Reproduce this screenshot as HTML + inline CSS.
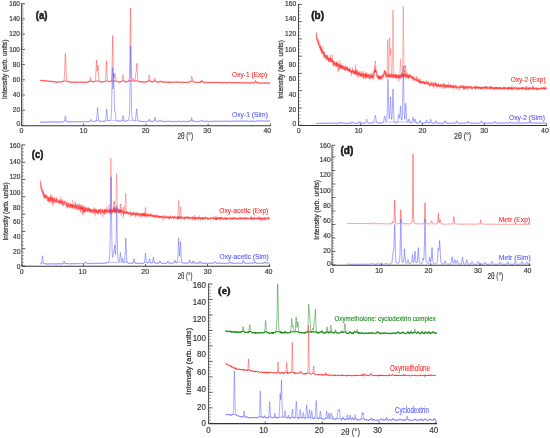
<!DOCTYPE html>
<html><head><meta charset="utf-8"><style>
html,body{margin:0;padding:0;background:#fff;overflow:hidden;}
svg{display:block;}
text{font-family:"Liberation Sans", Arial, sans-serif;}
</style></head><body>
<svg width="550" height="438" viewBox="0 0 550 438">
<rect width="550" height="438" fill="#fff"/>
<line x1="21.50" y1="3.30" x2="21.50" y2="125.50" stroke="#333" stroke-width="0.9"/>
<line x1="21.50" y1="125.50" x2="24.90" y2="125.50" stroke="#333" stroke-width="0.8"/>
<line x1="21.50" y1="123.98" x2="23.50" y2="123.98" stroke="#666" stroke-width="0.6"/>
<line x1="21.50" y1="122.45" x2="23.50" y2="122.45" stroke="#666" stroke-width="0.6"/>
<line x1="21.50" y1="120.93" x2="23.50" y2="120.93" stroke="#666" stroke-width="0.6"/>
<line x1="21.50" y1="119.41" x2="23.50" y2="119.41" stroke="#666" stroke-width="0.6"/>
<line x1="21.50" y1="117.89" x2="23.50" y2="117.89" stroke="#666" stroke-width="0.6"/>
<line x1="21.50" y1="116.37" x2="23.50" y2="116.37" stroke="#666" stroke-width="0.6"/>
<line x1="21.50" y1="114.84" x2="23.50" y2="114.84" stroke="#666" stroke-width="0.6"/>
<line x1="21.50" y1="113.32" x2="23.50" y2="113.32" stroke="#666" stroke-width="0.6"/>
<line x1="21.50" y1="111.80" x2="23.50" y2="111.80" stroke="#666" stroke-width="0.6"/>
<line x1="21.50" y1="110.28" x2="24.90" y2="110.28" stroke="#333" stroke-width="0.8"/>
<line x1="21.50" y1="108.75" x2="23.50" y2="108.75" stroke="#666" stroke-width="0.6"/>
<line x1="21.50" y1="107.23" x2="23.50" y2="107.23" stroke="#666" stroke-width="0.6"/>
<line x1="21.50" y1="105.71" x2="23.50" y2="105.71" stroke="#666" stroke-width="0.6"/>
<line x1="21.50" y1="104.19" x2="23.50" y2="104.19" stroke="#666" stroke-width="0.6"/>
<line x1="21.50" y1="102.66" x2="23.50" y2="102.66" stroke="#666" stroke-width="0.6"/>
<line x1="21.50" y1="101.14" x2="23.50" y2="101.14" stroke="#666" stroke-width="0.6"/>
<line x1="21.50" y1="99.62" x2="23.50" y2="99.62" stroke="#666" stroke-width="0.6"/>
<line x1="21.50" y1="98.09" x2="23.50" y2="98.09" stroke="#666" stroke-width="0.6"/>
<line x1="21.50" y1="96.57" x2="23.50" y2="96.57" stroke="#666" stroke-width="0.6"/>
<line x1="21.50" y1="95.05" x2="24.90" y2="95.05" stroke="#333" stroke-width="0.8"/>
<line x1="21.50" y1="93.53" x2="23.50" y2="93.53" stroke="#666" stroke-width="0.6"/>
<line x1="21.50" y1="92.00" x2="23.50" y2="92.00" stroke="#666" stroke-width="0.6"/>
<line x1="21.50" y1="90.48" x2="23.50" y2="90.48" stroke="#666" stroke-width="0.6"/>
<line x1="21.50" y1="88.96" x2="23.50" y2="88.96" stroke="#666" stroke-width="0.6"/>
<line x1="21.50" y1="87.44" x2="23.50" y2="87.44" stroke="#666" stroke-width="0.6"/>
<line x1="21.50" y1="85.92" x2="23.50" y2="85.92" stroke="#666" stroke-width="0.6"/>
<line x1="21.50" y1="84.39" x2="23.50" y2="84.39" stroke="#666" stroke-width="0.6"/>
<line x1="21.50" y1="82.87" x2="23.50" y2="82.87" stroke="#666" stroke-width="0.6"/>
<line x1="21.50" y1="81.35" x2="23.50" y2="81.35" stroke="#666" stroke-width="0.6"/>
<line x1="21.50" y1="79.83" x2="24.90" y2="79.83" stroke="#333" stroke-width="0.8"/>
<line x1="21.50" y1="78.30" x2="23.50" y2="78.30" stroke="#666" stroke-width="0.6"/>
<line x1="21.50" y1="76.78" x2="23.50" y2="76.78" stroke="#666" stroke-width="0.6"/>
<line x1="21.50" y1="75.26" x2="23.50" y2="75.26" stroke="#666" stroke-width="0.6"/>
<line x1="21.50" y1="73.73" x2="23.50" y2="73.73" stroke="#666" stroke-width="0.6"/>
<line x1="21.50" y1="72.21" x2="23.50" y2="72.21" stroke="#666" stroke-width="0.6"/>
<line x1="21.50" y1="70.69" x2="23.50" y2="70.69" stroke="#666" stroke-width="0.6"/>
<line x1="21.50" y1="69.17" x2="23.50" y2="69.17" stroke="#666" stroke-width="0.6"/>
<line x1="21.50" y1="67.64" x2="23.50" y2="67.64" stroke="#666" stroke-width="0.6"/>
<line x1="21.50" y1="66.12" x2="23.50" y2="66.12" stroke="#666" stroke-width="0.6"/>
<line x1="21.50" y1="64.60" x2="24.90" y2="64.60" stroke="#333" stroke-width="0.8"/>
<line x1="21.50" y1="63.08" x2="23.50" y2="63.08" stroke="#666" stroke-width="0.6"/>
<line x1="21.50" y1="61.55" x2="23.50" y2="61.55" stroke="#666" stroke-width="0.6"/>
<line x1="21.50" y1="60.03" x2="23.50" y2="60.03" stroke="#666" stroke-width="0.6"/>
<line x1="21.50" y1="58.51" x2="23.50" y2="58.51" stroke="#666" stroke-width="0.6"/>
<line x1="21.50" y1="56.99" x2="23.50" y2="56.99" stroke="#666" stroke-width="0.6"/>
<line x1="21.50" y1="55.46" x2="23.50" y2="55.46" stroke="#666" stroke-width="0.6"/>
<line x1="21.50" y1="53.94" x2="23.50" y2="53.94" stroke="#666" stroke-width="0.6"/>
<line x1="21.50" y1="52.42" x2="23.50" y2="52.42" stroke="#666" stroke-width="0.6"/>
<line x1="21.50" y1="50.90" x2="23.50" y2="50.90" stroke="#666" stroke-width="0.6"/>
<line x1="21.50" y1="49.38" x2="24.90" y2="49.38" stroke="#333" stroke-width="0.8"/>
<line x1="21.50" y1="47.85" x2="23.50" y2="47.85" stroke="#666" stroke-width="0.6"/>
<line x1="21.50" y1="46.33" x2="23.50" y2="46.33" stroke="#666" stroke-width="0.6"/>
<line x1="21.50" y1="44.81" x2="23.50" y2="44.81" stroke="#666" stroke-width="0.6"/>
<line x1="21.50" y1="43.29" x2="23.50" y2="43.29" stroke="#666" stroke-width="0.6"/>
<line x1="21.50" y1="41.76" x2="23.50" y2="41.76" stroke="#666" stroke-width="0.6"/>
<line x1="21.50" y1="40.24" x2="23.50" y2="40.24" stroke="#666" stroke-width="0.6"/>
<line x1="21.50" y1="38.72" x2="23.50" y2="38.72" stroke="#666" stroke-width="0.6"/>
<line x1="21.50" y1="37.20" x2="23.50" y2="37.20" stroke="#666" stroke-width="0.6"/>
<line x1="21.50" y1="35.67" x2="23.50" y2="35.67" stroke="#666" stroke-width="0.6"/>
<line x1="21.50" y1="34.15" x2="24.90" y2="34.15" stroke="#333" stroke-width="0.8"/>
<line x1="21.50" y1="32.63" x2="23.50" y2="32.63" stroke="#666" stroke-width="0.6"/>
<line x1="21.50" y1="31.11" x2="23.50" y2="31.11" stroke="#666" stroke-width="0.6"/>
<line x1="21.50" y1="29.58" x2="23.50" y2="29.58" stroke="#666" stroke-width="0.6"/>
<line x1="21.50" y1="28.06" x2="23.50" y2="28.06" stroke="#666" stroke-width="0.6"/>
<line x1="21.50" y1="26.54" x2="23.50" y2="26.54" stroke="#666" stroke-width="0.6"/>
<line x1="21.50" y1="25.02" x2="23.50" y2="25.02" stroke="#666" stroke-width="0.6"/>
<line x1="21.50" y1="23.49" x2="23.50" y2="23.49" stroke="#666" stroke-width="0.6"/>
<line x1="21.50" y1="21.97" x2="23.50" y2="21.97" stroke="#666" stroke-width="0.6"/>
<line x1="21.50" y1="20.45" x2="23.50" y2="20.45" stroke="#666" stroke-width="0.6"/>
<line x1="21.50" y1="18.92" x2="24.90" y2="18.92" stroke="#333" stroke-width="0.8"/>
<line x1="21.50" y1="17.40" x2="23.50" y2="17.40" stroke="#666" stroke-width="0.6"/>
<line x1="21.50" y1="15.88" x2="23.50" y2="15.88" stroke="#666" stroke-width="0.6"/>
<line x1="21.50" y1="14.36" x2="23.50" y2="14.36" stroke="#666" stroke-width="0.6"/>
<line x1="21.50" y1="12.83" x2="23.50" y2="12.83" stroke="#666" stroke-width="0.6"/>
<line x1="21.50" y1="11.31" x2="23.50" y2="11.31" stroke="#666" stroke-width="0.6"/>
<line x1="21.50" y1="9.79" x2="23.50" y2="9.79" stroke="#666" stroke-width="0.6"/>
<line x1="21.50" y1="8.27" x2="23.50" y2="8.27" stroke="#666" stroke-width="0.6"/>
<line x1="21.50" y1="6.75" x2="23.50" y2="6.75" stroke="#666" stroke-width="0.6"/>
<line x1="21.50" y1="5.22" x2="23.50" y2="5.22" stroke="#666" stroke-width="0.6"/>
<line x1="21.50" y1="3.70" x2="24.90" y2="3.70" stroke="#333" stroke-width="0.8"/>
<line x1="21.50" y1="125.80" x2="270.50" y2="125.80" stroke="#333" stroke-width="1.1"/>
<line x1="21.40" y1="125.80" x2="21.40" y2="123.60" stroke="#333" stroke-width="0.8"/>
<line x1="83.65" y1="125.80" x2="83.65" y2="123.60" stroke="#333" stroke-width="0.8"/>
<line x1="145.90" y1="125.80" x2="145.90" y2="123.60" stroke="#333" stroke-width="0.8"/>
<line x1="208.15" y1="125.80" x2="208.15" y2="123.60" stroke="#333" stroke-width="0.8"/>
<line x1="270.40" y1="125.80" x2="270.40" y2="123.60" stroke="#333" stroke-width="0.8"/>
<text x="20.00" y="125.93" font-size="6.5" fill="#383838" text-anchor="end" stroke="#383838" stroke-width="0.18">0</text>
<text x="20.00" y="112.03" font-size="6.5" fill="#383838" text-anchor="end" stroke="#383838" stroke-width="0.18">20</text>
<text x="20.00" y="97.03" font-size="6.5" fill="#383838" text-anchor="end" stroke="#383838" stroke-width="0.18">40</text>
<text x="20.00" y="81.53" font-size="6.5" fill="#383838" text-anchor="end" stroke="#383838" stroke-width="0.18">60</text>
<text x="20.00" y="66.63" font-size="6.5" fill="#383838" text-anchor="end" stroke="#383838" stroke-width="0.18">80</text>
<text x="20.00" y="51.73" font-size="6.5" fill="#383838" text-anchor="end" stroke="#383838" stroke-width="0.18">100</text>
<text x="20.00" y="36.33" font-size="6.5" fill="#383838" text-anchor="end" stroke="#383838" stroke-width="0.18">120</text>
<text x="20.00" y="21.03" font-size="6.5" fill="#383838" text-anchor="end" stroke="#383838" stroke-width="0.18">140</text>
<text x="20.00" y="6.13" font-size="6.5" fill="#383838" text-anchor="end" stroke="#383838" stroke-width="0.18">160</text>
<text x="21.50" y="133.21" font-size="7.0" fill="#383838" text-anchor="middle" stroke="#383838" stroke-width="0.18">0</text>
<text x="83.50" y="133.21" font-size="7.0" fill="#383838" text-anchor="middle" stroke="#383838" stroke-width="0.18">10</text>
<text x="145.60" y="133.21" font-size="7.0" fill="#383838" text-anchor="middle" stroke="#383838" stroke-width="0.18">20</text>
<text x="207.20" y="133.21" font-size="7.0" fill="#383838" text-anchor="middle" stroke="#383838" stroke-width="0.18">30</text>
<text x="267.30" y="133.21" font-size="7.0" fill="#383838" text-anchor="middle" stroke="#383838" stroke-width="0.18">40</text>
<text x="6.95" y="69.25" font-size="6.8" fill="#333" text-anchor="middle" textLength="59.50" lengthAdjust="spacingAndGlyphs" transform="rotate(-90 6.95 69.25)" stroke="#333" stroke-width="0.22">Intensity (arb. units)</text>
<text x="177.50" y="138.63" font-size="8.58" fill="#333" textLength="15.50" lengthAdjust="spacingAndGlyphs" stroke="#333" stroke-width="0.15">2θ (°)</text>
<text x="35.70" y="18.55" font-size="11.4" fill="#1a1a1a" font-weight="bold" textLength="11.70" lengthAdjust="spacingAndGlyphs" stroke="#1a1a1a" stroke-width="0.55">(a)</text>
<text x="232.00" y="76.60" font-size="7.8" fill="#ff2a2a" textLength="35.20" lengthAdjust="spacingAndGlyphs" stroke="#ff2a2a" stroke-width="0.12">Oxy-1 (Exp)</text>
<text x="232.00" y="116.80" font-size="7.8" fill="#5a5aff" textLength="36.00" lengthAdjust="spacingAndGlyphs" stroke="#5a5aff" stroke-width="0.12">Oxy-1 (Sim)</text>
<polyline points="40.10,80.27 40.60,80.43 41.10,80.39 41.60,80.12 42.10,80.62 42.60,80.59 43.10,80.45 43.60,80.74 44.10,80.75 44.60,80.80 45.10,80.80 45.60,80.97 46.10,80.77 46.60,80.94 47.10,80.94 47.60,81.22 48.10,81.16 48.60,81.16 49.10,81.12 49.60,81.28 50.10,81.39 50.60,81.40 51.10,81.77 51.60,81.77 52.10,81.08 52.60,81.31 53.10,81.71 53.60,81.72 54.10,81.90 54.60,81.96 55.10,82.39 55.60,81.75 56.10,81.90 56.60,82.39 57.10,82.11 57.60,82.12 58.10,81.88 58.60,81.66 59.10,82.02 59.60,82.00 60.10,81.72 60.60,81.81 61.10,81.91 61.60,81.69 62.10,81.79 62.60,81.72 63.10,81.52 63.60,81.02 64.10,79.80 64.60,73.27 65.10,58.44 65.40,53.23 65.60,55.94 66.10,70.55 66.60,79.21 67.10,80.83 67.60,81.72 68.10,81.77 68.60,81.67 69.10,81.95 69.60,82.09 70.10,82.18 70.60,81.96 71.10,81.95 71.60,82.23 72.10,82.11 72.60,82.26 73.10,82.37 73.60,81.89 74.10,82.28 74.60,82.47 75.10,82.17 75.60,82.07 76.10,82.38 76.60,82.29 77.10,82.41 77.60,82.17 78.10,81.94 78.60,82.21 79.10,82.14 79.60,82.39 80.10,82.27 80.60,81.90 81.10,81.99 81.60,82.40 82.10,82.36 82.60,82.09 83.10,82.22 83.60,82.30 84.10,82.30 84.60,82.38 85.10,82.25 85.60,82.17 86.10,82.13 86.60,82.38 87.10,81.70 87.60,82.10 88.10,82.10 88.60,81.75 89.10,81.92 89.60,80.90 90.10,78.98 90.50,77.47 90.60,77.73 91.10,80.04 91.60,81.51 92.10,81.68 92.60,81.61 93.10,82.26 93.60,81.83 94.10,81.61 94.60,81.58 95.10,81.05 95.60,78.82 96.10,68.11 96.50,59.85 96.60,60.28 97.10,71.48 97.60,69.93 98.00,65.28 98.10,66.05 98.60,75.23 99.10,80.04 99.60,81.56 100.10,82.20 100.60,81.61 101.10,81.63 101.60,82.03 102.10,81.76 102.60,81.82 103.10,81.83 103.60,81.96 104.10,81.68 104.60,81.65 105.10,81.14 105.60,78.70 106.10,68.68 106.50,60.75 106.60,61.60 107.10,73.72 107.60,80.04 108.10,81.60 108.60,81.52 109.10,81.59 109.60,81.69 110.10,81.41 110.60,81.22 111.10,80.88 111.60,79.23 112.10,67.13 112.60,37.63 112.70,35.56 113.10,55.14 113.60,75.96 114.10,77.88 114.60,75.56 115.00,73.59 115.10,74.03 115.60,76.74 116.10,80.15 116.60,81.50 117.10,81.60 117.60,81.64 118.10,81.88 118.60,82.01 119.10,82.03 119.60,82.29 120.10,81.93 120.60,81.73 121.10,81.75 121.60,81.49 122.10,80.27 122.60,76.83 123.00,74.86 123.10,74.65 123.60,78.56 124.10,80.82 124.60,81.37 125.10,81.85 125.60,82.01 126.10,81.83 126.60,81.72 127.10,81.41 127.60,82.01 128.10,81.34 128.60,80.44 129.10,79.41 129.60,73.87 130.10,39.46 130.50,8.10 130.60,10.80 131.10,58.89 131.60,77.64 132.10,79.27 132.60,79.79 133.10,78.44 133.30,78.85 133.60,79.19 134.10,80.64 134.60,80.74 135.10,80.17 135.60,75.72 135.90,72.61 136.10,72.43 136.60,66.79 136.90,63.27 137.10,65.90 137.60,78.15 138.10,80.82 138.60,81.45 139.10,81.81 139.60,81.68 140.10,81.83 140.60,81.80 141.10,81.92 141.60,81.73 142.10,81.89 142.60,81.95 143.10,81.93 143.60,82.01 144.10,81.94 144.60,82.15 145.10,81.93 145.60,81.95 146.10,81.82 146.60,81.82 147.10,81.61 147.60,81.81 148.10,80.79 148.60,78.30 149.10,75.08 149.20,74.93 149.60,76.78 150.10,79.88 150.60,81.63 151.10,81.86 151.60,81.61 152.10,82.08 152.60,81.78 153.10,81.66 153.60,81.68 154.10,80.61 154.60,78.88 154.80,78.22 155.10,79.52 155.60,80.85 156.10,81.48 156.60,82.09 157.10,81.95 157.60,82.11 158.10,81.98 158.60,82.03 159.10,82.03 159.60,81.50 160.10,81.19 160.30,80.87 160.60,80.99 161.10,81.78 161.60,82.13 162.10,82.06 162.60,81.95 163.10,82.26 163.60,81.79 164.10,81.95 164.60,82.17 165.10,81.89 165.60,82.17 166.10,82.16 166.60,82.36 167.10,82.00 167.60,82.06 168.10,82.26 168.60,81.70 169.10,82.82 169.60,82.06 170.10,82.06 170.60,82.38 171.10,82.20 171.60,81.86 172.10,82.34 172.60,82.39 173.10,82.13 173.60,82.17 174.10,82.33 174.60,82.05 175.10,82.32 175.60,82.28 176.10,82.11 176.60,81.97 177.10,82.20 177.60,82.08 178.10,82.46 178.60,82.29 179.10,82.42 179.60,82.29 180.10,82.32 180.60,82.11 181.10,82.41 181.60,82.63 182.10,82.21 182.60,82.16 183.10,82.25 183.60,82.19 184.10,82.14 184.60,82.31 185.10,82.23 185.60,82.57 186.10,82.28 186.60,82.35 187.10,82.47 187.60,82.21 188.10,82.55 188.60,82.12 189.10,82.06 189.60,82.10 190.10,82.05 190.60,81.35 191.10,79.78 191.60,76.19 191.80,76.27 192.10,77.08 192.60,80.21 193.10,81.62 193.60,82.04 194.10,82.17 194.60,82.05 195.10,82.10 195.60,82.27 196.10,82.22 196.60,82.52 197.10,82.56 197.60,82.34 198.10,82.44 198.60,82.07 199.10,82.46 199.60,82.30 200.10,82.35 200.60,82.26 201.10,80.47 201.60,80.04 202.10,80.72 202.60,82.08 203.10,82.02 203.60,82.26 204.10,82.43 204.60,82.53 205.10,82.43 205.60,82.27 206.10,82.33 206.60,82.62 207.10,82.45 207.60,82.12 208.10,82.64 208.60,82.56 209.10,82.65 209.60,82.42 210.10,82.66 210.60,82.28 211.10,82.62 211.60,82.41 212.10,82.65 212.60,82.72 213.10,82.38 213.60,82.52 214.10,82.54 214.60,82.78 215.10,82.69 215.60,82.31 216.10,82.65 216.60,82.71 217.10,82.99 217.60,82.23 218.10,82.47 218.60,82.85 219.10,82.31 219.60,82.35 220.10,82.70 220.60,82.80 221.10,82.47 221.60,82.72 222.10,82.64 222.60,82.92 223.10,82.63 223.60,82.83 224.10,82.46 224.60,82.60 225.10,82.63 225.60,82.88 226.10,82.77 226.60,82.51 227.10,82.80 227.60,82.83 228.10,82.65 228.60,82.63 229.10,82.65 229.60,82.35 230.10,82.73 230.60,82.75 231.10,82.53 231.60,82.86 232.10,82.44 232.60,82.61 233.10,82.63 233.60,83.13 234.10,82.42 234.60,82.85 235.10,82.93 235.60,82.83 236.10,82.99 236.60,82.56 237.10,82.31 237.60,82.92 238.10,82.54 238.60,82.72 239.10,82.55 239.60,83.00 240.10,82.97 240.60,82.66 241.10,82.99 241.60,82.84 242.10,82.79 242.60,82.83 243.10,82.79 243.60,82.95 244.10,82.90 244.60,82.77 245.10,83.05 245.60,82.73 246.10,82.91 246.60,82.94 247.10,83.16 247.60,82.77 248.10,83.22 248.60,82.91 249.10,82.84 249.60,82.75 250.10,83.01 250.60,82.90 251.10,82.67 251.60,82.67 252.10,82.79 252.60,82.76 253.10,83.11 253.60,83.15 254.10,83.02 254.60,82.78 255.10,81.77 255.60,80.20 255.70,80.28 256.10,81.58 256.60,82.71 257.10,82.79 257.60,82.91 258.10,82.84 258.60,82.80 259.10,82.93 259.60,83.01 260.10,83.35 260.60,83.00 261.10,83.27 261.60,83.36 262.10,83.03 262.60,83.34 263.10,83.17 263.60,82.94 264.10,83.09 264.60,83.04 265.10,83.00 265.60,83.01 266.10,83.08 266.60,83.15 267.10,82.89 267.60,83.07 268.10,82.77 268.60,83.13 269.10,83.21 269.60,83.12 270.10,83.15" fill="none" stroke="#ff2a2a" stroke-width="0.45" stroke-linejoin="round" opacity="1.0"/>
<polyline points="40.10,80.27 40.60,80.43 41.10,80.39 41.60,80.12 42.10,80.62 42.60,80.59 43.10,80.45 43.60,80.74 44.10,80.75 44.60,80.80 45.10,80.80 45.60,80.97 46.10,80.77 46.60,80.94 47.10,80.94 47.60,81.22 48.10,81.16 48.60,81.16 49.10,81.12 49.60,81.28 50.10,81.39 50.60,81.40 51.10,81.77 51.60,81.77 52.10,81.08 52.60,81.31 53.10,81.71 53.60,81.72 54.10,81.90 54.60,81.96 55.10,82.39 55.60,81.75 56.10,81.90 56.60,82.39 57.10,82.11 57.60,82.12 58.10,81.88 58.60,81.66 59.10,82.02 59.60,82.00 60.10,81.72 60.60,81.81 61.10,81.91 61.60,81.69 62.10,81.79 62.60,81.72 63.10,81.52 63.60,81.02 64.10,80.98 64.60,80.99 65.10,81.00 65.40,81.01 65.60,81.01 66.10,81.02 66.60,81.03 67.10,81.04 67.60,81.72 68.10,81.77 68.60,81.67 69.10,81.95 69.60,82.09 70.10,82.18 70.60,81.96 71.10,81.95 71.60,82.23 72.10,82.11 72.60,82.26 73.10,82.37 73.60,81.89 74.10,82.28 74.60,82.47 75.10,82.17 75.60,82.07 76.10,82.38 76.60,82.29 77.10,82.41 77.60,82.17 78.10,81.94 78.60,82.21 79.10,82.14 79.60,82.39 80.10,82.27 80.60,81.90 81.10,81.99 81.60,82.40 82.10,82.36 82.60,82.09 83.10,82.22 83.60,82.30 84.10,82.30 84.60,82.38 85.10,82.25 85.60,82.17 86.10,82.13 86.60,82.38 87.10,81.70 87.60,82.10 88.10,82.10 88.60,81.75 89.10,81.92 89.60,81.05 90.10,81.05 90.50,81.05 90.60,81.05 91.10,81.05 91.60,81.51 92.10,81.68 92.60,81.61 93.10,82.26 93.60,81.83 94.10,81.61 94.60,81.58 95.10,81.05 95.60,81.04 96.10,81.03 96.50,81.03 96.60,81.03 97.10,81.03 97.60,81.03 98.00,81.03 98.10,81.03 98.60,81.03 99.10,81.03 99.60,81.56 100.10,82.20 100.60,81.61 101.10,81.63 101.60,82.03 102.10,81.76 102.60,81.82 103.10,81.83 103.60,81.96 104.10,81.68 104.60,81.65 105.10,81.14 105.60,81.01 106.10,81.01 106.50,81.01 106.60,81.01 107.10,81.01 107.60,81.01 108.10,81.60 108.60,81.52 109.10,81.59 109.60,81.69 110.10,81.41 110.60,81.22 111.10,81.00 111.60,81.00 112.10,80.99 112.60,80.99 112.70,80.99 113.10,80.99 113.60,80.99 114.10,80.99 114.60,80.99 115.00,80.99 115.10,80.99 115.60,80.99 116.10,80.98 116.60,81.50 117.10,81.60 117.60,81.64 118.10,81.88 118.60,82.01 119.10,82.03 119.60,82.29 120.10,81.93 120.60,81.73 121.10,81.75 121.60,81.49 122.10,80.97 122.60,80.97 123.00,80.97 123.10,80.97 123.60,80.97 124.10,80.96 124.60,81.37 125.10,81.85 125.60,82.01 126.10,81.83 126.60,81.72 127.10,81.41 127.60,82.01 128.10,81.34 128.60,80.95 129.10,80.95 129.60,80.95 130.10,80.95 130.50,80.95 130.60,80.95 131.10,80.95 131.60,80.95 132.10,80.94 132.60,80.94 133.10,80.94 133.30,80.94 133.60,80.94 134.10,80.94 134.60,80.94 135.10,80.94 135.60,80.94 135.90,80.94 136.10,80.93 136.60,80.93 136.90,80.93 137.10,80.93 137.60,80.93 138.10,80.93 138.60,81.45 139.10,81.81 139.60,81.68 140.10,81.83 140.60,81.80 141.10,81.92 141.60,81.73 142.10,81.89 142.60,81.95 143.10,81.93 143.60,82.01 144.10,81.94 144.60,82.15 145.10,81.93 145.60,81.95 146.10,81.82 146.60,81.82 147.10,81.61 147.60,81.81 148.10,80.90 148.60,80.90 149.10,80.90 149.20,80.90 149.60,80.90 150.10,80.90 150.60,81.63 151.10,81.86 151.60,81.61 152.10,82.08 152.60,81.78 153.10,81.66 153.60,81.68 154.10,80.92 154.60,80.93 154.80,80.93 155.10,80.93 155.60,80.93 156.10,81.48 156.60,82.09 157.10,81.95 157.60,82.11 158.10,81.98 158.60,82.03 159.10,82.03 159.60,81.50 160.10,81.19 160.30,80.96 160.60,80.99 161.10,81.78 161.60,82.13 162.10,82.06 162.60,81.95 163.10,82.26 163.60,81.79 164.10,81.95 164.60,82.17 165.10,81.89 165.60,82.17 166.10,82.16 166.60,82.36 167.10,82.00 167.60,82.06 168.10,82.26 168.60,81.70 169.10,82.82 169.60,82.06 170.10,82.06 170.60,82.38 171.10,82.20 171.60,81.86 172.10,82.34 172.60,82.39 173.10,82.13 173.60,82.17 174.10,82.33 174.60,82.05 175.10,82.32 175.60,82.28 176.10,82.11 176.60,81.97 177.10,82.20 177.60,82.08 178.10,82.46 178.60,82.29 179.10,82.42 179.60,82.29 180.10,82.32 180.60,82.11 181.10,82.41 181.60,82.63 182.10,82.21 182.60,82.16 183.10,82.25 183.60,82.19 184.10,82.14 184.60,82.31 185.10,82.23 185.60,82.57 186.10,82.28 186.60,82.35 187.10,82.47 187.60,82.21 188.10,82.55 188.60,82.12 189.10,82.06 189.60,82.10 190.10,82.05 190.60,81.35 191.10,81.15 191.60,81.15 191.80,81.15 192.10,81.15 192.60,81.16 193.10,81.62 193.60,82.04 194.10,82.17 194.60,82.05 195.10,82.10 195.60,82.27 196.10,82.22 196.60,82.52 197.10,82.56 197.60,82.34 198.10,82.44 198.60,82.07 199.10,82.46 199.60,82.30 200.10,82.35 200.60,82.26 201.10,81.21 201.60,81.22 202.10,81.22 202.60,82.08 203.10,82.02 203.60,82.26 204.10,82.43 204.60,82.53 205.10,82.43 205.60,82.27 206.10,82.33 206.60,82.62 207.10,82.45 207.60,82.12 208.10,82.64 208.60,82.56 209.10,82.65 209.60,82.42 210.10,82.66 210.60,82.28 211.10,82.62 211.60,82.41 212.10,82.65 212.60,82.72 213.10,82.38 213.60,82.52 214.10,82.54 214.60,82.78 215.10,82.69 215.60,82.31 216.10,82.65 216.60,82.71 217.10,82.99 217.60,82.23 218.10,82.47 218.60,82.85 219.10,82.31 219.60,82.35 220.10,82.70 220.60,82.80 221.10,82.47 221.60,82.72 222.10,82.64 222.60,82.92 223.10,82.63 223.60,82.83 224.10,82.46 224.60,82.60 225.10,82.63 225.60,82.88 226.10,82.77 226.60,82.51 227.10,82.80 227.60,82.83 228.10,82.65 228.60,82.63 229.10,82.65 229.60,82.35 230.10,82.73 230.60,82.75 231.10,82.53 231.60,82.86 232.10,82.44 232.60,82.61 233.10,82.63 233.60,83.13 234.10,82.42 234.60,82.85 235.10,82.93 235.60,82.83 236.10,82.99 236.60,82.56 237.10,82.31 237.60,82.92 238.10,82.54 238.60,82.72 239.10,82.55 239.60,83.00 240.10,82.97 240.60,82.66 241.10,82.99 241.60,82.84 242.10,82.79 242.60,82.83 243.10,82.79 243.60,82.95 244.10,82.90 244.60,82.77 245.10,83.05 245.60,82.73 246.10,82.91 246.60,82.94 247.10,83.16 247.60,82.77 248.10,83.22 248.60,82.91 249.10,82.84 249.60,82.75 250.10,83.01 250.60,82.90 251.10,82.67 251.60,82.67 252.10,82.79 252.60,82.76 253.10,83.11 253.60,83.15 254.10,83.02 254.60,82.78 255.10,81.77 255.60,81.75 255.70,81.75 256.10,81.76 256.60,82.71 257.10,82.79 257.60,82.91 258.10,82.84 258.60,82.80 259.10,82.93 259.60,83.01 260.10,83.35 260.60,83.00 261.10,83.27 261.60,83.36 262.10,83.03 262.60,83.34 263.10,83.17 263.60,82.94 264.10,83.09 264.60,83.04 265.10,83.00 265.60,83.01 266.10,83.08 266.60,83.15 267.10,82.89 267.60,83.07 268.10,82.77 268.60,83.13 269.10,83.21 269.60,83.12 270.10,83.15" fill="none" stroke="#ff2a2a" stroke-width="0.9" stroke-linejoin="round" opacity="1.0"/>
<polyline points="40.10,122.22 40.60,122.11 41.10,122.12 41.60,121.81 42.10,122.44 42.60,122.34 43.10,122.11 43.60,122.27 44.10,122.20 44.60,122.06 45.10,122.29 45.60,122.09 46.10,122.08 46.60,122.01 47.10,122.19 47.60,122.10 48.10,122.19 48.60,122.02 49.10,122.12 49.60,121.96 50.10,122.22 50.60,122.11 51.10,122.13 51.60,122.14 52.10,121.92 52.60,122.18 53.10,122.37 53.60,121.81 54.10,121.79 54.60,121.82 55.10,122.16 55.60,122.05 56.10,122.19 56.60,122.13 57.10,122.04 57.60,122.05 58.10,121.97 58.60,122.12 59.10,121.81 59.60,121.91 60.10,122.00 60.60,122.22 61.10,121.83 61.60,121.76 62.10,121.82 62.60,122.02 63.10,121.79 63.60,121.94 64.10,121.15 64.60,120.24 65.10,117.18 65.40,115.78 65.60,116.51 66.10,119.73 66.60,121.28 67.10,121.82 67.60,122.13 68.10,121.85 68.60,121.79 69.10,121.73 69.60,121.95 70.10,121.83 70.60,121.83 71.10,121.84 71.60,121.95 72.10,121.69 72.60,121.62 73.10,121.48 73.60,122.02 74.10,121.85 74.60,122.06 75.10,121.83 75.60,121.71 76.10,121.89 76.60,121.80 77.10,121.62 77.60,121.67 78.10,122.06 78.60,121.84 79.10,121.85 79.60,121.74 80.10,121.67 80.60,121.90 81.10,121.75 81.60,121.64 82.10,121.73 82.60,121.61 83.10,121.77 83.60,121.90 84.10,121.60 84.60,121.93 85.10,121.61 85.60,121.73 86.10,121.57 86.60,121.65 87.10,121.68 87.60,121.60 88.10,121.54 88.60,121.52 89.10,121.46 89.60,121.26 90.10,121.02 90.60,119.98 91.00,119.38 91.10,119.39 91.60,120.79 92.10,121.31 92.60,121.41 93.10,121.79 93.60,121.35 94.10,121.63 94.60,121.31 95.10,121.45 95.60,120.99 96.10,121.19 96.60,119.96 97.10,114.26 97.60,107.48 98.10,114.50 98.60,119.96 99.10,120.90 99.60,121.21 100.10,121.29 100.60,121.47 101.10,121.50 101.60,121.29 102.10,121.31 102.60,121.30 103.10,121.16 103.60,121.24 104.10,121.26 104.60,121.29 105.10,121.20 105.60,120.22 106.10,116.59 106.60,108.97 106.70,108.95 107.10,113.28 107.60,119.40 108.10,120.49 108.60,120.67 109.10,120.79 109.60,120.55 110.10,120.37 110.60,119.51 111.10,118.35 111.60,109.72 112.10,80.93 112.40,67.58 112.60,72.33 113.10,89.02 113.60,73.91 113.70,72.91 114.10,90.67 114.60,111.02 115.10,112.07 115.20,112.26 115.60,115.69 116.10,119.54 116.60,120.46 117.10,120.58 117.60,120.83 118.10,121.02 118.60,120.80 119.10,121.28 119.60,121.15 120.10,121.16 120.60,121.32 121.10,121.23 121.60,121.01 122.10,120.07 122.60,117.80 123.10,115.50 123.60,117.60 124.10,120.33 124.60,120.99 125.10,120.74 125.60,121.06 126.10,120.82 126.60,121.10 127.10,120.92 127.60,120.42 128.10,120.10 128.60,119.61 129.10,118.01 129.60,110.61 130.10,79.51 130.60,46.07 131.10,79.48 131.60,110.05 132.10,118.06 132.60,119.67 133.10,120.13 133.60,120.37 134.10,120.72 134.60,120.95 135.10,120.45 135.60,118.73 136.10,114.02 136.60,108.77 137.10,113.95 137.60,118.96 138.10,120.80 138.60,120.89 139.10,121.35 139.60,121.28 140.10,121.03 140.60,121.03 141.10,121.30 141.60,121.56 142.10,121.40 142.60,121.41 143.10,121.37 143.60,121.52 144.10,121.47 144.60,121.46 145.10,121.28 145.60,121.60 146.10,121.63 146.60,121.22 147.10,121.75 147.60,121.49 148.10,121.25 148.60,120.66 149.10,119.71 149.40,119.13 149.60,119.23 150.10,120.49 150.60,121.46 151.10,121.28 151.60,121.32 152.10,121.82 152.60,121.70 153.10,121.49 153.60,121.19 154.10,120.87 154.60,118.28 155.00,116.98 155.10,116.99 155.60,119.54 156.10,120.84 156.60,121.39 157.10,121.38 157.60,121.41 158.10,121.52 158.60,121.26 159.10,121.16 159.60,120.75 160.10,120.09 160.30,120.08 160.60,120.29 161.10,121.24 161.60,121.20 162.10,121.34 162.60,121.31 163.10,121.25 163.60,121.72 164.10,121.57 164.60,121.33 165.10,121.33 165.60,121.44 166.10,121.23 166.60,121.51 167.10,121.25 167.60,121.39 168.10,121.29 168.60,121.37 169.10,121.25 169.60,121.21 170.10,121.30 170.60,121.34 171.10,121.40 171.60,121.45 172.10,121.67 172.60,121.56 173.10,121.40 173.60,121.55 174.10,121.34 174.60,121.66 175.10,121.52 175.60,121.23 176.10,121.55 176.60,121.56 177.10,121.03 177.60,121.32 178.10,121.36 178.60,121.14 179.10,121.27 179.60,121.29 180.10,121.51 180.60,121.47 181.10,121.82 181.60,121.37 182.10,121.60 182.60,121.44 183.10,121.46 183.60,121.25 184.10,121.13 184.60,121.30 185.10,121.53 185.60,121.65 186.10,121.50 186.60,121.48 187.10,121.28 187.60,121.63 188.10,121.59 188.60,121.30 189.10,121.36 189.60,121.19 190.10,121.50 190.60,121.06 191.10,119.54 191.60,117.75 192.10,119.62 192.60,120.94 193.10,121.09 193.60,121.14 194.10,121.09 194.60,121.44 195.10,121.71 195.60,121.13 196.10,121.40 196.60,121.45 197.10,121.24 197.60,121.42 198.10,121.22 198.60,121.56 199.10,121.29 199.60,121.38 200.10,121.45 200.60,121.24 201.10,120.72 201.60,120.08 201.80,120.11 202.10,120.31 202.60,121.12 203.10,121.14 203.60,121.36 204.10,121.46 204.60,121.36 205.10,121.64 205.60,121.32 206.10,121.20 206.60,121.11 207.10,121.52 207.60,121.34 208.10,121.50 208.60,121.41 209.10,121.59 209.60,121.53 210.10,121.28 210.60,121.37 211.10,121.49 211.60,121.14 212.10,121.54 212.60,121.51 213.10,121.47 213.60,121.29 214.10,121.36 214.60,121.14 215.10,121.32 215.60,121.22 216.10,121.32 216.60,121.23 217.10,121.34 217.60,121.47 218.10,121.10 218.60,121.43 219.10,120.99 219.60,120.96 220.10,121.26 220.60,121.28 221.10,121.34 221.60,121.03 222.10,121.26 222.60,121.29 223.10,121.45 223.60,121.25 224.10,121.34 224.60,121.11 225.10,121.23 225.60,121.18 226.10,121.35 226.60,121.10 227.10,121.12 227.60,121.33 228.10,121.51 228.60,121.29 229.10,121.28 229.60,121.18 230.10,121.39 230.60,121.30 231.10,121.48 231.60,121.27 232.10,121.07 232.60,121.13 233.10,121.06 233.60,121.02 234.10,121.39 234.60,121.32 235.10,121.01 235.60,121.46 236.10,121.23 236.60,121.05 237.10,121.24 237.60,121.17 238.10,121.06 238.60,120.89 239.10,121.18 239.60,121.22 240.10,120.78 240.60,121.25 241.10,121.26 241.60,121.09 242.10,121.17 242.60,121.11 243.10,121.03 243.60,121.10 244.10,121.35 244.60,120.93 245.10,121.18 245.60,121.17 246.10,121.03 246.60,121.07 247.10,120.92 247.60,121.00 248.10,121.13 248.60,121.17 249.10,120.98 249.60,121.57 250.10,121.03 250.60,121.13 251.10,121.07 251.60,121.04 252.10,121.30 252.60,121.03 253.10,121.30 253.60,121.26 254.10,120.93 254.60,121.24 255.10,120.99 255.60,121.49 256.10,121.02 256.60,120.93 257.10,120.79 257.60,120.88 258.10,120.98 258.60,120.91 259.10,120.88 259.60,120.95 260.10,121.02 260.60,121.27 261.10,120.79 261.60,120.96 262.10,120.90 262.60,120.81 263.10,120.85 263.60,120.90 264.10,121.14 264.60,121.00 265.10,120.95 265.60,121.12 266.10,121.06 266.60,120.98 267.10,121.07 267.60,120.89 268.10,121.10 268.60,121.08 269.10,120.94 269.60,120.82 270.10,121.23" fill="none" stroke="#5a5aff" stroke-width="0.5" stroke-linejoin="round" opacity="1.0"/>
<polyline points="40.10,122.22 40.60,122.11 41.10,122.12 41.60,121.81 42.10,122.44 42.60,122.34 43.10,122.11 43.60,122.27 44.10,122.20 44.60,122.06 45.10,122.29 45.60,122.09 46.10,122.08 46.60,122.01 47.10,122.19 47.60,122.10 48.10,122.19 48.60,122.02 49.10,122.12 49.60,121.96 50.10,122.22 50.60,122.11 51.10,122.13 51.60,122.14 52.10,121.92 52.60,122.18 53.10,122.37 53.60,121.81 54.10,121.79 54.60,121.82 55.10,122.16 55.60,122.05 56.10,122.19 56.60,122.13 57.10,122.04 57.60,122.05 58.10,121.97 58.60,122.12 59.10,121.81 59.60,121.91 60.10,122.00 60.60,122.22 61.10,121.83 61.60,121.76 62.10,121.82 62.60,122.02 63.10,121.79 63.60,121.94 64.10,121.15 64.60,120.75 65.10,120.75 65.40,120.75 65.60,120.74 66.10,120.74 66.60,121.28 67.10,121.82 67.60,122.13 68.10,121.85 68.60,121.79 69.10,121.73 69.60,121.95 70.10,121.83 70.60,121.83 71.10,121.84 71.60,121.95 72.10,121.69 72.60,121.62 73.10,121.48 73.60,122.02 74.10,121.85 74.60,122.06 75.10,121.83 75.60,121.71 76.10,121.89 76.60,121.80 77.10,121.62 77.60,121.67 78.10,122.06 78.60,121.84 79.10,121.85 79.60,121.74 80.10,121.67 80.60,121.90 81.10,121.75 81.60,121.64 82.10,121.73 82.60,121.61 83.10,121.77 83.60,121.90 84.10,121.60 84.60,121.93 85.10,121.61 85.60,121.73 86.10,121.57 86.60,121.65 87.10,121.68 87.60,121.60 88.10,121.54 88.60,121.52 89.10,121.46 89.60,121.26 90.10,121.02 90.60,120.49 91.00,120.49 91.10,120.49 91.60,120.79 92.10,121.31 92.60,121.41 93.10,121.79 93.60,121.35 94.10,121.63 94.60,121.31 95.10,121.45 95.60,120.99 96.10,121.19 96.60,120.43 97.10,120.43 97.60,120.42 98.10,120.42 98.60,120.41 99.10,120.90 99.60,121.21 100.10,121.29 100.60,121.47 101.10,121.50 101.60,121.29 102.10,121.31 102.60,121.30 103.10,121.16 103.60,121.24 104.10,121.26 104.60,121.29 105.10,121.20 105.60,120.39 106.10,120.39 106.60,120.39 106.70,120.39 107.10,120.39 107.60,120.38 108.10,120.49 108.60,120.67 109.10,120.79 109.60,120.55 110.10,120.38 110.60,120.38 111.10,120.38 111.60,120.38 112.10,120.38 112.40,120.38 112.60,120.37 113.10,120.37 113.60,120.37 113.70,120.37 114.10,120.37 114.60,120.37 115.10,120.37 115.20,120.37 115.60,120.37 116.10,120.37 116.60,120.46 117.10,120.58 117.60,120.83 118.10,121.02 118.60,120.80 119.10,121.28 119.60,121.15 120.10,121.16 120.60,121.32 121.10,121.23 121.60,121.01 122.10,120.36 122.60,120.35 123.10,120.35 123.60,120.35 124.10,120.35 124.60,120.99 125.10,120.74 125.60,121.06 126.10,120.82 126.60,121.10 127.10,120.92 127.60,120.42 128.10,120.34 128.60,120.34 129.10,120.34 129.60,120.34 130.10,120.34 130.60,120.34 131.10,120.34 131.60,120.34 132.10,120.34 132.60,120.33 133.10,120.33 133.60,120.37 134.10,120.72 134.60,120.95 135.10,120.45 135.60,120.33 136.10,120.33 136.60,120.33 137.10,120.33 137.60,120.32 138.10,120.80 138.60,120.89 139.10,121.35 139.60,121.28 140.10,121.03 140.60,121.03 141.10,121.30 141.60,121.56 142.10,121.40 142.60,121.41 143.10,121.37 143.60,121.52 144.10,121.47 144.60,121.46 145.10,121.28 145.60,121.60 146.10,121.63 146.60,121.22 147.10,121.75 147.60,121.49 148.10,121.25 148.60,120.66 149.10,120.30 149.40,120.30 149.60,120.30 150.10,120.49 150.60,121.46 151.10,121.28 151.60,121.32 152.10,121.82 152.60,121.70 153.10,121.49 153.60,121.19 154.10,120.87 154.60,120.29 155.00,120.29 155.10,120.29 155.60,120.29 156.10,120.84 156.60,121.39 157.10,121.38 157.60,121.41 158.10,121.52 158.60,121.26 159.10,121.16 159.60,120.75 160.10,120.28 160.30,120.28 160.60,120.29 161.10,121.24 161.60,121.20 162.10,121.34 162.60,121.31 163.10,121.25 163.60,121.72 164.10,121.57 164.60,121.33 165.10,121.33 165.60,121.44 166.10,121.23 166.60,121.51 167.10,121.25 167.60,121.39 168.10,121.29 168.60,121.37 169.10,121.25 169.60,121.21 170.10,121.30 170.60,121.34 171.10,121.40 171.60,121.45 172.10,121.67 172.60,121.56 173.10,121.40 173.60,121.55 174.10,121.34 174.60,121.66 175.10,121.52 175.60,121.23 176.10,121.55 176.60,121.56 177.10,121.03 177.60,121.32 178.10,121.36 178.60,121.14 179.10,121.27 179.60,121.29 180.10,121.51 180.60,121.47 181.10,121.82 181.60,121.37 182.10,121.60 182.60,121.44 183.10,121.46 183.60,121.25 184.10,121.13 184.60,121.30 185.10,121.53 185.60,121.65 186.10,121.50 186.60,121.48 187.10,121.28 187.60,121.63 188.10,121.59 188.60,121.30 189.10,121.36 189.60,121.19 190.10,121.50 190.60,121.06 191.10,120.22 191.60,120.22 192.10,120.22 192.60,120.94 193.10,121.09 193.60,121.14 194.10,121.09 194.60,121.44 195.10,121.71 195.60,121.13 196.10,121.40 196.60,121.45 197.10,121.24 197.60,121.42 198.10,121.22 198.60,121.56 199.10,121.29 199.60,121.38 200.10,121.45 200.60,121.24 201.10,120.72 201.60,120.19 201.80,120.19 202.10,120.31 202.60,121.12 203.10,121.14 203.60,121.36 204.10,121.46 204.60,121.36 205.10,121.64 205.60,121.32 206.10,121.20 206.60,121.11 207.10,121.52 207.60,121.34 208.10,121.50 208.60,121.41 209.10,121.59 209.60,121.53 210.10,121.28 210.60,121.37 211.10,121.49 211.60,121.14 212.10,121.54 212.60,121.51 213.10,121.47 213.60,121.29 214.10,121.36 214.60,121.14 215.10,121.32 215.60,121.22 216.10,121.32 216.60,121.23 217.10,121.34 217.60,121.47 218.10,121.10 218.60,121.43 219.10,120.99 219.60,120.96 220.10,121.26 220.60,121.28 221.10,121.34 221.60,121.03 222.10,121.26 222.60,121.29 223.10,121.45 223.60,121.25 224.10,121.34 224.60,121.11 225.10,121.23 225.60,121.18 226.10,121.35 226.60,121.10 227.10,121.12 227.60,121.33 228.10,121.51 228.60,121.29 229.10,121.28 229.60,121.18 230.10,121.39 230.60,121.30 231.10,121.48 231.60,121.27 232.10,121.07 232.60,121.13 233.10,121.06 233.60,121.02 234.10,121.39 234.60,121.32 235.10,121.01 235.60,121.46 236.10,121.23 236.60,121.05 237.10,121.24 237.60,121.17 238.10,121.06 238.60,120.89 239.10,121.18 239.60,121.22 240.10,120.78 240.60,121.25 241.10,121.26 241.60,121.09 242.10,121.17 242.60,121.11 243.10,121.03 243.60,121.10 244.10,121.35 244.60,120.93 245.10,121.18 245.60,121.17 246.10,121.03 246.60,121.07 247.10,120.92 247.60,121.00 248.10,121.13 248.60,121.17 249.10,120.98 249.60,121.57 250.10,121.03 250.60,121.13 251.10,121.07 251.60,121.04 252.10,121.30 252.60,121.03 253.10,121.30 253.60,121.26 254.10,120.93 254.60,121.24 255.10,120.99 255.60,121.49 256.10,121.02 256.60,120.93 257.10,120.79 257.60,120.88 258.10,120.98 258.60,120.91 259.10,120.88 259.60,120.95 260.10,121.02 260.60,121.27 261.10,120.79 261.60,120.96 262.10,120.90 262.60,120.81 263.10,120.85 263.60,120.90 264.10,121.14 264.60,121.00 265.10,120.95 265.60,121.12 266.10,121.06 266.60,120.98 267.10,121.07 267.60,120.89 268.10,121.10 268.60,121.08 269.10,120.94 269.60,120.82 270.10,121.23" fill="none" stroke="#5a5aff" stroke-width="0.4" stroke-linejoin="round" opacity="1.0"/>
<line x1="298.50" y1="4.00" x2="298.50" y2="125.20" stroke="#333" stroke-width="0.9"/>
<line x1="298.50" y1="125.20" x2="301.90" y2="125.20" stroke="#333" stroke-width="0.8"/>
<line x1="298.50" y1="121.75" x2="300.50" y2="121.75" stroke="#666" stroke-width="0.6"/>
<line x1="298.50" y1="118.30" x2="300.50" y2="118.30" stroke="#666" stroke-width="0.6"/>
<line x1="298.50" y1="114.85" x2="300.50" y2="114.85" stroke="#666" stroke-width="0.6"/>
<line x1="298.50" y1="111.39" x2="300.50" y2="111.39" stroke="#666" stroke-width="0.6"/>
<line x1="298.50" y1="107.94" x2="301.90" y2="107.94" stroke="#333" stroke-width="0.8"/>
<line x1="298.50" y1="104.49" x2="300.50" y2="104.49" stroke="#666" stroke-width="0.6"/>
<line x1="298.50" y1="101.04" x2="300.50" y2="101.04" stroke="#666" stroke-width="0.6"/>
<line x1="298.50" y1="97.59" x2="300.50" y2="97.59" stroke="#666" stroke-width="0.6"/>
<line x1="298.50" y1="94.14" x2="300.50" y2="94.14" stroke="#666" stroke-width="0.6"/>
<line x1="298.50" y1="90.69" x2="301.90" y2="90.69" stroke="#333" stroke-width="0.8"/>
<line x1="298.50" y1="87.23" x2="300.50" y2="87.23" stroke="#666" stroke-width="0.6"/>
<line x1="298.50" y1="83.78" x2="300.50" y2="83.78" stroke="#666" stroke-width="0.6"/>
<line x1="298.50" y1="80.33" x2="300.50" y2="80.33" stroke="#666" stroke-width="0.6"/>
<line x1="298.50" y1="76.88" x2="300.50" y2="76.88" stroke="#666" stroke-width="0.6"/>
<line x1="298.50" y1="73.43" x2="301.90" y2="73.43" stroke="#333" stroke-width="0.8"/>
<line x1="298.50" y1="69.98" x2="300.50" y2="69.98" stroke="#666" stroke-width="0.6"/>
<line x1="298.50" y1="66.53" x2="300.50" y2="66.53" stroke="#666" stroke-width="0.6"/>
<line x1="298.50" y1="63.07" x2="300.50" y2="63.07" stroke="#666" stroke-width="0.6"/>
<line x1="298.50" y1="59.62" x2="300.50" y2="59.62" stroke="#666" stroke-width="0.6"/>
<line x1="298.50" y1="56.17" x2="301.90" y2="56.17" stroke="#333" stroke-width="0.8"/>
<line x1="298.50" y1="52.72" x2="300.50" y2="52.72" stroke="#666" stroke-width="0.6"/>
<line x1="298.50" y1="49.27" x2="300.50" y2="49.27" stroke="#666" stroke-width="0.6"/>
<line x1="298.50" y1="45.82" x2="300.50" y2="45.82" stroke="#666" stroke-width="0.6"/>
<line x1="298.50" y1="42.37" x2="300.50" y2="42.37" stroke="#666" stroke-width="0.6"/>
<line x1="298.50" y1="38.91" x2="301.90" y2="38.91" stroke="#333" stroke-width="0.8"/>
<line x1="298.50" y1="35.46" x2="300.50" y2="35.46" stroke="#666" stroke-width="0.6"/>
<line x1="298.50" y1="32.01" x2="300.50" y2="32.01" stroke="#666" stroke-width="0.6"/>
<line x1="298.50" y1="28.56" x2="300.50" y2="28.56" stroke="#666" stroke-width="0.6"/>
<line x1="298.50" y1="25.11" x2="300.50" y2="25.11" stroke="#666" stroke-width="0.6"/>
<line x1="298.50" y1="21.66" x2="301.90" y2="21.66" stroke="#333" stroke-width="0.8"/>
<line x1="298.50" y1="18.21" x2="300.50" y2="18.21" stroke="#666" stroke-width="0.6"/>
<line x1="298.50" y1="14.75" x2="300.50" y2="14.75" stroke="#666" stroke-width="0.6"/>
<line x1="298.50" y1="11.30" x2="300.50" y2="11.30" stroke="#666" stroke-width="0.6"/>
<line x1="298.50" y1="7.85" x2="300.50" y2="7.85" stroke="#666" stroke-width="0.6"/>
<line x1="298.50" y1="4.40" x2="301.90" y2="4.40" stroke="#333" stroke-width="0.8"/>
<line x1="298.50" y1="125.50" x2="547.00" y2="125.50" stroke="#333" stroke-width="1.1"/>
<line x1="298.50" y1="125.50" x2="298.50" y2="123.30" stroke="#333" stroke-width="0.8"/>
<line x1="360.45" y1="125.50" x2="360.45" y2="123.30" stroke="#333" stroke-width="0.8"/>
<line x1="422.40" y1="125.50" x2="422.40" y2="123.30" stroke="#333" stroke-width="0.8"/>
<line x1="484.35" y1="125.50" x2="484.35" y2="123.30" stroke="#333" stroke-width="0.8"/>
<line x1="546.30" y1="125.50" x2="546.30" y2="123.30" stroke="#333" stroke-width="0.8"/>
<text x="296.10" y="126.06" font-size="6.6" fill="#383838" text-anchor="end" stroke="#383838" stroke-width="0.18">0</text>
<text x="296.10" y="112.06" font-size="6.6" fill="#383838" text-anchor="end" stroke="#383838" stroke-width="0.18">20</text>
<text x="296.10" y="96.96" font-size="6.6" fill="#383838" text-anchor="end" stroke="#383838" stroke-width="0.18">40</text>
<text x="296.10" y="81.36" font-size="6.6" fill="#383838" text-anchor="end" stroke="#383838" stroke-width="0.18">60</text>
<text x="296.10" y="67.06" font-size="6.6" fill="#383838" text-anchor="end" stroke="#383838" stroke-width="0.18">80</text>
<text x="296.10" y="51.76" font-size="6.6" fill="#383838" text-anchor="end" stroke="#383838" stroke-width="0.18">100</text>
<text x="296.10" y="36.36" font-size="6.6" fill="#383838" text-anchor="end" stroke="#383838" stroke-width="0.18">120</text>
<text x="296.10" y="20.96" font-size="6.6" fill="#383838" text-anchor="end" stroke="#383838" stroke-width="0.18">140</text>
<text x="296.10" y="6.16" font-size="6.6" fill="#383838" text-anchor="end" stroke="#383838" stroke-width="0.18">160</text>
<text x="298.70" y="133.31" font-size="7.0" fill="#383838" text-anchor="middle" stroke="#383838" stroke-width="0.18">0</text>
<text x="358.60" y="133.31" font-size="7.0" fill="#383838" text-anchor="middle" stroke="#383838" stroke-width="0.18">10</text>
<text x="422.40" y="133.31" font-size="7.0" fill="#383838" text-anchor="middle" stroke="#383838" stroke-width="0.18">20</text>
<text x="484.20" y="133.31" font-size="7.0" fill="#383838" text-anchor="middle" stroke="#383838" stroke-width="0.18">30</text>
<text x="545.00" y="133.31" font-size="7.0" fill="#383838" text-anchor="middle" stroke="#383838" stroke-width="0.18">40</text>
<text x="282.71" y="69.45" font-size="6.7" fill="#333" text-anchor="middle" textLength="58.70" lengthAdjust="spacingAndGlyphs" transform="rotate(-90 282.71 69.45)" stroke="#333" stroke-width="0.22">Intensity (arb. units)</text>
<text x="454.00" y="138.83" font-size="8.58" fill="#333" textLength="17.20" lengthAdjust="spacingAndGlyphs" stroke="#333" stroke-width="0.15">2θ (°)</text>
<text x="311.30" y="19.10" font-size="11.61" fill="#1a1a1a" font-weight="bold" textLength="12.70" lengthAdjust="spacingAndGlyphs" stroke="#1a1a1a" stroke-width="0.55">(b)</text>
<text x="510.70" y="82.30" font-size="7.8" fill="#ff2a2a" textLength="34.90" lengthAdjust="spacingAndGlyphs" stroke="#ff2a2a" stroke-width="0.12">Oxy-2 (Exp)</text>
<text x="509.00" y="120.20" font-size="7.8" fill="#5a5aff" textLength="36.00" lengthAdjust="spacingAndGlyphs" stroke="#5a5aff" stroke-width="0.12">Oxy-2 (Sim)</text>
<polyline points="316.20,37.79 316.27,31.94 316.34,35.87 316.41,34.83 316.48,35.21 316.55,40.18 316.62,33.64 316.69,36.18 316.76,35.58 316.83,41.28 316.90,37.13 316.97,36.94 317.04,37.11 317.11,37.03 317.18,36.78 317.25,37.92 317.32,39.34 317.39,38.64 317.46,40.51 317.53,39.22 317.60,39.78 317.67,42.11 317.74,41.02 317.81,39.85 317.88,40.55 317.95,41.80 318.02,43.98 318.09,41.22 318.16,41.32 318.23,43.48 318.30,41.06 318.37,43.89 318.44,46.06 318.51,43.73 318.58,43.25 318.65,40.03 318.72,39.54 318.79,45.19 318.86,42.59 318.93,41.78 319.00,44.76 319.07,45.57 319.14,44.14 319.21,43.43 319.28,45.23 319.35,45.32 319.42,47.65 319.49,46.90 319.56,46.30 319.63,47.85 319.70,46.13 319.77,45.28 319.84,47.71 319.91,47.91 319.98,46.94 320.05,46.30 320.12,49.58 320.19,44.18 320.26,49.11 320.33,46.87 320.40,46.07 320.47,48.72 320.54,47.33 320.61,50.02 320.68,46.01 320.75,47.80 320.82,50.34 320.89,51.13 320.96,46.35 321.03,48.94 321.10,50.30 321.17,49.04 321.24,52.43 321.31,48.44 321.38,50.86 321.45,48.92 321.52,52.68 321.59,50.70 321.66,50.31 321.73,48.45 321.80,53.61 321.87,52.37 321.94,52.50 322.01,53.20 322.08,52.13 322.15,50.76 322.22,50.62 322.29,50.72 322.36,54.02 322.43,49.94 322.50,51.31 322.57,51.81 322.64,52.71 322.71,53.33 322.78,50.73 322.85,46.33 322.92,52.76 322.99,54.66 323.06,54.08 323.13,53.38 323.20,52.69 323.27,53.68 323.34,52.99 323.41,54.65 323.48,51.57 323.55,56.67 323.62,53.57 323.69,54.63 323.76,54.26 323.83,57.78 323.90,56.33 323.97,56.42 324.04,51.31 324.11,53.91 324.18,53.61 324.25,55.39 324.32,51.35 324.39,56.52 324.46,56.46 324.53,53.08 324.60,53.65 324.67,54.01 324.74,55.34 324.81,56.32 324.88,58.48 324.95,55.26 325.02,56.74 325.09,55.19 325.16,58.33 325.23,56.90 325.30,57.89 325.37,54.37 325.44,55.73 325.51,54.89 325.58,58.36 325.65,57.18 325.72,55.84 325.79,55.69 325.86,57.13 325.93,55.46 326.00,55.19 326.07,57.32 326.14,60.29 326.21,56.39 326.28,56.00 326.35,55.17 326.42,55.00 326.49,58.71 326.56,58.33 326.63,57.16 326.70,57.70 326.77,57.45 326.84,56.07 326.91,55.19 326.98,55.74 327.05,57.71 327.12,59.63 327.19,56.97 327.26,56.53 327.33,57.29 327.40,59.08 327.47,55.03 327.54,57.72 327.61,59.19 327.68,58.99 327.75,60.58 327.82,55.11 327.89,59.47 327.96,57.57 328.03,58.91 328.10,59.60 328.17,60.01 328.24,59.77 328.31,58.77 328.38,60.94 328.45,58.24 328.52,58.50 328.59,59.93 328.66,58.01 328.73,62.02 328.80,60.41 328.87,62.15 328.94,58.66 329.01,58.53 329.08,58.04 329.15,60.27 329.22,58.40 329.29,59.86 329.36,62.21 329.43,61.76 329.50,58.51 329.57,60.00 329.64,56.77 329.71,58.24 329.78,58.66 329.85,58.02 329.92,60.01 329.99,59.53 330.06,60.15 330.13,60.87 330.20,62.39 330.27,54.70 330.34,60.41 330.41,59.78 330.48,57.90 330.55,58.55 330.62,57.80 330.69,61.35 330.76,58.85 330.83,62.32 330.90,60.47 330.97,59.43 331.04,61.19 331.11,59.92 331.18,60.52 331.25,60.90 331.32,60.70 331.39,60.67 331.46,59.80 331.53,60.78 331.60,58.02 331.67,60.94 331.74,59.49 331.81,62.89 331.88,63.16 331.95,58.56 332.02,61.65 332.09,61.31 332.16,60.02 332.23,62.35 332.30,60.95 332.37,54.48 332.44,61.32 332.51,61.53 332.58,61.94 332.65,60.05 332.72,62.76 332.79,62.97 332.86,60.30 332.93,61.05 333.00,61.92 333.07,61.27 333.14,65.67 333.21,62.47 333.28,60.75 333.35,61.11 333.42,62.21 333.49,65.64 333.56,62.12 333.63,62.60 333.70,64.52 333.77,62.44 333.84,66.64 333.91,61.82 333.98,63.70 334.05,62.90 334.12,62.45 334.19,61.06 334.26,65.34 334.33,62.66 334.40,62.93 334.47,61.58 334.54,61.92 334.61,63.82 334.68,64.46 334.75,62.85 334.82,64.87 334.89,64.20 334.96,63.26 335.03,64.46 335.10,64.15 335.17,63.20 335.24,64.42 335.31,63.94 335.38,63.80 335.45,63.43 335.52,64.58 335.59,66.32 335.66,63.33 335.73,63.55 335.80,63.52 335.87,66.99 335.94,61.17 336.01,64.37 336.08,65.59 336.15,62.77 336.22,66.10 336.29,64.78 336.36,63.27 336.43,64.39 336.50,61.95 336.57,63.72 336.64,66.83 336.71,62.99 336.78,66.94 336.85,64.23 336.92,65.81 336.99,64.50 337.06,61.28 337.13,63.70 337.20,64.82 337.27,62.94 337.34,62.70 337.41,65.17 337.48,63.76 337.55,62.30 337.62,63.78 337.69,66.02 337.76,64.15 337.83,66.19 337.90,72.39 337.97,64.97 338.04,63.35 338.11,63.14 338.18,64.99 338.25,66.32 338.32,65.48 338.39,65.91 338.46,64.54 338.53,65.63 338.60,70.97 338.67,64.81 338.74,63.47 338.81,63.10 338.88,64.69 338.95,63.83 339.02,64.08 339.09,66.43 339.16,64.70 339.23,69.68 339.30,66.89 339.37,64.71 339.44,66.75 339.51,66.19 339.58,64.74 339.65,69.61 339.72,64.68 339.79,61.48 339.86,60.40 339.93,65.01 340.00,68.03 340.07,65.03 340.14,64.32 340.21,68.22 340.28,64.53 340.35,66.38 340.42,68.18 340.49,64.75 340.56,64.63 340.63,66.37 340.70,67.45 340.77,65.16 340.84,67.20 340.91,67.18 340.98,69.27 341.05,65.96 341.12,65.18 341.19,67.54 341.26,65.98 341.33,68.31 341.40,66.79 341.47,68.29 341.54,65.75 341.61,66.58 341.68,63.14 341.75,65.52 341.82,68.98 341.89,65.89 341.96,65.89 342.03,65.20 342.10,67.77 342.17,67.13 342.24,65.34 342.31,67.99 342.38,67.45 342.45,68.17 342.52,66.24 342.59,69.62 342.66,67.78 342.73,66.49 342.80,65.99 342.87,66.95 342.94,68.53 343.01,66.98 343.08,68.90 343.15,68.23 343.22,69.34 343.29,68.62 343.36,67.42 343.43,64.86 343.50,67.99 343.57,68.71 343.64,67.86 343.71,68.45 343.78,67.03 343.85,67.19 343.92,66.43 343.99,69.70 344.06,68.04 344.13,67.16 344.20,66.01 344.27,67.70 344.34,69.96 344.41,68.62 344.48,66.99 344.55,70.04 344.62,70.07 344.69,69.47 344.76,69.23 344.83,69.78 344.90,68.95 344.97,69.30 345.04,67.16 345.11,70.38 345.18,69.65 345.25,71.17 345.32,65.51 345.39,69.39 345.46,69.81 345.53,67.98 345.60,65.13 345.67,69.57 345.74,69.36 345.81,67.83 345.88,68.42 345.95,70.07 346.02,70.46 346.09,68.85 346.16,68.85 346.23,69.05 346.30,70.25 346.37,67.36 346.44,67.01 346.51,69.07 346.58,67.38 346.65,68.14 346.72,69.11 346.79,69.69 346.86,67.55 346.93,70.20 347.00,66.64 347.07,69.90 347.14,66.97 347.21,67.43 347.28,70.13 347.35,68.70 347.42,68.18 347.49,66.60 347.56,70.00 347.63,69.30 347.70,69.37 347.77,70.91 347.84,68.47 347.91,68.84 347.98,68.80 348.05,70.69 348.12,70.96 348.19,71.40 348.26,69.60 348.33,69.45 348.40,70.89 348.47,69.18 348.54,70.91 348.61,70.80 348.68,68.85 348.75,70.55 348.82,69.71 348.89,72.31 348.96,71.06 349.03,69.83 349.10,70.01 349.17,66.86 349.24,70.35 349.31,70.07 349.38,69.60 349.45,71.23 349.52,71.35 349.59,69.90 349.66,71.88 349.73,68.53 349.80,71.47 349.87,71.78 349.94,70.40 350.01,68.43 350.08,71.24 350.15,70.39 350.22,68.79 350.29,70.09 350.36,70.37 350.43,68.99 350.50,71.73 350.57,71.14 350.64,73.08 350.71,72.57 350.78,71.64 350.85,72.22 350.92,72.59 350.99,71.76 351.06,71.48 351.13,72.03 351.20,70.97 351.27,76.07 351.34,71.06 351.41,71.69 351.48,71.45 351.55,73.34 351.62,71.29 351.69,70.71 351.76,71.54 351.83,70.53 351.90,71.93 351.97,71.19 352.04,71.60 352.11,73.90 352.18,69.91 352.25,71.37 352.32,71.07 352.39,72.30 352.46,69.78 352.53,70.48 352.60,71.41 352.67,67.13 352.74,71.46 352.81,70.86 352.88,70.39 352.95,72.31 353.02,73.14 353.09,72.11 353.16,71.95 353.23,72.33 353.30,70.46 353.37,71.36 353.44,71.45 353.51,72.25 353.58,71.83 353.65,70.23 353.72,73.47 353.79,74.28 353.86,71.63 353.93,72.56 354.00,72.41 354.07,73.15 354.14,70.08 354.21,74.34 354.28,71.52 354.35,73.92 354.42,72.33 354.49,71.72 354.56,72.59 354.63,73.54 354.70,71.15 354.77,71.85 354.84,71.73 354.91,70.07 354.98,74.21 355.05,73.25 355.12,72.46 355.19,74.10 355.26,71.23 355.33,72.15 355.40,74.95 355.47,73.95 355.54,69.60 355.61,64.28 355.68,71.28 355.75,74.17 355.82,68.64 355.89,72.47 355.96,73.62 356.03,71.61 356.10,73.14 356.17,73.95 356.24,69.82 356.31,73.46 356.38,71.56 356.45,73.67 356.52,72.42 356.59,74.80 356.66,76.55 356.73,72.07 356.80,70.14 356.87,72.55 356.94,73.66 357.01,74.61 357.08,74.67 357.15,72.16 357.22,72.18 357.29,75.00 357.36,69.42 357.43,74.81 357.50,73.05 357.57,74.42 357.64,74.37 357.71,74.49 357.78,74.57 357.85,72.14 357.92,71.37 357.99,73.55 358.06,73.98 358.13,75.26 358.20,76.23 358.27,72.67 358.34,72.68 358.41,73.27 358.48,74.74 358.55,72.64 358.62,75.34 358.69,77.68 358.76,73.51 358.83,71.91 358.90,74.20 358.97,74.83 359.04,72.23 359.11,75.56 359.18,76.20 359.25,74.45 359.32,74.69 359.39,74.43 359.46,75.74 359.53,72.88 359.60,74.10 359.67,73.94 359.74,73.97 359.81,71.01 359.88,73.59 359.95,73.39 360.02,74.50 360.09,74.12 360.16,75.50 360.23,73.95 360.30,73.30 360.37,75.12 360.44,76.32 360.51,74.02 360.58,76.33 360.65,74.86 360.72,73.45 360.79,76.61 360.86,73.48 360.93,75.97 361.00,73.96 361.07,75.26 361.14,73.02 361.21,73.58 361.28,76.17 361.35,71.12 361.42,72.56 361.49,74.22 361.56,75.44 361.63,72.98 361.70,73.38 361.77,77.20 361.84,73.82 361.91,74.02 361.98,74.89 362.05,74.82 362.12,74.72 362.19,77.27 362.26,76.41 362.33,76.71 362.40,75.04 362.47,74.41 362.54,73.15 362.61,74.65 362.68,72.34 362.75,74.36 362.82,76.19 362.89,77.35 362.96,76.48 363.03,74.05 363.10,75.88 363.17,74.17 363.24,76.35 363.31,70.89 363.38,76.42 363.45,78.73 363.52,76.53 363.59,78.43 363.66,75.57 363.73,74.90 363.80,76.39 363.87,75.50 363.94,74.64 364.01,75.50 364.08,73.49 364.15,75.16 364.22,76.63 364.29,75.34 364.36,74.71 364.43,73.60 364.50,75.99 364.57,74.84 364.64,76.32 364.71,75.88 364.78,73.85 364.85,77.91 364.92,75.50 364.99,75.40 365.06,76.58 365.13,72.74 365.20,79.53 365.27,75.47 365.34,76.16 365.41,77.47 365.48,76.32 365.55,72.21 365.62,75.27 365.69,76.01 365.76,75.94 365.83,74.06 365.90,73.56 365.97,76.52 366.04,76.26 366.11,75.79 366.18,73.54 366.25,78.20 366.32,74.01 366.39,75.39 366.46,78.66 366.53,75.69 366.60,76.22 366.67,74.36 366.74,77.74 366.81,74.24 366.88,76.31 366.95,77.38 367.02,72.20 367.09,75.06 367.16,74.15 367.23,77.24 367.30,76.01 367.37,75.52 367.44,76.70 367.51,77.32 367.58,75.72 367.65,75.40 367.72,75.45 367.79,75.67 367.86,74.89 367.93,76.85 368.00,76.73 368.07,76.08 368.14,75.10 368.21,77.37 368.28,74.87 368.35,76.27 368.42,78.24 368.49,74.84 368.56,76.23 368.63,74.22 368.70,75.66 368.77,74.37 368.84,75.88 368.91,75.66 368.98,76.56 369.05,78.49 369.12,76.78 369.19,77.29 369.26,76.17 369.33,76.13 369.40,75.37 369.47,74.11 369.54,76.58 369.61,78.65 369.68,77.15 369.75,75.83 369.82,78.72 369.89,75.99 369.96,75.76 370.03,73.41 370.10,75.33 370.17,76.27 370.24,79.23 370.31,76.34 370.38,75.26 370.45,75.82 370.52,76.33 370.59,74.38 370.66,76.80 370.73,77.56 370.80,77.07 370.87,77.44 370.94,74.97 371.01,74.44 371.08,78.36 371.15,78.11 371.22,74.66 371.29,76.96 371.36,76.72 371.43,77.41 371.50,76.97 371.57,76.04 371.64,76.96 371.71,76.91 371.78,76.65 371.85,78.13 371.92,72.79 371.99,77.79 372.06,74.56 372.13,77.03 372.20,77.63 372.27,77.03 372.34,76.19 372.41,76.75 372.48,78.16 372.55,75.66 372.62,77.79 372.69,78.10 372.76,76.85 372.83,78.36 372.90,75.47 372.97,77.57 373.04,75.05 373.11,75.18 373.18,74.70 373.25,76.56 373.32,70.90 373.39,75.80 373.46,74.10 373.53,76.82 373.60,77.65 373.67,75.37 373.74,77.02 373.81,80.36 373.88,77.27 373.95,74.34 374.02,71.92 374.09,75.66 374.16,73.29 374.23,71.85 374.30,72.08 374.37,70.55 374.44,72.19 374.51,70.75 374.58,73.83 374.65,72.53 374.72,69.28 374.79,66.22 374.86,70.32 374.93,68.39 375.00,70.61 375.07,70.59 375.14,69.56 375.21,69.81 375.28,71.15 375.30,72.34 375.35,72.45 375.42,70.60 375.49,71.74 375.56,69.78 375.63,71.40 375.70,69.78 375.77,72.16 375.84,69.81 375.91,70.39 375.98,71.87 376.05,72.86 376.12,70.54 376.19,71.98 376.26,71.72 376.33,73.52 376.40,72.42 376.47,73.90 376.54,73.70 376.61,76.12 376.68,75.28 376.75,73.09 376.82,72.18 376.89,75.38 376.96,76.98 377.03,75.87 377.10,76.96 377.17,75.36 377.24,74.37 377.31,77.24 377.38,76.53 377.45,77.40 377.52,74.83 377.59,76.94 377.66,76.73 377.73,77.90 377.80,76.18 377.87,76.20 377.94,76.28 378.01,78.71 378.08,79.15 378.15,76.17 378.22,75.87 378.29,75.87 378.36,79.12 378.43,74.92 378.50,76.18 378.57,76.68 378.64,78.82 378.71,77.13 378.78,78.34 378.85,78.32 378.92,78.62 378.99,77.42 379.06,79.50 379.13,77.66 379.20,79.38 379.27,76.01 379.34,78.64 379.41,75.59 379.48,75.52 379.55,78.10 379.62,76.41 379.69,78.05 379.76,76.11 379.83,79.14 379.90,77.52 379.97,76.06 380.04,77.74 380.11,78.60 380.18,76.49 380.25,78.37 380.32,80.06 380.39,78.53 380.46,77.38 380.53,76.65 380.60,78.10 380.67,75.40 380.74,75.83 380.81,76.44 380.88,75.89 380.95,79.49 381.02,77.42 381.09,75.96 381.16,75.71 381.23,77.82 381.30,76.10 381.37,76.39 381.44,77.00 381.51,77.21 381.58,77.20 381.65,77.20 381.72,78.70 381.79,79.18 381.86,74.88 381.93,80.25 382.00,77.11 382.07,77.22 382.14,75.94 382.21,77.27 382.28,77.10 382.35,76.93 382.42,77.84 382.49,77.51 382.56,75.37 382.63,76.45 382.70,77.46 382.77,77.34 382.84,75.95 382.91,75.93 382.98,75.98 383.05,74.65 383.12,74.28 383.19,77.76 383.26,75.09 383.33,75.53 383.40,74.25 383.47,76.64 383.54,76.98 383.61,74.22 383.68,74.90 383.75,73.02 383.82,75.94 383.89,74.60 383.96,72.09 384.03,74.48 384.10,75.52 384.17,72.93 384.24,70.14 384.31,71.15 384.38,71.16 384.45,72.51 384.52,72.63 384.59,70.39 384.60,74.16 384.66,71.32 384.73,70.90 384.80,70.80 384.87,72.66 384.94,73.16 385.01,72.40 385.08,73.40 385.15,70.62 385.22,72.29 385.29,72.41 385.36,73.26 385.43,74.12 385.50,71.17 385.57,77.94 385.64,73.12 385.71,75.89 385.78,75.67 385.85,75.88 385.92,75.28 385.99,71.45 386.06,73.88 386.13,76.33 386.20,74.31 386.27,74.22 386.34,72.66 386.41,77.22 386.48,76.38 386.55,74.65 386.62,75.65 386.69,75.71 386.76,74.45 386.83,75.53 386.90,76.20 386.97,76.59 387.04,77.49 387.11,75.94 387.18,75.32 387.25,76.41 387.32,75.11 387.39,74.33 387.46,77.34 387.53,75.42 387.60,76.05 387.67,76.71 387.70,74.50 387.74,75.18 387.81,76.67 387.88,75.77 387.95,81.05 388.02,74.94 388.09,73.11 388.16,75.52 388.23,74.73 388.30,76.97 388.37,76.20 388.44,75.21 388.51,75.44 388.58,77.56 388.65,77.29 388.72,76.32 388.79,76.40 388.86,75.51 388.93,75.69 389.00,76.59 389.07,75.39 389.14,76.22 389.21,74.45 389.28,73.75 389.35,73.71 389.42,75.29 389.49,77.49 389.56,77.31 389.60,74.58 389.63,73.88 389.70,76.81 389.77,76.40 389.84,74.11 389.91,77.14 389.98,76.03 390.05,77.47 390.12,76.26 390.19,76.95 390.26,76.25 390.33,74.67 390.40,75.58 390.47,75.03 390.54,76.92 390.61,74.65 390.68,73.99 390.70,76.76 390.75,77.34 390.82,77.73 390.89,77.30 390.96,74.07 391.03,75.09 391.10,75.28 391.17,75.95 391.24,73.30 391.31,75.98 391.38,76.35 391.45,74.83 391.52,74.62 391.59,77.51 391.66,76.10 391.73,77.36 391.80,77.32 391.87,76.58 391.94,76.56 392.01,75.63 392.08,77.64 392.15,75.53 392.22,75.25 392.29,76.71 392.36,74.58 392.43,76.68 392.50,77.47 392.57,76.27 392.64,76.31 392.71,77.33 392.78,77.13 392.85,74.30 392.92,74.60 392.99,77.88 393.00,76.72 393.06,73.66 393.13,74.58 393.20,76.29 393.27,75.06 393.34,76.86 393.41,76.39 393.48,76.91 393.55,74.87 393.62,77.09 393.69,78.76 393.76,75.36 393.83,77.98 393.90,77.58 393.97,77.17 394.04,76.31 394.11,74.96 394.18,75.32 394.25,77.36 394.32,77.64 394.39,77.95 394.46,77.63 394.53,77.57 394.60,75.93 394.67,73.96 394.74,76.74 394.81,77.12 394.88,76.62 394.95,74.65 395.02,75.88 395.09,74.70 395.16,76.69 395.23,75.21 395.30,76.29 395.37,76.89 395.44,76.65 395.51,78.16 395.58,75.11 395.65,73.78 395.72,77.62 395.79,73.87 395.86,78.20 395.93,76.79 396.00,77.20 396.07,76.58 396.14,74.83 396.21,75.71 396.28,77.01 396.35,75.69 396.42,78.73 396.49,74.49 396.56,78.46 396.63,77.73 396.70,75.62 396.77,74.97 396.84,75.93 396.91,74.42 396.98,78.19 397.05,76.83 397.12,76.96 397.19,75.68 397.26,77.34 397.33,76.43 397.40,75.17 397.47,75.74 397.54,76.53 397.61,77.71 397.68,76.20 397.75,76.87 397.82,77.75 397.89,75.27 397.96,74.73 398.03,77.44 398.10,76.76 398.17,75.03 398.24,76.54 398.31,75.81 398.38,77.45 398.45,75.79 398.52,77.16 398.59,74.75 398.66,75.18 398.73,81.79 398.80,75.59 398.87,77.93 398.94,76.10 399.01,75.48 399.08,76.39 399.15,75.48 399.22,74.22 399.29,79.03 399.36,75.13 399.43,75.53 399.50,76.21 399.57,77.20 399.64,76.75 399.71,78.24 399.78,77.62 399.85,75.84 399.92,78.06 399.99,77.49 400.06,75.49 400.13,76.40 400.20,79.16 400.27,76.29 400.34,77.22 400.41,76.63 400.48,76.81 400.50,75.57 400.55,76.40 400.62,75.49 400.69,74.16 400.76,73.86 400.83,76.29 400.90,77.38 400.97,75.51 401.04,77.37 401.11,76.48 401.18,74.80 401.25,74.80 401.32,78.34 401.39,75.60 401.46,76.92 401.53,74.68 401.60,74.66 401.67,73.83 401.74,74.76 401.81,75.65 401.88,77.07 401.95,74.93 402.02,72.29 402.09,76.14 402.16,77.94 402.23,74.32 402.30,74.35 402.37,74.75 402.44,75.68 402.51,76.34 402.58,73.78 402.65,76.03 402.72,75.46 402.79,76.07 402.86,76.28 402.93,75.60 403.00,78.23 403.07,76.74 403.14,74.99 403.21,74.95 403.28,74.81 403.30,74.99 403.35,76.18 403.42,74.60 403.49,77.26 403.56,75.24 403.63,74.93 403.70,76.43 403.77,72.96 403.84,74.18 403.91,75.97 403.98,75.27 404.05,75.23 404.12,75.69 404.19,74.30 404.26,75.00 404.33,73.58 404.40,72.96 404.47,76.64 404.54,74.04 404.61,76.51 404.68,76.75 404.75,77.60 404.82,74.47 404.89,74.45 404.96,74.96 405.03,73.94 405.10,75.72 405.17,75.27 405.24,75.27 405.30,76.01 405.31,75.98 405.38,77.31 405.45,76.95 405.52,72.56 405.59,76.27 405.66,73.94 405.73,73.60 405.80,79.13 405.87,74.49 405.94,74.96 406.01,76.59 406.08,74.60 406.15,74.35 406.22,75.79 406.29,76.85 406.36,76.06 406.43,73.67 406.50,74.74 406.57,75.34 406.64,77.77 406.71,76.59 406.78,76.56 406.85,76.99 406.92,75.26 406.99,76.19 407.06,76.23 407.13,77.69 407.20,75.68 407.27,76.37 407.34,72.61 407.41,76.69 407.48,76.66 407.55,76.99 407.62,74.94 407.69,75.97 407.76,77.54 407.83,76.80 407.90,75.01 407.97,76.19 408.04,77.58 408.11,75.89 408.18,76.43 408.25,78.95 408.32,76.00 408.39,75.94 408.46,78.80 408.53,75.35 408.60,77.81 408.67,75.98 408.74,74.65 408.81,75.12 408.88,76.21 408.95,77.09 409.02,75.40 409.09,73.92 409.16,75.73 409.23,76.70 409.30,73.93 409.37,77.03 409.44,75.87 409.51,76.19 409.58,76.97 409.65,74.96 409.72,76.63 409.79,77.03 409.86,77.65 409.93,76.45 410.00,76.31 410.07,76.71 410.14,75.76 410.21,76.39 410.28,77.12 410.35,75.90 410.42,75.56 410.49,76.40 410.56,74.44 410.63,76.89 410.70,76.28 410.77,77.18 410.84,75.72 410.91,76.89 410.98,77.52 411.05,78.15 411.12,75.58 411.19,78.07 411.26,76.98 411.33,76.34 411.40,77.77 411.47,76.95 411.54,76.99 411.61,76.57 411.68,75.80 411.75,77.47 411.82,77.27 411.89,76.44 411.96,76.97 412.03,77.11 412.10,79.03 412.17,77.62 412.24,79.25 412.31,77.71 412.38,76.56 412.45,78.50 412.52,76.77 412.59,78.32 412.66,79.09 412.73,77.61 412.80,77.89 412.87,80.74 412.94,78.33 413.01,78.39 413.08,79.00 413.15,78.07 413.22,78.12 413.29,78.67 413.36,75.68 413.43,79.88 413.50,77.20 413.57,77.23 413.64,79.03 413.71,78.51 413.78,77.16 413.85,78.79 413.92,78.88 413.99,77.88 414.06,77.04 414.13,77.81 414.20,79.18 414.27,78.92 414.34,79.16 414.41,79.86 414.48,78.85 414.55,78.22 414.62,78.67 414.69,80.79 414.76,79.09 414.83,79.16 414.90,79.02 414.97,80.67 415.04,79.66 415.11,79.22 415.18,79.10 415.25,78.45 415.32,78.42 415.39,79.80 415.46,80.20 415.53,79.88 415.60,79.51 415.67,78.60 415.74,80.20 415.81,80.21 415.88,77.98 415.95,80.48 416.02,80.27 416.09,81.46 416.16,78.87 416.23,78.38 416.30,78.73 416.37,77.90 416.44,75.93 416.51,78.71 416.58,78.83 416.65,77.92 416.72,79.72 416.79,81.04 416.86,80.51 416.93,80.54 417.00,79.73 417.07,81.67 417.14,80.73 417.21,81.31 417.28,78.60 417.35,80.63 417.42,79.10 417.49,80.70 417.56,80.58 417.63,79.21 417.70,80.62 417.77,81.69 417.84,81.03 417.91,81.15 417.98,81.30 418.05,79.89 418.12,79.47 418.19,80.80 418.26,81.94 418.33,81.18 418.40,80.76 418.47,79.86 418.54,81.29 418.61,80.61 418.68,78.41 418.75,79.12 418.82,80.60 418.89,80.06 418.96,82.74 419.03,82.33 419.10,80.01 419.17,80.61 419.24,84.16 419.31,80.20 419.38,82.02 419.45,81.70 419.52,82.80 419.59,81.86 419.66,78.40 419.73,81.92 419.80,81.48 419.87,82.45 419.94,81.41 420.01,83.55 420.08,81.61 420.15,82.00 420.22,80.89 420.29,81.71 420.36,81.63 420.43,81.79 420.50,82.56 420.57,81.10 420.64,80.80 420.71,82.82 420.78,81.36 420.85,81.04 420.92,82.92 420.99,84.21 421.06,79.08 421.13,81.41 421.20,82.62 421.27,82.68 421.34,81.33 421.41,83.46 421.48,81.08 421.55,81.67 421.62,82.05 421.69,81.94 421.76,82.78 421.83,83.01 421.90,81.95 421.97,82.19 422.04,81.34 422.11,81.83 422.18,83.81 422.25,82.19 422.32,83.18 422.39,81.69 422.46,81.53 422.53,82.05 422.60,82.35 422.67,82.32 422.74,82.23 422.81,81.21 422.88,81.72 422.95,82.38 423.02,82.94 423.09,83.22 423.16,81.24 423.23,80.68 423.30,83.97 423.37,83.69 423.44,82.45 423.51,82.76 423.58,81.49 423.65,81.07 423.72,82.78 423.79,81.00 423.86,83.41 423.93,81.84 424.00,82.82 424.07,84.47 424.14,84.44 424.21,82.31 424.28,83.66 424.35,81.60 424.42,82.06 424.49,83.02 424.56,84.04 424.63,82.12 424.70,83.24 424.77,82.82 424.84,81.49 424.91,82.62 424.98,84.25 425.05,82.70 425.12,83.30 425.19,83.64 425.26,82.12 425.33,84.07 425.40,84.35 425.47,84.46 425.54,84.20 425.61,82.47 425.68,82.37 425.75,82.19 425.82,82.09 425.89,82.22 425.96,83.98 426.03,84.46 426.10,82.42 426.17,83.86 426.24,81.85 426.31,82.78 426.38,80.17 426.45,81.55 426.52,83.20 426.59,83.24 426.66,82.79 426.73,82.69 426.80,82.26 426.87,83.10 426.94,82.67 427.01,83.50 427.08,82.11 427.15,83.52 427.22,83.81 427.29,84.54 427.36,84.37 427.43,83.55 427.50,82.73 427.57,81.64 427.64,83.41 427.71,84.80 427.78,85.05 427.85,81.02 427.92,82.76 427.99,83.17 428.06,82.52 428.13,83.72 428.20,83.59 428.27,83.08 428.34,83.56 428.41,82.08 428.48,82.70 428.55,82.79 428.62,84.52 428.69,82.12 428.76,83.49 428.83,84.46 428.90,83.68 428.97,84.52 429.04,83.14 429.11,84.20 429.18,84.66 429.25,85.94 429.32,84.53 429.39,85.21 429.46,83.88 429.53,83.98 429.60,86.19 429.67,86.68 429.74,85.29 429.81,84.63 429.88,86.31 429.95,86.25 430.02,83.23 430.09,85.78 430.16,84.45 430.23,84.50 430.30,83.96 430.37,84.76 430.44,83.05 430.51,83.42 430.58,83.40 430.65,84.40 430.72,85.01 430.79,84.85 430.86,84.52 430.93,81.34 431.00,81.55 431.07,84.59 431.14,84.36 431.21,84.57 431.28,85.58 431.35,84.09 431.42,84.08 431.49,82.11 431.56,84.82 431.63,84.94 431.70,83.62 431.77,84.69 431.84,83.36 431.91,83.85 431.98,86.20 432.05,85.08 432.12,85.25 432.19,85.10 432.26,85.01 432.33,84.60 432.40,86.56 432.47,84.38 432.54,85.14 432.61,84.26 432.68,84.15 432.75,82.22 432.82,82.28 432.89,85.95 432.96,85.91 433.03,84.13 433.10,84.71 433.17,85.13 433.24,83.65 433.31,86.22 433.38,83.63 433.45,83.94 433.52,82.06 433.59,84.16 433.66,84.69 433.73,86.15 433.80,83.73 433.87,84.98 433.94,84.75 434.01,88.63 434.08,86.62 434.15,86.81 434.22,86.00 434.29,82.70 434.36,85.58 434.43,86.00 434.50,85.29 434.57,85.31 434.64,85.24 434.71,83.98 434.78,85.05 434.85,86.31 434.92,86.39 434.99,84.93 435.06,85.64 435.13,83.63 435.20,84.77 435.27,83.35 435.34,84.36 435.41,81.37 435.48,82.61 435.55,84.50 435.62,84.71 435.69,84.79 435.76,82.78 435.83,86.45 435.90,84.75 435.97,84.02 436.04,84.45 436.11,85.32 436.18,84.14 436.25,84.69 436.32,84.65 436.39,85.58 436.46,84.42 436.53,85.52 436.60,82.87 436.67,85.00 436.74,86.27 436.81,85.18 436.88,84.10 436.95,87.44 437.02,85.30 437.09,85.17 437.16,85.43 437.23,87.36 437.30,85.45 437.37,85.67 437.44,85.04 437.51,86.46 437.58,85.24 437.65,84.58 437.72,84.21 437.79,85.80 437.86,86.01 437.93,83.91 438.00,84.71 438.07,85.95 438.14,86.31 438.21,84.21 438.28,85.04 438.35,87.01 438.42,84.95 438.49,82.84 438.56,84.97 438.63,84.29 438.70,85.52 438.77,85.76 438.84,84.24 438.91,85.60 438.98,86.52 439.05,85.72 439.12,86.40 439.19,86.57 439.26,86.80 439.33,84.88 439.40,87.28 439.47,85.21 439.54,84.98 439.61,84.83 439.68,85.27 439.75,85.22 439.82,85.05 439.89,85.39 439.96,86.28 440.03,86.49 440.10,85.98 440.17,86.81 440.24,84.83 440.31,84.80 440.38,84.72 440.45,86.26 440.52,84.36 440.59,84.50 440.66,86.88 440.73,87.27 440.80,86.94 440.87,84.43 440.94,85.77 441.01,86.50 441.08,86.80 441.15,84.34 441.22,85.48 441.29,84.28 441.36,84.70 441.43,87.76 441.50,86.40 441.57,84.51 441.64,84.48 441.71,86.17 441.78,85.28 441.85,86.33 441.92,85.26 441.99,85.66 442.06,86.05 442.13,84.93 442.20,84.16 442.27,84.91 442.34,86.65 442.41,85.68 442.48,85.81 442.55,85.81 442.62,86.32 442.69,85.09 442.76,87.10 442.83,87.16 442.90,86.21 442.97,86.06 443.04,88.94 443.11,83.61 443.18,86.07 443.25,85.77 443.32,85.27 443.39,82.60 443.46,86.51 443.53,86.09 443.60,85.02 443.67,86.59 443.74,86.14 443.81,85.58 443.88,85.30 443.95,85.30 444.02,84.25 444.09,85.92 444.16,84.26 444.23,88.70 444.30,86.80 444.37,85.69 444.44,85.99 444.51,87.49 444.58,87.40 444.65,86.17 444.72,85.90 444.79,84.77 444.86,85.74 444.93,83.71 445.00,85.40 445.07,87.53 445.14,84.43 445.21,85.93 445.28,88.03 445.35,86.44 445.42,88.37 445.49,84.86 445.56,85.43 445.63,86.16 445.70,86.20 445.77,85.76 445.84,86.36 445.91,87.02 445.98,85.20 446.05,85.61 446.12,87.35 446.19,87.60 446.26,86.87 446.33,85.39 446.40,85.40 446.47,85.37 446.54,85.17 446.61,85.79 446.68,87.24 446.75,86.35 446.82,85.52 446.89,84.79 446.96,85.17 447.03,87.20 447.10,84.46 447.17,86.42 447.24,84.96 447.31,85.29 447.38,84.93 447.45,87.02 447.52,86.13 447.59,88.54 447.66,85.33 447.73,85.29 447.80,86.72 447.87,85.36 447.94,85.99 448.01,84.52 448.08,87.46 448.15,86.72 448.22,86.55 448.29,85.75 448.36,86.80 448.43,85.78 448.50,86.30 448.57,86.11 448.64,87.33 448.71,82.34 448.78,85.99 448.85,87.21 448.92,86.48 448.99,86.27 449.06,86.09 449.13,87.10 449.20,85.75 449.27,86.70 449.34,88.02 449.41,86.65 449.48,85.66 449.55,85.31 449.62,86.45 449.69,85.30 449.76,85.00 449.83,85.70 449.90,85.43 449.97,87.08 450.04,85.14 450.11,87.68 450.18,85.73 450.25,86.46 450.32,86.93 450.39,86.56 450.46,86.98 450.53,85.56 450.60,84.49 450.67,86.22 450.74,84.99 450.81,87.49 450.88,88.16 450.95,86.24 451.02,85.92 451.09,85.47 451.16,86.17 451.23,86.28 451.30,85.11 451.37,86.67 451.44,85.54 451.51,86.62 451.58,86.07 451.65,87.27 451.72,87.16 451.79,86.47 451.86,86.37 451.93,86.83 452.00,87.62 452.07,87.36 452.14,86.62 452.21,86.76 452.28,87.81 452.35,85.17 452.42,86.97 452.49,85.79 452.56,87.65 452.63,86.14 452.70,86.46 452.77,87.90 452.84,86.58 452.91,87.12 452.98,87.27 453.05,85.55 453.12,86.23 453.19,89.81 453.26,87.38 453.33,86.61 453.40,87.05 453.47,84.45 453.54,87.96 453.61,86.77 453.68,84.72 453.75,87.61 453.82,86.15 453.89,85.83 453.96,87.10 454.03,87.01 454.10,86.31 454.17,86.63 454.24,85.60 454.31,85.52 454.38,87.44 454.45,87.78 454.52,87.07 454.59,87.02 454.66,86.40 454.73,86.63 454.80,85.98 454.87,88.17 454.94,86.29 455.01,86.01 455.08,88.93 455.15,88.24 455.22,88.33 455.29,86.47 455.36,86.15 455.43,86.87 455.50,84.57 455.57,86.81 455.64,86.02 455.71,87.26 455.78,86.85 455.85,87.20 455.92,87.65 455.99,86.98 456.06,85.94 456.13,87.12 456.20,87.18 456.27,88.34 456.34,86.15 456.41,87.54 456.48,86.78 456.55,87.36 456.62,89.29 456.69,86.83 456.76,87.28 456.83,85.93 456.90,85.20 456.97,86.49 457.04,86.54 457.11,86.98 457.18,87.43 457.25,86.75 457.32,87.88 457.39,86.90 457.46,87.03 457.53,87.61 457.60,87.42 457.67,86.89 457.74,87.06 457.81,86.36 457.88,86.48 457.95,87.06 458.02,87.63 458.09,86.64 458.16,87.66 458.23,88.54 458.30,88.71 458.37,87.04 458.44,87.86 458.51,87.51 458.58,87.66 458.65,87.70 458.72,87.46 458.79,87.71 458.86,87.21 458.93,86.86 459.00,87.97 459.07,90.57 459.14,88.05 459.21,87.38 459.28,87.68 459.35,88.22 459.42,86.37 459.49,86.90 459.56,87.54 459.63,85.16 459.70,86.33 459.77,87.90 459.84,87.08 459.91,86.35 459.98,88.63 460.05,86.14 460.12,87.13 460.19,86.62 460.26,87.23 460.33,87.59 460.40,86.51 460.47,87.07 460.54,87.05 460.61,86.38 460.68,88.07 460.75,87.30 460.82,86.94 460.89,86.65 460.96,87.26 461.03,87.28 461.10,86.81 461.17,88.15 461.24,85.20 461.31,85.51 461.38,86.98 461.45,85.75 461.52,87.13 461.59,86.68 461.66,87.64 461.73,87.52 461.80,88.21 461.87,87.91 461.94,88.17 462.01,87.61 462.08,88.03 462.15,87.60 462.22,86.76 462.29,86.25 462.36,86.87 462.43,86.25 462.50,85.38 462.57,86.88 462.64,86.65 462.71,87.80 462.78,87.99 462.85,86.66 462.92,87.25 462.99,85.05 463.06,89.63 463.13,87.60 463.20,85.84 463.27,87.91 463.34,87.16 463.41,87.39 463.48,86.17 463.55,87.72 463.62,88.58 463.69,87.25 463.76,86.52 463.83,87.85 463.90,90.12 463.97,85.30 464.04,88.04 464.11,86.84 464.18,87.41 464.25,87.58 464.32,87.41 464.39,89.45 464.46,87.63 464.53,86.55 464.60,87.94 464.67,86.50 464.74,87.60 464.81,87.91 464.88,86.96 464.95,87.09 465.02,88.51 465.09,87.44 465.16,86.84 465.23,88.66 465.30,87.84 465.37,87.19 465.44,86.29 465.51,88.90 465.58,88.35 465.65,87.73 465.72,87.53 465.79,87.51 465.86,87.03 465.93,88.80 466.00,87.54 466.07,86.31 466.14,86.90 466.21,85.46 466.28,87.89 466.35,89.49 466.42,88.73 466.49,88.74 466.56,86.82 466.63,87.75 466.70,88.16 466.77,88.01 466.84,85.74 466.91,88.02 466.98,87.79 467.05,88.44 467.12,86.41 467.19,87.25 467.26,86.09 467.33,86.04 467.40,86.86 467.47,87.18 467.54,87.80 467.61,87.77 467.68,88.41 467.75,88.25 467.82,87.90 467.89,86.58 467.96,87.86 468.03,88.30 468.10,86.48 468.17,86.62 468.24,86.74 468.31,86.68 468.38,89.55 468.45,86.76 468.52,87.73 468.59,86.55 468.66,87.36 468.73,87.08 468.80,86.74 468.87,88.22 468.94,87.48 469.01,87.46 469.08,87.22 469.15,87.98 469.22,87.92 469.29,87.36 469.36,86.17 469.43,88.07 469.50,87.98 469.57,87.61 469.64,87.66 469.71,87.57 469.78,87.62 469.85,86.75 469.92,87.45 469.99,87.72 470.06,87.05 470.13,86.79 470.20,88.85 470.27,87.94 470.34,87.28 470.41,87.15 470.48,85.59 470.55,86.48 470.62,87.33 470.69,88.45 470.76,86.03 470.83,87.01 470.90,87.75 470.97,88.01 471.04,88.44 471.11,88.40 471.18,87.45 471.25,87.41 471.32,88.06 471.39,88.16 471.46,86.77 471.53,88.65 471.60,86.29 471.67,87.05 471.74,89.37 471.81,87.19 471.88,88.03 471.95,86.84 472.02,87.33 472.09,87.05 472.16,87.28 472.23,88.04 472.30,88.83 472.37,88.20 472.44,88.70 472.51,87.22 472.58,88.63 472.65,87.99 472.72,88.57 472.79,87.29 472.86,87.43 472.93,88.57 473.00,88.03 473.07,87.68 473.14,87.34 473.21,87.53 473.28,87.95 473.35,88.12 473.42,87.21 473.49,87.37 473.56,87.91 473.63,87.42 473.70,87.93 473.77,87.60 473.84,87.51 473.91,85.90 473.98,86.48 474.05,86.87 474.12,87.19 474.19,87.02 474.26,87.87 474.33,87.70 474.40,87.42 474.47,86.17 474.54,88.59 474.61,87.41 474.68,88.03 474.75,87.14 474.82,87.62 474.89,88.11 474.96,87.79 475.03,88.30 475.10,87.50 475.17,89.02 475.24,86.30 475.31,87.25 475.38,89.51 475.45,87.46 475.52,87.33 475.59,86.40 475.66,89.37 475.73,85.56 475.80,88.00 475.87,87.78 475.94,88.26 476.01,88.67 476.08,87.21 476.15,87.09 476.22,87.44 476.29,86.46 476.36,88.23 476.43,87.39 476.50,87.77 476.57,86.88 476.64,87.67 476.71,87.24 476.78,87.62 476.85,86.91 476.92,88.38 476.99,87.22 477.06,85.91 477.13,88.12 477.20,87.47 477.27,87.07 477.34,89.41 477.41,87.65 477.48,86.43 477.55,87.26 477.62,87.95 477.69,87.53 477.76,88.55 477.83,86.90 477.90,87.15 477.97,87.73 478.04,88.14 478.11,87.42 478.18,87.39 478.25,88.31 478.32,88.02 478.39,86.76 478.46,87.34 478.53,87.44 478.60,87.64 478.67,87.23 478.74,89.73 478.81,87.07 478.88,86.99 478.95,87.88 479.02,86.20 479.09,87.04 479.16,88.17 479.23,86.85 479.30,87.17 479.37,88.49 479.44,88.06 479.51,86.90 479.58,88.01 479.65,87.30 479.72,87.98 479.79,88.16 479.86,89.46 479.93,88.14 480.00,88.22 480.07,87.75 480.14,87.82 480.21,86.85 480.28,88.52 480.35,88.82 480.42,87.00 480.49,87.40 480.56,88.49 480.63,88.82 480.70,87.11 480.77,88.79 480.84,87.56 480.91,88.92 480.98,88.72 481.05,87.62 481.12,88.31 481.19,88.20 481.26,87.30 481.33,89.27 481.40,87.59 481.47,88.60 481.54,87.50 481.61,86.60 481.68,87.08 481.75,87.77 481.82,88.30 481.89,89.02 481.96,87.89 482.03,87.65 482.10,87.02 482.17,87.81 482.24,88.05 482.31,86.36 482.38,88.73 482.45,88.62 482.52,89.38 482.59,87.24 482.66,87.88 482.73,87.87 482.80,86.97 482.87,87.29 482.94,87.20 483.01,88.21 483.08,88.15 483.15,88.77 483.22,87.60 483.29,86.93 483.36,88.17 483.43,88.12 483.50,88.32 483.57,89.19 483.64,87.48 483.71,88.41 483.78,87.21 483.85,87.99 483.92,88.35 483.99,87.81 484.06,88.03 484.13,86.95 484.20,87.45 484.27,87.99 484.34,87.28 484.41,87.32 484.48,89.53 484.55,88.07 484.62,86.86 484.69,87.21 484.76,88.82 484.83,86.02 484.90,87.65 484.97,86.20 485.04,87.49 485.11,88.21 485.18,87.10 485.25,87.85 485.32,87.89 485.39,87.87 485.46,87.96 485.53,87.88 485.60,86.45 485.67,87.68 485.74,87.47 485.81,87.67 485.88,87.76 485.95,86.46 486.02,86.59 486.09,86.96 486.16,88.06 486.23,87.42 486.30,86.07 486.37,89.78 486.44,88.62 486.51,87.73 486.58,87.45 486.65,88.79 486.72,87.36 486.79,88.71 486.86,88.27 486.93,88.81 487.00,87.40 487.07,88.49 487.14,86.68 487.21,87.77 487.28,88.61 487.35,88.36 487.42,86.67 487.49,88.35 487.56,88.20 487.63,87.86 487.70,87.42 487.77,87.71 487.84,87.52 487.91,88.53 487.98,88.22 488.05,88.62 488.12,88.37 488.19,87.06 488.26,88.00 488.33,89.34 488.40,87.74 488.47,88.11 488.54,87.40 488.61,87.33 488.68,88.06 488.75,88.54 488.82,88.44 488.89,88.24 488.96,88.56 489.03,87.87 489.10,88.48 489.17,88.20 489.24,87.82 489.31,87.93 489.38,87.37 489.45,88.71 489.52,87.44 489.59,86.04 489.66,87.94 489.73,87.56 489.80,87.90 489.87,88.95 489.94,87.86 490.01,88.04 490.08,89.46 490.15,87.42 490.22,88.21 490.29,88.74 490.36,88.97 490.43,89.46 490.50,87.54 490.57,88.38 490.64,87.91 490.71,85.60 490.78,87.50 490.85,87.01 490.92,88.21 490.99,88.49 491.06,87.29 491.13,88.50 491.20,86.49 491.27,87.32 491.34,86.26 491.41,88.73 491.48,88.48 491.55,88.52 491.62,87.75 491.69,87.15 491.76,88.35 491.83,87.97 491.90,88.37 491.97,88.13 492.04,87.09 492.11,86.99 492.18,88.30 492.25,86.91 492.32,88.21 492.39,89.93 492.46,87.19 492.53,88.49 492.60,88.07 492.67,88.40 492.74,87.63 492.81,88.05 492.88,88.35 492.95,89.28 493.02,88.56 493.09,88.41 493.16,87.22 493.23,88.30 493.30,87.64 493.37,88.04 493.44,88.27 493.51,88.74 493.58,88.49 493.65,88.23 493.72,88.07 493.79,89.01 493.86,87.53 493.93,89.52 494.00,89.03 494.07,87.99 494.14,88.67 494.21,88.71 494.28,89.44 494.35,88.88 494.42,87.04 494.49,88.13 494.56,88.33 494.63,89.98 494.70,87.38 494.77,89.70 494.84,88.86 494.91,87.36 494.98,87.72 495.05,86.77 495.12,89.27 495.19,88.05 495.26,88.03 495.33,87.08 495.40,87.83 495.47,88.40 495.54,87.85 495.61,87.85 495.68,87.70 495.75,89.41 495.82,87.74 495.89,87.14 495.96,87.76 496.03,87.87 496.10,88.03 496.17,87.93 496.24,87.35 496.31,87.96 496.38,88.34 496.45,87.16 496.52,89.40 496.59,89.21 496.66,86.89 496.73,87.85 496.80,88.76 496.87,88.98 496.94,89.28 497.01,86.88 497.08,87.37 497.15,87.76 497.22,88.47 497.29,87.40 497.36,88.40 497.43,88.42 497.50,89.47 497.57,87.27 497.64,88.26 497.71,88.18 497.78,87.86 497.85,89.00 497.92,87.95 497.99,89.11 498.06,87.76 498.13,89.28 498.20,89.25 498.27,87.62 498.34,88.39 498.41,88.38 498.48,87.53 498.55,88.70 498.62,88.58 498.69,87.62 498.76,88.26 498.83,88.79 498.90,88.10 498.97,87.74 499.04,89.29 499.11,87.57 499.18,88.45 499.25,88.97 499.32,88.75 499.39,87.02 499.46,88.02 499.53,87.03 499.60,88.11 499.67,88.66 499.74,88.61 499.81,88.35 499.88,88.44 499.95,88.93 500.02,89.09 500.09,87.03 500.16,89.71 500.23,87.91 500.30,88.79 500.37,87.21 500.44,87.95 500.51,87.46 500.58,89.00 500.65,88.87 500.72,88.29 500.79,88.18 500.86,88.55 500.93,87.28 501.00,87.89 501.07,87.79 501.14,88.83 501.21,88.31 501.28,87.46 501.35,88.52 501.42,88.64 501.49,89.21 501.56,87.93 501.63,88.56 501.70,89.66 501.77,88.08 501.84,88.06 501.91,88.63 501.98,87.97 502.05,88.30 502.12,87.97 502.19,87.92 502.26,88.87 502.33,88.05 502.40,87.64 502.47,88.11 502.54,88.20 502.61,88.49 502.68,88.91 502.75,89.45 502.82,87.50 502.89,88.13 502.96,87.11 503.03,88.44 503.10,88.63 503.17,87.86 503.24,87.69 503.31,87.64 503.38,87.31 503.45,89.38 503.52,89.53 503.59,87.54 503.66,89.35 503.73,87.90 503.80,86.31 503.87,87.87 503.94,89.12 504.01,88.53 504.08,88.11 504.15,89.36 504.22,87.99 504.29,88.69 504.36,88.70 504.43,87.69 504.50,87.07 504.57,87.14 504.64,88.01 504.71,88.50 504.78,87.11 504.85,87.80 504.92,89.26 504.99,87.10 505.06,88.57 505.13,88.49 505.20,89.45 505.27,87.31 505.34,88.48 505.41,87.36 505.48,89.13 505.55,87.70 505.62,88.51 505.69,87.74 505.76,87.55 505.83,87.27 505.90,88.45 505.97,88.65 506.04,88.26 506.11,88.53 506.18,88.50 506.25,88.77 506.32,88.59 506.39,89.48 506.46,87.84 506.53,88.09 506.60,88.12 506.67,88.67 506.74,88.44 506.81,88.38 506.88,88.46 506.95,87.94 507.02,88.23 507.09,88.56 507.16,86.79 507.23,88.84 507.30,87.91 507.37,88.05 507.44,88.45 507.51,88.12 507.58,87.34 507.65,88.46 507.72,89.98 507.79,88.10 507.86,89.09 507.93,87.94 508.00,88.16 508.07,88.98 508.14,87.83 508.21,88.32 508.28,87.68 508.35,87.05 508.42,89.23 508.49,87.32 508.56,88.59 508.63,88.17 508.70,90.43 508.77,88.44 508.84,88.25 508.91,88.62 508.98,88.66 509.05,89.20 509.12,88.78 509.19,87.83 509.26,86.96 509.33,86.17 509.40,87.89 509.47,89.25 509.54,87.48 509.61,88.47 509.68,87.86 509.75,87.77 509.82,89.13 509.89,88.45 509.96,87.36 510.03,88.83 510.10,87.59 510.17,88.10 510.24,87.93 510.31,89.64 510.38,87.39 510.45,88.76 510.52,89.07 510.59,88.22 510.66,88.24 510.73,87.27 510.80,88.66 510.87,89.33 510.94,88.08 511.01,89.13 511.08,87.18 511.15,88.62 511.22,87.44 511.29,87.60 511.36,88.21 511.43,89.22 511.50,87.57 511.57,87.69 511.64,87.51 511.71,89.66 511.78,88.69 511.85,88.00 511.92,89.70 511.99,85.25 512.06,86.97 512.13,88.02 512.20,89.13 512.27,89.68 512.34,87.42 512.41,88.55 512.48,88.01 512.55,88.06 512.62,88.36 512.69,88.26 512.76,87.90 512.83,87.54 512.90,87.92 512.97,87.67 513.04,88.91 513.11,88.43 513.18,88.42 513.25,88.66 513.32,88.19 513.39,90.67 513.46,87.87 513.53,87.70 513.60,89.02 513.67,87.89 513.74,88.43 513.81,88.99 513.88,87.67 513.95,88.12 514.02,88.98 514.09,88.84 514.16,86.87 514.23,87.57 514.30,88.10 514.37,87.27 514.44,87.78 514.51,87.64 514.58,88.54 514.65,88.85 514.72,87.93 514.79,88.06 514.86,87.63 514.93,87.45 515.00,88.07 515.07,88.72 515.14,88.48 515.21,88.74 515.28,88.17 515.35,86.57 515.42,88.49 515.49,89.21 515.56,88.95 515.63,88.94 515.70,89.07 515.77,90.10 515.84,88.57 515.91,89.37 515.98,89.35 516.05,88.81 516.12,88.28 516.19,88.14 516.26,87.63 516.33,88.75 516.40,88.16 516.47,87.59 516.54,87.87 516.61,87.60 516.68,89.41 516.75,88.21 516.82,88.44 516.89,87.58 516.96,87.70 517.03,89.05 517.10,88.22 517.17,87.83 517.24,89.56 517.31,90.23 517.38,88.82 517.45,88.69 517.52,88.53 517.59,88.19 517.66,89.69 517.73,87.59 517.80,88.32 517.87,87.13 517.94,87.56 518.01,88.64 518.08,88.67 518.15,88.60 518.22,88.17 518.29,87.92 518.36,88.03 518.43,88.13 518.50,89.09 518.57,90.05 518.64,88.67 518.71,88.03 518.78,87.77 518.85,88.89 518.92,88.23 518.99,87.20 519.06,89.27 519.13,88.38 519.20,88.18 519.27,87.82 519.34,87.82 519.41,88.96 519.48,87.77 519.55,89.25 519.62,88.79 519.69,89.58 519.76,88.77 519.83,88.36 519.90,88.10 519.97,88.94 520.04,89.03 520.11,88.11 520.18,88.77 520.25,88.30 520.32,87.34 520.39,87.74 520.46,88.91 520.53,88.68 520.60,88.83 520.67,88.26 520.74,87.93 520.81,88.73 520.88,88.60 520.95,87.35 521.02,88.81 521.09,87.93 521.16,88.82 521.23,88.74 521.30,88.86 521.37,89.08 521.44,88.85 521.51,87.72 521.58,87.74 521.65,89.06 521.72,87.95 521.79,89.63 521.86,87.10 521.93,88.97 522.00,89.82 522.07,88.93 522.14,88.24 522.21,88.57 522.28,86.65 522.35,87.76 522.42,89.05 522.49,88.95 522.56,87.03 522.63,89.16 522.70,88.74 522.77,89.00 522.84,88.27 522.91,88.40 522.98,87.71 523.05,88.61 523.12,88.10 523.19,87.80 523.26,88.64 523.33,88.06 523.40,89.07 523.47,89.03 523.54,86.89 523.61,88.69 523.68,89.05 523.75,88.04 523.82,88.26 523.89,88.31 523.96,87.67 524.03,88.33 524.10,89.40 524.17,88.71 524.24,89.38 524.31,89.04 524.38,89.17 524.45,88.48 524.52,88.90 524.59,89.70 524.66,89.35 524.73,89.03 524.80,87.96 524.87,87.82 524.94,88.56 525.01,88.69 525.08,87.24 525.15,88.55 525.22,88.63 525.29,88.60 525.36,88.06 525.43,90.87 525.50,88.97 525.57,87.54 525.64,87.95 525.71,88.92 525.78,88.74 525.85,89.91 525.92,88.39 525.99,88.27 526.06,88.12 526.13,86.28 526.20,88.77 526.27,86.64 526.34,87.94 526.41,89.19 526.48,87.90 526.55,86.49 526.62,89.60 526.69,89.06 526.76,88.30 526.83,88.02 526.90,87.66 526.97,88.14 527.04,88.24 527.11,88.43 527.18,88.73 527.25,88.04 527.32,87.85 527.39,87.57 527.46,88.39 527.53,87.74 527.60,87.79 527.67,89.33 527.74,88.70 527.81,88.08 527.88,89.53 527.95,88.71 528.02,89.25 528.09,90.23 528.16,88.64 528.23,90.15 528.30,88.58 528.37,87.66 528.44,87.22 528.51,88.40 528.58,88.34 528.65,88.83 528.72,87.96 528.79,89.24 528.86,88.44 528.93,89.35 529.00,88.16 529.07,89.33 529.14,88.34 529.21,88.47 529.28,88.99 529.35,87.26 529.42,87.71 529.49,89.54 529.56,87.43 529.63,88.07 529.70,88.99 529.77,89.30 529.84,88.06 529.91,88.47 529.98,87.67 530.05,88.14 530.12,89.03 530.19,88.59 530.26,88.37 530.33,88.66 530.40,88.48 530.47,88.50 530.54,88.17 530.61,87.78 530.68,88.82 530.75,87.67 530.82,87.16 530.89,89.73 530.96,89.35 531.03,89.85 531.10,87.75 531.17,88.55 531.24,87.88 531.31,87.94 531.38,87.33 531.45,87.64 531.52,88.94 531.59,88.85 531.66,89.16 531.73,88.90 531.80,88.90 531.87,87.91 531.94,88.34 532.01,88.88 532.08,89.20 532.15,88.19 532.22,88.11 532.29,88.15 532.36,89.42 532.43,87.28 532.50,88.23 532.57,87.95 532.64,88.70 532.71,85.87 532.78,88.29 532.85,88.08 532.92,88.07 532.99,88.56 533.06,88.70 533.13,90.33 533.20,88.50 533.27,86.36 533.34,87.94 533.41,87.41 533.48,89.15 533.55,89.66 533.62,88.15 533.69,88.40 533.76,89.14 533.83,88.51 533.90,86.63 533.97,89.08 534.04,88.36 534.11,88.90 534.18,87.86 534.25,89.00 534.32,89.10 534.39,88.01 534.46,88.76 534.53,88.06 534.60,88.14 534.67,87.90 534.74,88.19 534.81,88.04 534.88,89.18 534.95,88.32 535.02,87.76 535.09,89.31 535.16,88.80 535.23,89.07 535.30,88.42 535.37,88.89 535.44,88.40 535.51,87.87 535.58,88.53 535.65,88.55 535.72,88.55 535.79,88.99 535.86,87.40 535.93,88.65 536.00,87.98 536.07,88.30 536.14,88.75 536.21,88.51 536.28,88.06 536.35,89.94 536.42,87.81 536.49,89.05 536.56,89.08 536.63,88.26 536.70,87.81 536.77,88.53 536.84,90.67 536.91,88.68 536.98,87.77 537.05,87.45 537.12,87.91 537.19,87.91 537.26,88.87 537.33,90.31 537.40,89.03 537.47,88.44 537.54,89.52 537.61,88.50 537.68,88.42 537.75,88.25 537.82,88.77 537.89,89.16 537.96,88.97 538.03,89.28 538.10,88.13 538.17,88.78 538.24,89.54 538.31,88.66 538.38,88.41 538.45,88.37 538.52,88.19 538.59,88.59 538.66,89.35 538.73,88.78 538.80,88.49 538.87,88.03 538.94,87.82 539.01,89.96 539.08,88.22 539.15,88.57 539.22,88.21 539.29,88.61 539.36,88.25 539.43,88.57 539.50,89.38 539.57,88.06 539.64,88.82 539.71,89.70 539.78,88.94 539.85,88.09 539.92,88.75 539.99,87.95 540.06,87.40 540.13,87.70 540.20,87.92 540.27,87.81 540.34,88.29 540.41,89.15 540.48,87.80 540.55,89.19 540.62,88.57 540.69,88.06 540.76,88.68 540.83,88.74 540.90,88.77 540.97,88.27 541.04,88.39 541.11,88.47 541.18,87.69 541.25,88.54 541.32,88.66 541.39,89.53 541.46,87.71 541.53,87.96 541.60,88.53 541.67,88.13 541.74,88.04 541.81,88.48 541.88,88.30 541.95,88.46 542.02,88.74 542.09,87.51 542.16,88.81 542.23,87.14 542.30,89.50 542.37,89.03 542.44,88.12 542.51,89.09 542.58,88.40 542.65,88.74 542.72,88.94 542.79,88.69 542.86,88.49 542.93,88.86 543.00,88.38 543.07,88.27 543.14,87.93 543.21,87.42 543.28,89.43 543.35,88.96 543.42,87.66 543.49,89.03 543.56,88.62 543.63,87.19 543.70,88.00 543.77,88.43 543.84,89.51 543.91,89.15 543.98,89.24 544.05,88.69 544.12,89.09 544.19,86.65 544.26,88.87 544.33,88.93 544.40,87.76 544.47,88.30 544.54,89.40 544.61,89.64 544.68,88.91 544.75,88.15 544.82,89.01 544.89,88.21 544.96,89.24 545.03,88.02 545.10,87.90 545.17,87.56 545.24,88.63 545.31,88.77 545.38,86.35 545.45,88.07 545.52,88.18 545.59,89.31 545.66,87.73 545.73,88.50 545.80,88.64 545.87,88.74 545.94,89.26 546.01,89.01 546.08,88.68 546.15,89.38 546.22,89.20 546.29,88.70 546.36,88.67 546.43,87.83 546.50,88.60 546.57,87.84 546.64,87.86 546.71,88.37 546.78,87.52" fill="none" stroke="#ff2a2a" stroke-width="0.26" stroke-linejoin="round" opacity="1.0"/>
<polyline points="374.37,71.31 374.44,71.83 374.51,70.74 374.58,71.78 374.65,70.50 374.72,68.08 374.79,65.59 374.86,66.53 374.93,64.35 375.00,64.21 375.07,63.02 375.14,61.50 375.21,60.91 375.28,61.25 375.30,61.84 375.35,62.00 375.42,61.58 375.49,63.01 375.56,63.12 375.63,65.17 375.70,65.61 375.77,67.98 375.84,67.87 375.91,69.05 375.98,70.52 376.05,71.59 376.12,70.88 376.19,71.94 376.26,72.09" fill="none" stroke="#ff2a2a" stroke-width="0.35" stroke-linejoin="round" opacity="1.0"/>
<polyline points="386.55,74.82 386.62,75.20 386.69,75.03 386.76,74.05 386.83,74.02 386.90,73.48 386.97,72.38 387.04,71.00 387.11,67.79 387.18,64.39 387.25,61.24 387.32,56.42 387.39,51.65 387.46,48.92 387.53,44.28 387.60,41.88 387.67,40.81 387.70,39.56 387.74,40.15 387.81,42.48 387.88,44.88 387.95,51.29 388.02,52.50 388.09,55.94 388.16,61.24 388.23,64.43 388.30,68.51 388.37,70.43 388.44,71.60 388.51,72.82 388.58,74.50 388.65,74.56 388.72,73.86 388.79,73.24 388.86,71.66 388.93,70.04 389.00,68.14 389.07,64.51 389.14,61.24 389.21,56.16 389.28,51.34 389.35,46.91 389.42,43.75 389.49,41.76 389.56,39.79 389.60,37.97 389.63,37.58 389.70,39.93 389.77,41.74 389.84,43.36 389.91,47.93 389.98,50.28 390.05,53.39 390.12,54.41 390.19,55.53 390.26,55.14 390.33,53.65 390.40,52.97 390.47,51.40 390.54,51.16 390.61,49.17 390.68,48.50 390.70,49.90 390.75,50.46 390.82,51.58 390.89,52.88 390.96,53.27 391.03,56.12 391.10,58.74 391.17,61.64 391.24,62.78 391.31,66.39 391.38,68.58 391.45,69.53 391.52,70.82 391.59,73.36 391.66,73.49 391.73,74.71 391.80,75.07 391.87,74.87 391.94,74.82 392.01,74.05 392.08,74.39 392.15,72.20 392.22,70.27 392.29,68.37 392.36,63.63 392.43,59.83 392.50,54.17 392.57,46.43 392.64,38.56 392.71,30.96 392.78,23.23 392.85,15.44 392.92,11.21 392.99,11.05 393.00,10.44 393.06,9.97 393.13,14.13 393.20,20.88 393.27,27.64 393.34,36.61 393.41,44.41 393.48,52.09 393.55,57.48 393.62,63.81 393.69,68.67 393.76,69.93 393.83,73.30 393.90,74.48 393.97,75.16 394.04,75.27 394.11,74.93 394.18,75.30 394.25,76.44" fill="none" stroke="#ff2a2a" stroke-width="0.35" stroke-linejoin="round" opacity="1.0"/>
<polyline points="399.36,75.24 399.43,75.30 399.50,75.42 399.57,75.60 399.64,74.92 399.71,75.04 399.78,73.90 399.85,71.94 399.92,71.76 399.99,69.95 400.06,67.26 400.13,65.93 400.20,65.53 400.27,62.47 400.34,61.58 400.41,60.34 400.48,59.99 400.50,59.34 400.55,59.89 400.62,60.08 400.69,60.53 400.76,61.85 400.83,64.75 400.90,67.07 400.97,67.87 401.04,70.41 401.11,71.37 401.18,71.71 401.25,72.65 401.32,75.14 401.39,74.30 401.46,75.33 401.53,74.45 401.60,74.60 401.67,74.28" fill="none" stroke="#ff2a2a" stroke-width="0.35" stroke-linejoin="round" opacity="1.0"/>
<polyline points="402.02,73.49 402.09,75.32 402.16,76.06 402.23,73.98 402.30,73.54 402.37,72.99 402.44,72.27 402.51,70.79 402.58,66.86 402.65,64.30 402.72,59.13 402.79,53.28 402.86,46.09 402.93,37.61 403.00,30.46 403.07,21.64 403.14,13.88 403.21,8.95 403.28,6.58 403.30,6.55 403.35,7.89 403.42,10.56 403.49,17.71 403.56,24.17 403.63,32.32 403.70,41.43 403.77,47.47 403.84,54.85 403.91,61.27 403.98,65.17 404.05,68.22 404.12,70.53 404.19,71.12 404.26,72.15 404.33,71.69 404.40,71.32 404.47,72.87 404.54,71.13 404.61,71.79 404.68,71.27 404.75,70.99 404.82,68.69 404.89,67.95 404.96,67.52 405.03,66.40 405.10,66.79 405.17,66.20 405.24,65.99 405.30,66.32 405.31,66.30 405.38,67.10 405.45,67.22 405.52,65.47 405.59,67.89 405.66,67.40 405.73,67.96 405.80,71.48 405.87,69.92 405.94,70.89 406.01,72.40 406.08,72.03 406.15,72.47 406.22,73.67 406.29,74.61 406.36,74.56 406.43,73.65 406.50,74.40 406.57,74.87 406.64,76.22" fill="none" stroke="#ff2a2a" stroke-width="0.35" stroke-linejoin="round" opacity="1.0"/>
<polyline points="316.20,123.20 316.70,123.27 317.20,123.54 317.70,123.39 318.20,123.05 318.70,123.29 319.20,123.20 319.70,123.31 320.20,123.05 320.70,123.33 321.20,123.33 321.70,123.53 322.20,123.34 322.70,123.36 323.20,123.06 323.70,123.63 324.20,123.00 324.70,123.45 325.20,123.24 325.70,123.15 326.20,123.19 326.70,123.18 327.20,123.34 327.70,123.27 328.20,123.50 328.70,123.01 329.20,123.28 329.70,123.15 330.20,123.40 330.70,122.96 331.20,123.23 331.70,123.31 332.20,123.05 332.70,123.42 333.20,123.30 333.70,123.42 334.20,123.42 334.70,123.12 335.20,123.15 335.70,123.24 336.20,123.38 336.70,123.39 337.20,123.15 337.70,123.17 338.20,123.13 338.70,123.15 339.20,123.19 339.70,123.14 340.20,123.17 340.70,122.13 341.00,121.95 341.20,122.16 341.70,122.61 342.20,123.07 342.70,123.21 343.20,123.35 343.70,123.04 344.20,123.45 344.70,123.20 345.20,123.27 345.70,123.38 346.20,123.35 346.70,123.41 347.20,123.27 347.70,123.24 348.20,123.29 348.70,123.09 349.20,123.41 349.70,123.11 350.20,123.02 350.70,123.45 351.20,122.83 351.70,122.02 352.00,122.26 352.20,122.03 352.70,122.89 353.20,122.98 353.70,123.15 354.20,122.95 354.70,122.93 355.20,123.07 355.70,123.21 356.20,123.34 356.70,123.57 357.20,123.05 357.70,123.34 358.20,123.07 358.70,123.05 359.20,122.45 359.70,121.54 360.00,121.34 360.20,121.42 360.70,122.51 361.20,122.91 361.70,123.32 362.20,123.17 362.70,123.18 363.20,123.32 363.70,123.21 364.20,123.10 364.70,123.03 365.20,122.82 365.70,122.26 366.20,120.53 366.70,119.20 367.20,120.52 367.70,122.00 368.20,122.90 368.70,122.80 369.20,123.27 369.70,123.10 370.20,123.12 370.70,123.18 371.20,123.07 371.70,123.01 372.20,123.18 372.70,122.95 373.20,122.65 373.70,122.37 374.20,120.56 374.70,118.14 375.20,115.29 375.30,115.23 375.70,116.93 376.20,120.11 376.70,121.87 377.20,122.72 377.70,123.01 378.20,123.18 378.70,122.95 379.20,123.01 379.70,123.18 380.20,123.03 380.70,123.09 381.20,123.04 381.70,122.73 382.20,122.71 382.70,122.31 383.20,122.29 383.70,121.21 384.20,117.90 384.70,116.00 385.20,117.98 385.70,120.47 386.20,121.33 386.70,120.55 387.20,113.85 387.70,90.60 388.00,80.67 388.20,85.60 388.70,110.46 389.20,118.84 389.70,116.54 390.20,102.65 390.50,96.85 390.70,99.87 391.20,114.73 391.70,119.51 392.20,115.25 392.70,96.81 393.00,88.98 393.20,93.01 393.70,113.33 394.20,120.66 394.70,122.18 395.20,122.30 395.70,121.99 396.20,122.44 396.70,122.74 397.20,122.37 397.70,121.66 398.20,118.30 398.70,114.34 399.20,117.93 399.70,118.41 400.20,109.69 400.50,105.92 400.70,107.69 401.20,116.96 401.70,120.21 402.20,117.80 402.70,100.82 403.20,67.64 403.30,65.75 403.70,86.28 404.20,114.03 404.70,119.20 405.20,114.45 405.70,103.74 405.80,103.30 406.20,110.29 406.70,119.79 407.20,121.84 407.70,122.16 408.20,121.61 408.70,119.42 409.00,118.74 409.20,119.29 409.70,121.73 410.20,122.60 410.70,122.61 411.20,122.84 411.70,122.72 412.20,120.94 412.70,118.44 413.00,116.94 413.20,117.68 413.70,120.64 414.20,121.42 414.70,119.57 415.00,118.95 415.20,119.55 415.70,121.80 416.20,122.99 416.70,122.83 417.20,123.26 417.70,123.03 418.20,123.04 418.70,123.03 419.20,122.49 419.70,120.94 420.00,120.24 420.20,120.37 420.70,122.19 421.20,122.75 421.70,122.93 422.20,123.08 422.70,123.08 423.20,123.10 423.70,123.10 424.20,123.17 424.70,122.87 425.20,122.87 425.70,122.96 426.20,121.67 426.70,119.86 427.20,121.73 427.70,122.67 428.20,122.96 428.70,122.74 429.20,123.10 429.70,122.69 430.20,121.30 430.70,119.25 431.20,121.16 431.70,122.73 432.20,123.18 432.70,123.04 433.20,123.06 433.70,123.10 434.20,123.20 434.70,123.16 435.20,122.90 435.70,121.17 436.00,120.76 436.20,120.77 436.70,122.52 437.20,123.02 437.70,123.36 438.20,123.22 438.70,123.07 439.20,123.24 439.70,123.21 440.20,123.11 440.70,123.11 441.20,123.01 441.70,123.57 442.20,123.17 442.70,123.28 443.20,122.93 443.70,122.88 444.20,122.59 444.70,121.10 445.00,120.61 445.20,120.65 445.70,122.49 446.20,123.23 446.70,122.96 447.20,123.27 447.70,123.00 448.20,123.21 448.70,123.21 449.20,123.42 449.70,123.06 450.20,123.19 450.70,123.32 451.20,122.99 451.70,123.16 452.20,123.03 452.70,123.05 453.20,123.26 453.70,123.25 454.20,123.52 454.70,123.32 455.20,123.25 455.70,122.65 456.20,121.31 456.50,120.82 456.70,120.73 457.20,122.74 457.70,122.92 458.20,122.95 458.70,123.06 459.20,123.27 459.70,123.34 460.20,123.10 460.70,123.22 461.20,123.15 461.70,123.01 462.20,123.18 462.70,123.16 463.20,122.92 463.70,123.32 464.20,122.91 464.70,123.18 465.20,122.98 465.70,123.00 466.20,123.00 466.70,123.15 467.20,122.48 467.70,121.33 468.00,121.03 468.20,120.97 468.70,122.48 469.20,123.11 469.70,123.01 470.20,123.19 470.70,123.03 471.20,123.24 471.70,123.15 472.20,123.01 472.70,123.36 473.20,123.13 473.70,123.11 474.20,123.01 474.70,123.08 475.20,123.13 475.70,123.17 476.20,123.31 476.70,122.95 477.20,123.09 477.70,123.32 478.20,123.16 478.70,123.19 479.20,123.35 479.70,123.14 480.20,123.09 480.70,122.59 481.20,121.39 481.50,120.65 481.70,120.70 482.20,122.48 482.70,122.81 483.20,123.24 483.70,123.20 484.20,123.09 484.70,123.07 485.20,122.86 485.70,123.25 486.20,123.12 486.70,123.09 487.20,123.25 487.70,123.04 488.20,123.05 488.70,123.03 489.20,122.93 489.70,123.50 490.20,123.11 490.70,123.08 491.20,123.27 491.70,122.66 492.20,123.12 492.70,123.12 493.20,122.95 493.70,123.12 494.20,122.49 494.70,121.88 495.00,121.62 495.20,121.35 495.70,122.45 496.20,123.00 496.70,123.08 497.20,123.00 497.70,123.16 498.20,123.14 498.70,122.91 499.20,123.09 499.70,122.92 500.20,122.80 500.70,122.75 501.20,123.26 501.70,123.09 502.20,123.40 502.70,122.89 503.20,123.05 503.70,123.15 504.20,123.08 504.70,123.18 505.20,123.12 505.70,123.01 506.20,122.75 506.70,122.95 507.20,123.35 507.70,123.20 508.20,123.28 508.70,122.95 509.20,122.80 509.70,121.96 510.00,121.83 510.20,121.94 510.70,122.80 511.20,123.29 511.70,122.94 512.20,123.20 512.70,122.88 513.20,123.26 513.70,123.03 514.20,123.09 514.70,123.12 515.20,123.35 515.70,123.10 516.20,123.03 516.70,122.92 517.20,123.14 517.70,122.97 518.20,123.03 518.70,123.10 519.20,123.20 519.70,122.99 520.20,123.20 520.70,123.36 521.20,122.88 521.70,123.30 522.20,123.42 522.70,123.01 523.20,123.19 523.70,122.89 524.20,123.15 524.70,123.05 525.20,123.14 525.70,122.95 526.20,122.97 526.70,123.02 527.20,122.97 527.70,122.98 528.20,123.03 528.70,122.86 529.20,122.80 529.70,122.16 530.00,121.43 530.20,121.96 530.70,122.60 531.20,122.84 531.70,122.85 532.20,122.94 532.70,122.96 533.20,123.13 533.70,122.89 534.20,123.23 534.70,122.96 535.20,123.18 535.70,123.24 536.20,122.90 536.70,123.24 537.20,123.41 537.70,123.02 538.20,123.17 538.70,123.07 539.20,123.10 539.70,123.06 540.20,123.02 540.70,123.20 541.20,123.22 541.70,123.09 542.20,123.32 542.70,123.26 543.20,123.20 543.70,122.99 544.20,123.38 544.70,123.29 545.20,122.77 545.70,122.93 546.20,123.02" fill="none" stroke="#5a5aff" stroke-width="0.5" stroke-linejoin="round" opacity="1.0"/>
<polyline points="316.20,123.20 316.70,123.27 317.20,123.54 317.70,123.39 318.20,123.05 318.70,123.29 319.20,123.20 319.70,123.31 320.20,123.05 320.70,123.33 321.20,123.33 321.70,123.53 322.20,123.34 322.70,123.36 323.20,123.06 323.70,123.63 324.20,123.00 324.70,123.45 325.20,123.24 325.70,123.15 326.20,123.19 326.70,123.18 327.20,123.34 327.70,123.27 328.20,123.50 328.70,123.01 329.20,123.28 329.70,123.15 330.20,123.40 330.70,122.96 331.20,123.23 331.70,123.31 332.20,123.05 332.70,123.42 333.20,123.30 333.70,123.42 334.20,123.42 334.70,123.12 335.20,123.15 335.70,123.24 336.20,123.38 336.70,123.39 337.20,123.15 337.70,123.17 338.20,123.13 338.70,123.15 339.20,123.19 339.70,123.14 340.20,123.17 340.70,122.13 341.00,122.08 341.20,122.16 341.70,122.61 342.20,123.07 342.70,123.21 343.20,123.35 343.70,123.04 344.20,123.45 344.70,123.20 345.20,123.27 345.70,123.38 346.20,123.35 346.70,123.41 347.20,123.27 347.70,123.24 348.20,123.29 348.70,123.09 349.20,123.41 349.70,123.11 350.20,123.02 350.70,123.45 351.20,122.83 351.70,122.07 352.00,122.26 352.20,122.07 352.70,122.89 353.20,122.98 353.70,123.15 354.20,122.95 354.70,122.93 355.20,123.07 355.70,123.21 356.20,123.34 356.70,123.57 357.20,123.05 357.70,123.34 358.20,123.07 358.70,123.05 359.20,122.45 359.70,122.06 360.00,122.06 360.20,122.06 360.70,122.51 361.20,122.91 361.70,123.32 362.20,123.17 362.70,123.18 363.20,123.32 363.70,123.21 364.20,123.10 364.70,123.03 365.20,122.82 365.70,122.26 366.20,122.06 366.70,122.06 367.20,122.06 367.70,122.06 368.20,122.90 368.70,122.80 369.20,123.27 369.70,123.10 370.20,123.12 370.70,123.18 371.20,123.07 371.70,123.01 372.20,123.18 372.70,122.95 373.20,122.65 373.70,122.37 374.20,122.05 374.70,122.05 375.20,122.05 375.30,122.05 375.70,122.05 376.20,122.05 376.70,122.05 377.20,122.72 377.70,123.01 378.20,123.18 378.70,122.95 379.20,123.01 379.70,123.18 380.20,123.03 380.70,123.09 381.20,123.04 381.70,122.73 382.20,122.71 382.70,122.31 383.20,122.29 383.70,122.04 384.20,122.04 384.70,122.04 385.20,122.04 385.70,122.04 386.20,122.04 386.70,122.04 387.20,122.04 387.70,122.04 388.00,122.04 388.20,122.04 388.70,122.04 389.20,122.04 389.70,122.04 390.20,122.04 390.50,122.04 390.70,122.04 391.20,122.03 391.70,122.03 392.20,122.03 392.70,122.03 393.00,122.03 393.20,122.03 393.70,122.03 394.20,122.03 394.70,122.18 395.20,122.30 395.70,122.03 396.20,122.44 396.70,122.74 397.20,122.37 397.70,122.03 398.20,122.03 398.70,122.03 399.20,122.03 399.70,122.03 400.20,122.03 400.50,122.03 400.70,122.03 401.20,122.03 401.70,122.03 402.20,122.03 402.70,122.02 403.20,122.02 403.30,122.02 403.70,122.02 404.20,122.02 404.70,122.02 405.20,122.02 405.70,122.02 405.80,122.02 406.20,122.02 406.70,122.02 407.20,122.02 407.70,122.16 408.20,122.02 408.70,122.02 409.00,122.02 409.20,122.02 409.70,122.02 410.20,122.60 410.70,122.61 411.20,122.84 411.70,122.72 412.20,122.02 412.70,122.02 413.00,122.02 413.20,122.02 413.70,122.02 414.20,122.01 414.70,122.01 415.00,122.01 415.20,122.01 415.70,122.01 416.20,122.99 416.70,122.83 417.20,123.26 417.70,123.03 418.20,123.04 418.70,123.03 419.20,122.49 419.70,122.01 420.00,122.01 420.20,122.01 420.70,122.19 421.20,122.75 421.70,122.93 422.20,123.08 422.70,123.08 423.20,123.10 423.70,123.10 424.20,123.17 424.70,122.87 425.20,122.87 425.70,122.96 426.20,122.00 426.70,122.00 427.20,122.00 427.70,122.67 428.20,122.96 428.70,122.74 429.20,123.10 429.70,122.69 430.20,122.00 430.70,122.00 431.20,122.00 431.70,122.73 432.20,123.18 432.70,123.04 433.20,123.06 433.70,123.10 434.20,123.20 434.70,123.16 435.20,122.90 435.70,122.00 436.00,122.00 436.20,122.00 436.70,122.52 437.20,123.02 437.70,123.36 438.20,123.22 438.70,123.07 439.20,123.24 439.70,123.21 440.20,123.11 440.70,123.11 441.20,123.01 441.70,123.57 442.20,123.17 442.70,123.28 443.20,122.93 443.70,122.88 444.20,122.59 444.70,121.99 445.00,121.99 445.20,121.99 445.70,122.49 446.20,123.23 446.70,122.96 447.20,123.27 447.70,123.00 448.20,123.21 448.70,123.21 449.20,123.42 449.70,123.06 450.20,123.19 450.70,123.32 451.20,122.99 451.70,123.16 452.20,123.03 452.70,123.05 453.20,123.26 453.70,123.25 454.20,123.52 454.70,123.32 455.20,123.25 455.70,122.65 456.20,121.98 456.50,121.98 456.70,121.98 457.20,122.74 457.70,122.92 458.20,122.95 458.70,123.06 459.20,123.27 459.70,123.34 460.20,123.10 460.70,123.22 461.20,123.15 461.70,123.01 462.20,123.18 462.70,123.16 463.20,122.92 463.70,123.32 464.20,122.91 464.70,123.18 465.20,122.98 465.70,123.00 466.20,123.00 466.70,123.15 467.20,122.48 467.70,121.97 468.00,121.97 468.20,121.97 468.70,122.48 469.20,123.11 469.70,123.01 470.20,123.19 470.70,123.03 471.20,123.24 471.70,123.15 472.20,123.01 472.70,123.36 473.20,123.13 473.70,123.11 474.20,123.01 474.70,123.08 475.20,123.13 475.70,123.17 476.20,123.31 476.70,122.95 477.20,123.09 477.70,123.32 478.20,123.16 478.70,123.19 479.20,123.35 479.70,123.14 480.20,123.09 480.70,122.59 481.20,121.96 481.50,121.96 481.70,121.96 482.20,122.48 482.70,122.81 483.20,123.24 483.70,123.20 484.20,123.09 484.70,123.07 485.20,122.86 485.70,123.25 486.20,123.12 486.70,123.09 487.20,123.25 487.70,123.04 488.20,123.05 488.70,123.03 489.20,122.93 489.70,123.50 490.20,123.11 490.70,123.08 491.20,123.27 491.70,122.66 492.20,123.12 492.70,123.12 493.20,122.95 493.70,123.12 494.20,122.49 494.70,121.94 495.00,121.94 495.20,121.94 495.70,122.45 496.20,123.00 496.70,123.08 497.20,123.00 497.70,123.16 498.20,123.14 498.70,122.91 499.20,123.09 499.70,122.92 500.20,122.80 500.70,122.75 501.20,123.26 501.70,123.09 502.20,123.40 502.70,122.89 503.20,123.05 503.70,123.15 504.20,123.08 504.70,123.18 505.20,123.12 505.70,123.01 506.20,122.75 506.70,122.95 507.20,123.35 507.70,123.20 508.20,123.28 508.70,122.95 509.20,122.80 509.70,121.96 510.00,121.93 510.20,121.94 510.70,122.80 511.20,123.29 511.70,122.94 512.20,123.20 512.70,122.88 513.20,123.26 513.70,123.03 514.20,123.09 514.70,123.12 515.20,123.35 515.70,123.10 516.20,123.03 516.70,122.92 517.20,123.14 517.70,122.97 518.20,123.03 518.70,123.10 519.20,123.20 519.70,122.99 520.20,123.20 520.70,123.36 521.20,122.88 521.70,123.30 522.20,123.42 522.70,123.01 523.20,123.19 523.70,122.89 524.20,123.15 524.70,123.05 525.20,123.14 525.70,122.95 526.20,122.97 526.70,123.02 527.20,122.97 527.70,122.98 528.20,123.03 528.70,122.86 529.20,122.80 529.70,122.16 530.00,121.91 530.20,121.96 530.70,122.60 531.20,122.84 531.70,122.85 532.20,122.94 532.70,122.96 533.20,123.13 533.70,122.89 534.20,123.23 534.70,122.96 535.20,123.18 535.70,123.24 536.20,122.90 536.70,123.24 537.20,123.41 537.70,123.02 538.20,123.17 538.70,123.07 539.20,123.10 539.70,123.06 540.20,123.02 540.70,123.20 541.20,123.22 541.70,123.09 542.20,123.32 542.70,123.26 543.20,123.20 543.70,122.99 544.20,123.38 544.70,123.29 545.20,122.77 545.70,122.93 546.20,123.02" fill="none" stroke="#5a5aff" stroke-width="0.4" stroke-linejoin="round" opacity="1.0"/>
<line x1="21.90" y1="144.50" x2="21.90" y2="266.00" stroke="#333" stroke-width="0.9"/>
<line x1="21.90" y1="266.00" x2="25.30" y2="266.00" stroke="#333" stroke-width="0.8"/>
<line x1="21.90" y1="262.54" x2="23.90" y2="262.54" stroke="#666" stroke-width="0.6"/>
<line x1="21.90" y1="259.08" x2="23.90" y2="259.08" stroke="#666" stroke-width="0.6"/>
<line x1="21.90" y1="255.62" x2="23.90" y2="255.62" stroke="#666" stroke-width="0.6"/>
<line x1="21.90" y1="252.16" x2="23.90" y2="252.16" stroke="#666" stroke-width="0.6"/>
<line x1="21.90" y1="248.70" x2="25.30" y2="248.70" stroke="#333" stroke-width="0.8"/>
<line x1="21.90" y1="245.24" x2="23.90" y2="245.24" stroke="#666" stroke-width="0.6"/>
<line x1="21.90" y1="241.78" x2="23.90" y2="241.78" stroke="#666" stroke-width="0.6"/>
<line x1="21.90" y1="238.32" x2="23.90" y2="238.32" stroke="#666" stroke-width="0.6"/>
<line x1="21.90" y1="234.86" x2="23.90" y2="234.86" stroke="#666" stroke-width="0.6"/>
<line x1="21.90" y1="231.40" x2="25.30" y2="231.40" stroke="#333" stroke-width="0.8"/>
<line x1="21.90" y1="227.94" x2="23.90" y2="227.94" stroke="#666" stroke-width="0.6"/>
<line x1="21.90" y1="224.48" x2="23.90" y2="224.48" stroke="#666" stroke-width="0.6"/>
<line x1="21.90" y1="221.02" x2="23.90" y2="221.02" stroke="#666" stroke-width="0.6"/>
<line x1="21.90" y1="217.56" x2="23.90" y2="217.56" stroke="#666" stroke-width="0.6"/>
<line x1="21.90" y1="214.10" x2="25.30" y2="214.10" stroke="#333" stroke-width="0.8"/>
<line x1="21.90" y1="210.64" x2="23.90" y2="210.64" stroke="#666" stroke-width="0.6"/>
<line x1="21.90" y1="207.18" x2="23.90" y2="207.18" stroke="#666" stroke-width="0.6"/>
<line x1="21.90" y1="203.72" x2="23.90" y2="203.72" stroke="#666" stroke-width="0.6"/>
<line x1="21.90" y1="200.26" x2="23.90" y2="200.26" stroke="#666" stroke-width="0.6"/>
<line x1="21.90" y1="196.80" x2="25.30" y2="196.80" stroke="#333" stroke-width="0.8"/>
<line x1="21.90" y1="193.34" x2="23.90" y2="193.34" stroke="#666" stroke-width="0.6"/>
<line x1="21.90" y1="189.88" x2="23.90" y2="189.88" stroke="#666" stroke-width="0.6"/>
<line x1="21.90" y1="186.42" x2="23.90" y2="186.42" stroke="#666" stroke-width="0.6"/>
<line x1="21.90" y1="182.96" x2="23.90" y2="182.96" stroke="#666" stroke-width="0.6"/>
<line x1="21.90" y1="179.50" x2="25.30" y2="179.50" stroke="#333" stroke-width="0.8"/>
<line x1="21.90" y1="176.04" x2="23.90" y2="176.04" stroke="#666" stroke-width="0.6"/>
<line x1="21.90" y1="172.58" x2="23.90" y2="172.58" stroke="#666" stroke-width="0.6"/>
<line x1="21.90" y1="169.12" x2="23.90" y2="169.12" stroke="#666" stroke-width="0.6"/>
<line x1="21.90" y1="165.66" x2="23.90" y2="165.66" stroke="#666" stroke-width="0.6"/>
<line x1="21.90" y1="162.20" x2="25.30" y2="162.20" stroke="#333" stroke-width="0.8"/>
<line x1="21.90" y1="158.74" x2="23.90" y2="158.74" stroke="#666" stroke-width="0.6"/>
<line x1="21.90" y1="155.28" x2="23.90" y2="155.28" stroke="#666" stroke-width="0.6"/>
<line x1="21.90" y1="151.82" x2="23.90" y2="151.82" stroke="#666" stroke-width="0.6"/>
<line x1="21.90" y1="148.36" x2="23.90" y2="148.36" stroke="#666" stroke-width="0.6"/>
<line x1="21.90" y1="144.90" x2="25.30" y2="144.90" stroke="#333" stroke-width="0.8"/>
<line x1="21.90" y1="266.30" x2="270.30" y2="266.30" stroke="#333" stroke-width="1.1"/>
<line x1="21.80" y1="266.30" x2="21.80" y2="264.10" stroke="#333" stroke-width="0.8"/>
<line x1="83.70" y1="266.30" x2="83.70" y2="264.10" stroke="#333" stroke-width="0.8"/>
<line x1="145.60" y1="266.30" x2="145.60" y2="264.10" stroke="#333" stroke-width="0.8"/>
<line x1="207.50" y1="266.30" x2="207.50" y2="264.10" stroke="#333" stroke-width="0.8"/>
<line x1="269.40" y1="266.30" x2="269.40" y2="264.10" stroke="#333" stroke-width="0.8"/>
<text x="20.40" y="268.56" font-size="6.6" fill="#383838" text-anchor="end" stroke="#383838" stroke-width="0.18">0</text>
<text x="20.40" y="253.76" font-size="6.6" fill="#383838" text-anchor="end" stroke="#383838" stroke-width="0.18">20</text>
<text x="20.40" y="239.06" font-size="6.6" fill="#383838" text-anchor="end" stroke="#383838" stroke-width="0.18">40</text>
<text x="20.40" y="223.96" font-size="6.6" fill="#383838" text-anchor="end" stroke="#383838" stroke-width="0.18">60</text>
<text x="20.40" y="209.56" font-size="6.6" fill="#383838" text-anchor="end" stroke="#383838" stroke-width="0.18">80</text>
<text x="20.40" y="194.86" font-size="6.6" fill="#383838" text-anchor="end" stroke="#383838" stroke-width="0.18">100</text>
<text x="20.40" y="179.16" font-size="6.6" fill="#383838" text-anchor="end" stroke="#383838" stroke-width="0.18">120</text>
<text x="20.40" y="163.66" font-size="6.6" fill="#383838" text-anchor="end" stroke="#383838" stroke-width="0.18">140</text>
<text x="20.40" y="148.26" font-size="6.6" fill="#383838" text-anchor="end" stroke="#383838" stroke-width="0.18">160</text>
<text x="21.60" y="273.71" font-size="7.0" fill="#383838" text-anchor="middle" stroke="#383838" stroke-width="0.18">0</text>
<text x="82.40" y="273.71" font-size="7.0" fill="#383838" text-anchor="middle" stroke="#383838" stroke-width="0.18">10</text>
<text x="145.20" y="273.71" font-size="7.0" fill="#383838" text-anchor="middle" stroke="#383838" stroke-width="0.18">20</text>
<text x="207.70" y="273.71" font-size="7.0" fill="#383838" text-anchor="middle" stroke="#383838" stroke-width="0.18">30</text>
<text x="268.60" y="273.71" font-size="7.0" fill="#383838" text-anchor="middle" stroke="#383838" stroke-width="0.18">40</text>
<text x="7.71" y="211.35" font-size="6.7" fill="#333" text-anchor="middle" textLength="58.30" lengthAdjust="spacingAndGlyphs" transform="rotate(-90 7.71 211.35)" stroke="#333" stroke-width="0.22">Intensity (arb. units)</text>
<text x="177.80" y="279.43" font-size="8.58" fill="#333" textLength="14.60" lengthAdjust="spacingAndGlyphs" stroke="#333" stroke-width="0.15">2θ (°)</text>
<text x="31.80" y="157.72" font-size="11.08" fill="#1a1a1a" font-weight="bold" textLength="11.50" lengthAdjust="spacingAndGlyphs" stroke="#1a1a1a" stroke-width="0.55">(c)</text>
<text x="219.30" y="213.40" font-size="7.8" fill="#ff2a2a" textLength="49.00" lengthAdjust="spacingAndGlyphs" stroke="#ff2a2a" stroke-width="0.12">Oxy-acetic (Exp)</text>
<text x="219.50" y="259.30" font-size="7.8" fill="#5a5aff" textLength="49.30" lengthAdjust="spacingAndGlyphs" stroke="#5a5aff" stroke-width="0.12">Oxy-acetic (Sim)</text>
<polyline points="40.20,180.27 40.27,180.04 40.34,182.26 40.41,183.85 40.48,185.51 40.55,180.89 40.62,184.07 40.69,184.28 40.76,187.19 40.83,189.11 40.90,187.60 40.97,185.87 41.04,186.65 41.11,187.46 41.18,188.81 41.25,183.41 41.32,188.76 41.39,187.31 41.46,188.32 41.53,188.73 41.60,188.58 41.67,190.70 41.74,189.96 41.81,189.35 41.88,191.07 41.95,191.90 42.02,188.33 42.09,190.64 42.16,189.73 42.23,191.15 42.30,189.65 42.37,193.94 42.44,191.94 42.51,191.73 42.58,190.78 42.65,191.98 42.72,191.12 42.79,190.91 42.86,193.51 42.93,191.68 43.00,195.33 43.07,194.84 43.14,190.91 43.21,194.55 43.28,192.66 43.35,194.58 43.42,194.79 43.49,191.90 43.56,191.89 43.63,197.31 43.70,196.96 43.77,193.75 43.84,196.71 43.91,193.97 43.98,195.18 44.05,194.46 44.12,193.64 44.19,196.68 44.26,199.55 44.33,196.88 44.40,197.24 44.47,197.27 44.54,195.13 44.61,195.99 44.68,198.18 44.75,195.59 44.82,196.52 44.89,196.24 44.96,197.24 45.03,195.82 45.10,196.18 45.17,196.82 45.24,196.66 45.31,194.04 45.38,197.95 45.45,194.68 45.52,194.87 45.59,195.13 45.66,198.24 45.73,196.28 45.80,195.40 45.87,195.20 45.94,197.60 46.01,195.42 46.08,195.13 46.15,198.02 46.22,195.34 46.29,196.70 46.36,197.22 46.43,196.61 46.50,197.24 46.57,199.39 46.64,196.64 46.71,195.57 46.78,194.75 46.85,197.25 46.92,197.07 46.99,198.04 47.06,196.99 47.13,197.02 47.20,196.70 47.27,197.05 47.34,198.11 47.41,197.35 47.48,198.12 47.55,200.87 47.62,198.78 47.69,195.74 47.76,200.75 47.83,198.72 47.90,200.75 47.97,199.65 48.04,198.36 48.11,197.45 48.18,197.47 48.25,196.98 48.32,198.58 48.39,202.40 48.46,198.06 48.53,199.19 48.60,201.39 48.67,196.78 48.74,199.01 48.81,198.18 48.88,197.07 48.95,197.14 49.02,200.99 49.09,199.37 49.16,197.94 49.23,198.84 49.30,199.85 49.37,199.24 49.44,200.11 49.51,199.52 49.58,199.58 49.65,201.60 49.72,199.82 49.79,199.10 49.86,203.26 49.93,197.58 50.00,198.46 50.07,200.17 50.14,199.95 50.21,201.33 50.28,199.06 50.35,196.88 50.42,201.99 50.49,200.73 50.56,197.54 50.63,195.06 50.70,199.21 50.77,196.48 50.84,198.57 50.91,198.46 50.98,201.60 51.05,194.45 51.12,198.90 51.19,197.47 51.26,198.75 51.33,197.97 51.40,199.68 51.47,200.97 51.54,200.32 51.61,198.03 51.68,197.72 51.75,199.62 51.82,198.37 51.89,198.55 51.96,197.01 52.03,203.34 52.10,200.90 52.17,198.12 52.24,199.82 52.31,201.59 52.38,196.08 52.45,198.83 52.52,199.08 52.59,200.64 52.66,198.03 52.73,198.00 52.80,205.29 52.87,202.50 52.94,202.97 53.01,199.02 53.08,198.44 53.15,203.82 53.22,198.40 53.29,199.02 53.36,199.94 53.43,200.62 53.50,199.25 53.57,200.53 53.64,198.68 53.71,200.75 53.78,200.37 53.85,202.80 53.92,200.96 53.99,198.09 54.06,199.39 54.13,200.99 54.20,199.32 54.27,197.03 54.34,197.73 54.41,200.18 54.48,201.95 54.55,198.72 54.62,201.22 54.69,201.43 54.76,199.24 54.83,200.02 54.90,202.92 54.97,202.87 55.04,201.26 55.11,200.86 55.18,202.07 55.25,200.20 55.32,200.29 55.39,199.18 55.46,200.46 55.53,200.37 55.60,200.67 55.67,200.24 55.74,202.41 55.81,202.51 55.88,202.00 55.95,202.32 56.02,197.42 56.09,202.27 56.16,201.92 56.23,197.16 56.30,199.00 56.37,202.27 56.44,200.36 56.51,199.14 56.58,200.23 56.65,200.00 56.72,201.88 56.79,201.50 56.86,200.44 56.93,201.13 57.00,200.81 57.07,202.85 57.14,201.44 57.21,201.88 57.28,200.75 57.35,199.09 57.42,199.97 57.49,201.98 57.56,201.21 57.63,199.76 57.70,198.74 57.77,199.02 57.84,200.66 57.91,200.66 57.98,200.72 58.05,201.64 58.12,201.68 58.19,202.68 58.26,202.66 58.33,203.27 58.40,202.53 58.47,200.88 58.54,201.32 58.61,202.14 58.68,200.99 58.75,202.27 58.82,203.18 58.89,200.30 58.96,198.96 59.03,203.31 59.10,201.62 59.17,202.65 59.24,199.70 59.31,204.19 59.38,202.77 59.45,201.53 59.52,201.22 59.59,201.93 59.66,201.54 59.73,201.40 59.80,200.20 59.87,203.70 59.94,201.83 60.01,202.02 60.08,202.07 60.15,200.34 60.22,202.75 60.29,201.53 60.36,201.61 60.43,202.16 60.50,200.67 60.57,203.33 60.64,201.12 60.71,200.84 60.78,196.66 60.85,202.43 60.92,203.31 60.99,201.39 61.06,199.55 61.13,203.84 61.20,200.78 61.27,204.08 61.34,202.29 61.41,201.38 61.48,201.49 61.55,203.11 61.62,203.76 61.69,202.21 61.76,203.89 61.83,205.56 61.90,202.26 61.97,200.93 62.04,201.09 62.11,200.63 62.18,201.74 62.25,201.64 62.32,200.79 62.39,203.50 62.46,198.98 62.53,200.88 62.60,203.32 62.67,204.33 62.74,203.61 62.81,203.54 62.88,206.02 62.95,203.70 63.02,203.07 63.09,201.20 63.16,202.90 63.23,202.29 63.30,202.03 63.37,202.05 63.44,203.04 63.51,202.65 63.58,204.41 63.65,201.26 63.72,202.95 63.79,205.90 63.86,203.30 63.93,205.00 64.00,204.93 64.07,205.22 64.14,204.41 64.21,201.38 64.28,203.01 64.35,202.87 64.42,201.21 64.49,202.80 64.56,202.52 64.63,201.12 64.70,203.84 64.77,203.50 64.84,202.60 64.91,202.25 64.98,202.86 65.05,203.09 65.12,203.10 65.19,203.63 65.26,203.11 65.33,204.31 65.40,204.53 65.47,204.32 65.54,202.88 65.61,202.97 65.68,204.50 65.75,203.62 65.82,203.87 65.89,200.38 65.96,200.11 66.03,204.48 66.10,204.50 66.17,208.44 66.24,205.11 66.31,204.42 66.38,204.15 66.45,202.11 66.52,205.44 66.59,203.33 66.66,204.94 66.73,204.53 66.80,204.65 66.87,205.56 66.94,203.60 67.01,203.77 67.08,203.13 67.15,203.83 67.22,208.38 67.29,203.89 67.36,206.13 67.43,205.63 67.50,205.51 67.57,206.45 67.64,207.23 67.71,205.07 67.78,206.83 67.85,203.59 67.92,204.54 67.99,203.65 68.06,205.10 68.13,203.13 68.20,206.98 68.27,202.22 68.34,202.54 68.41,207.31 68.48,206.16 68.55,205.54 68.62,205.58 68.69,204.33 68.76,204.55 68.83,205.92 68.90,206.21 68.97,206.25 69.04,205.25 69.11,204.31 69.18,204.72 69.25,207.93 69.32,207.08 69.39,204.57 69.46,204.40 69.53,206.87 69.60,206.15 69.67,206.13 69.74,205.64 69.81,204.66 69.88,204.48 69.95,205.53 70.02,202.86 70.09,207.08 70.16,205.72 70.23,205.93 70.30,203.66 70.37,205.32 70.44,207.27 70.51,203.18 70.58,205.86 70.65,206.44 70.72,204.49 70.79,206.64 70.86,205.04 70.93,204.09 71.00,206.30 71.07,208.61 71.14,208.44 71.21,206.79 71.28,207.49 71.35,203.98 71.42,204.77 71.49,206.89 71.56,207.00 71.63,205.67 71.70,206.87 71.77,204.30 71.84,206.11 71.91,204.22 71.98,206.34 72.05,205.19 72.12,204.99 72.19,206.00 72.26,207.30 72.33,204.54 72.40,205.14 72.47,207.51 72.54,205.43 72.61,208.54 72.68,206.38 72.75,199.96 72.82,206.62 72.89,208.58 72.96,207.08 73.03,206.91 73.10,204.46 73.17,204.03 73.24,205.00 73.31,207.41 73.38,205.30 73.45,207.02 73.52,207.22 73.59,205.59 73.66,206.85 73.73,205.13 73.80,206.96 73.87,205.44 73.94,206.16 74.01,207.12 74.08,206.04 74.15,207.43 74.22,207.18 74.29,207.07 74.36,208.44 74.43,204.54 74.50,204.39 74.57,207.52 74.64,207.99 74.71,209.51 74.78,207.78 74.85,206.69 74.92,205.52 74.99,207.83 75.06,207.75 75.13,202.17 75.20,205.59 75.27,206.71 75.34,207.29 75.41,202.80 75.48,207.03 75.55,207.28 75.62,206.73 75.69,207.37 75.76,208.50 75.83,205.62 75.90,207.63 75.97,206.71 76.04,204.93 76.11,207.39 76.18,209.19 76.25,205.10 76.32,204.85 76.39,204.86 76.46,209.94 76.53,206.85 76.60,207.91 76.67,206.14 76.74,205.94 76.81,204.45 76.88,207.52 76.95,207.66 77.02,204.57 77.09,205.89 77.16,206.32 77.23,207.33 77.30,207.73 77.37,208.97 77.44,209.32 77.51,208.92 77.58,209.32 77.65,205.85 77.72,203.47 77.79,209.09 77.86,207.92 77.93,207.57 78.00,204.81 78.07,204.99 78.14,208.60 78.21,209.63 78.28,207.21 78.35,207.07 78.42,205.27 78.49,208.19 78.56,209.12 78.63,209.98 78.70,207.79 78.77,207.46 78.84,206.24 78.91,209.47 78.98,210.15 79.05,206.96 79.12,208.23 79.19,207.97 79.26,207.07 79.33,204.42 79.40,207.39 79.47,208.75 79.54,205.93 79.61,206.79 79.68,203.43 79.75,209.75 79.82,208.69 79.89,208.65 79.96,207.66 80.03,207.17 80.10,207.96 80.17,207.65 80.24,211.48 80.31,208.07 80.38,212.72 80.45,210.28 80.52,206.17 80.59,208.54 80.66,207.34 80.73,206.65 80.80,204.97 80.87,209.09 80.94,206.90 81.01,206.18 81.08,209.14 81.15,206.81 81.22,208.36 81.29,204.54 81.36,209.46 81.43,209.76 81.50,207.20 81.57,209.67 81.64,207.11 81.71,208.61 81.78,208.16 81.85,209.54 81.92,206.83 81.99,208.86 82.06,210.14 82.13,208.15 82.20,214.39 82.27,205.01 82.34,208.88 82.41,207.95 82.48,207.78 82.55,207.11 82.62,207.92 82.69,211.02 82.76,207.59 82.83,213.36 82.90,210.81 82.97,206.65 83.04,209.90 83.11,209.04 83.18,209.13 83.25,215.49 83.32,210.48 83.39,209.30 83.46,209.11 83.53,205.93 83.60,209.97 83.67,205.41 83.74,212.47 83.81,211.11 83.88,210.29 83.95,211.77 84.02,210.59 84.09,210.77 84.16,210.44 84.23,209.68 84.30,210.13 84.37,207.13 84.44,211.90 84.51,208.16 84.58,207.41 84.65,211.39 84.72,212.07 84.79,208.24 84.86,208.38 84.93,213.46 85.00,209.39 85.07,206.55 85.14,208.43 85.21,212.00 85.28,210.19 85.35,210.33 85.42,210.99 85.49,210.25 85.56,208.90 85.63,207.20 85.70,209.98 85.77,207.87 85.84,209.33 85.91,211.81 85.98,210.16 86.05,209.53 86.12,209.55 86.19,210.46 86.26,210.74 86.33,207.71 86.40,209.76 86.47,211.85 86.54,210.56 86.61,208.52 86.68,208.65 86.75,206.79 86.82,208.52 86.89,211.79 86.96,211.52 87.03,208.48 87.10,208.87 87.17,209.51 87.24,209.53 87.31,209.21 87.38,208.66 87.45,210.58 87.52,211.81 87.59,208.98 87.66,209.03 87.73,211.38 87.80,207.81 87.87,209.00 87.94,209.30 88.01,210.05 88.08,209.47 88.15,208.66 88.22,210.29 88.29,208.28 88.36,207.55 88.43,207.18 88.50,210.93 88.57,207.60 88.64,210.55 88.71,210.87 88.78,211.07 88.85,209.25 88.92,209.27 88.99,210.14 89.06,209.23 89.13,208.32 89.20,211.75 89.27,208.87 89.34,212.50 89.41,210.79 89.48,209.50 89.55,210.72 89.62,211.80 89.69,208.30 89.76,208.93 89.83,208.77 89.90,210.42 89.97,210.75 90.04,210.26 90.11,210.90 90.18,209.54 90.25,210.09 90.32,211.78 90.39,210.47 90.46,208.55 90.53,212.33 90.60,210.72 90.67,210.69 90.74,212.68 90.81,210.08 90.88,209.08 90.95,209.11 91.02,212.26 91.09,210.71 91.16,211.63 91.23,210.32 91.30,209.20 91.37,210.92 91.44,212.66 91.51,211.05 91.58,209.10 91.65,210.21 91.72,209.98 91.79,210.90 91.86,212.05 91.93,213.34 92.00,211.03 92.07,210.17 92.14,210.87 92.21,210.80 92.28,210.57 92.35,210.84 92.42,210.82 92.49,209.26 92.56,211.58 92.63,210.38 92.70,209.56 92.77,211.54 92.84,210.25 92.91,213.23 92.98,211.56 93.05,211.04 93.12,209.94 93.19,210.42 93.26,212.10 93.33,210.07 93.40,212.00 93.47,208.21 93.54,211.28 93.61,212.11 93.68,211.49 93.75,211.05 93.82,212.41 93.89,209.94 93.96,209.79 94.03,211.24 94.10,212.91 94.17,211.69 94.24,210.86 94.31,211.52 94.38,214.10 94.45,209.49 94.52,207.42 94.59,209.79 94.66,209.17 94.73,210.39 94.80,209.57 94.87,211.40 94.94,211.75 95.01,209.08 95.08,211.81 95.15,216.46 95.22,210.60 95.29,210.71 95.36,212.90 95.43,209.76 95.50,209.09 95.57,209.52 95.64,211.70 95.71,212.06 95.78,212.12 95.85,212.48 95.92,208.41 95.99,211.20 96.06,209.84 96.13,213.09 96.20,209.28 96.27,210.73 96.34,212.22 96.41,212.74 96.48,209.84 96.55,212.46 96.62,212.62 96.69,212.79 96.76,210.33 96.83,212.98 96.90,210.90 96.97,211.25 97.04,210.98 97.11,211.76 97.18,211.80 97.25,212.62 97.32,214.48 97.39,211.01 97.46,212.30 97.53,210.93 97.60,212.53 97.67,211.68 97.74,212.04 97.81,209.78 97.88,210.52 97.95,211.85 98.02,213.47 98.09,212.56 98.16,209.98 98.23,210.91 98.30,211.60 98.37,211.38 98.44,213.33 98.51,212.82 98.58,211.79 98.65,213.70 98.72,208.98 98.79,211.05 98.86,209.29 98.93,211.27 99.00,211.89 99.07,210.70 99.14,211.28 99.21,209.47 99.28,213.93 99.35,212.03 99.42,208.97 99.49,212.01 99.56,211.97 99.63,211.16 99.70,210.93 99.77,212.20 99.84,212.29 99.91,211.99 99.98,210.13 100.05,211.09 100.12,209.37 100.19,209.29 100.26,210.66 100.33,210.00 100.40,210.83 100.47,214.58 100.54,211.99 100.61,210.18 100.68,208.52 100.75,210.22 100.82,209.44 100.89,208.44 100.96,212.22 101.03,210.65 101.10,211.83 101.17,215.25 101.24,211.60 101.31,211.40 101.38,211.69 101.45,210.89 101.52,210.17 101.59,210.95 101.66,212.70 101.73,210.87 101.80,209.45 101.87,209.61 101.94,209.89 102.01,211.22 102.08,211.82 102.15,211.82 102.22,212.73 102.29,210.95 102.36,212.28 102.43,211.63 102.50,212.12 102.57,208.87 102.64,212.82 102.71,209.26 102.78,209.80 102.85,212.23 102.92,210.75 102.99,213.49 103.06,217.29 103.13,213.48 103.20,211.44 103.27,210.73 103.34,213.21 103.41,213.31 103.48,212.17 103.55,212.53 103.62,211.33 103.69,212.55 103.76,210.21 103.83,210.21 103.90,212.29 103.97,212.14 104.04,210.91 104.11,210.86 104.18,208.73 104.25,212.68 104.32,214.35 104.39,209.38 104.46,209.76 104.53,210.05 104.60,213.31 104.67,212.03 104.74,209.48 104.81,214.61 104.88,212.83 104.95,209.82 105.02,208.89 105.09,212.35 105.16,210.38 105.23,210.96 105.30,210.47 105.37,212.70 105.44,212.97 105.51,212.13 105.58,210.92 105.65,208.93 105.72,211.87 105.79,209.13 105.86,212.64 105.93,210.69 106.00,211.41 106.07,211.25 106.14,212.20 106.21,212.40 106.28,213.81 106.35,210.62 106.42,209.94 106.49,211.23 106.56,210.25 106.63,212.12 106.70,210.05 106.77,206.79 106.84,212.21 106.91,212.29 106.98,211.29 107.05,212.78 107.12,212.62 107.19,208.93 107.26,211.47 107.33,211.24 107.40,210.65 107.47,210.23 107.54,211.06 107.61,211.48 107.68,211.34 107.75,212.67 107.82,212.21 107.89,210.27 107.96,210.06 108.03,212.02 108.10,209.15 108.17,211.18 108.24,211.55 108.31,212.22 108.38,211.59 108.45,212.72 108.52,210.39 108.59,211.76 108.66,210.14 108.73,211.16 108.80,211.08 108.87,209.80 108.94,204.50 109.01,212.08 109.08,211.35 109.15,211.08 109.22,210.06 109.29,210.50 109.36,211.45 109.43,210.91 109.50,214.56 109.57,211.02 109.64,209.88 109.71,211.61 109.78,210.10 109.85,213.14 109.92,208.67 109.99,210.42 110.06,211.52 110.13,210.06 110.20,210.81 110.27,211.56 110.34,210.93 110.41,212.99 110.48,210.54 110.55,214.20 110.62,210.67 110.69,208.50 110.76,209.03 110.83,211.50 110.90,210.48 110.97,212.53 111.04,210.78 111.11,211.19 111.18,208.62 111.25,211.21 111.32,212.79 111.39,209.63 111.46,211.41 111.53,211.70 111.60,211.56 111.67,212.27 111.74,214.52 111.81,210.96 111.88,210.26 111.95,212.09 112.02,210.99 112.09,212.07 112.16,212.95 112.23,212.65 112.30,209.90 112.37,210.67 112.44,211.91 112.51,210.71 112.58,212.38 112.65,211.05 112.72,211.17 112.79,210.28 112.86,210.90 112.93,212.31 113.00,210.63 113.07,210.64 113.14,210.12 113.21,211.94 113.28,207.13 113.35,211.64 113.42,212.09 113.49,211.92 113.56,210.77 113.63,212.15 113.70,208.71 113.77,211.91 113.84,211.37 113.91,209.61 113.98,208.96 114.05,210.45 114.12,207.90 114.19,211.47 114.20,211.17 114.26,211.93 114.33,211.85 114.40,207.10 114.47,210.60 114.54,210.46 114.61,212.24 114.68,210.48 114.75,212.22 114.82,209.72 114.89,213.26 114.96,211.01 115.03,211.07 115.10,210.94 115.17,207.97 115.24,213.87 115.31,210.50 115.38,210.07 115.45,210.85 115.52,211.85 115.59,209.95 115.66,212.00 115.73,211.96 115.80,210.90 115.87,210.80 115.94,211.46 116.01,210.78 116.08,210.18 116.15,212.51 116.22,211.13 116.29,210.78 116.36,211.05 116.43,207.88 116.50,210.50 116.57,211.49 116.60,211.42 116.64,211.25 116.71,212.07 116.78,211.21 116.85,210.67 116.92,212.58 116.99,208.95 117.06,209.81 117.13,210.29 117.20,210.30 117.27,210.25 117.34,213.41 117.41,210.32 117.48,208.28 117.55,211.79 117.62,211.16 117.69,211.28 117.76,210.08 117.83,209.86 117.90,210.80 117.97,212.17 118.04,211.56 118.11,212.35 118.18,212.25 118.25,212.40 118.32,208.21 118.39,212.53 118.46,211.99 118.53,213.46 118.60,209.31 118.67,211.52 118.74,211.02 118.81,211.35 118.88,209.34 118.95,210.89 119.02,211.13 119.09,212.27 119.16,210.45 119.23,211.33 119.30,213.20 119.37,210.60 119.44,212.12 119.51,210.61 119.58,211.09 119.65,210.14 119.72,212.17 119.79,213.23 119.86,210.09 119.93,212.87 120.00,211.42 120.07,212.10 120.14,212.24 120.21,212.09 120.28,210.99 120.35,211.15 120.42,209.62 120.49,211.52 120.56,210.83 120.60,211.33 120.63,209.88 120.70,212.12 120.77,211.45 120.84,209.94 120.91,212.21 120.98,213.08 121.05,209.97 121.12,215.85 121.19,210.93 121.26,211.34 121.33,211.13 121.40,209.81 121.47,211.00 121.54,209.83 121.61,213.07 121.68,212.71 121.75,211.66 121.82,211.93 121.89,211.71 121.96,211.88 122.03,211.89 122.10,211.44 122.17,211.53 122.24,211.63 122.31,210.68 122.38,210.45 122.45,212.00 122.52,211.40 122.59,212.78 122.66,210.39 122.73,211.46 122.80,212.31 122.87,212.96 122.94,213.84 123.01,212.93 123.08,211.30 123.15,207.73 123.22,213.06 123.29,212.24 123.36,217.85 123.43,211.93 123.50,215.44 123.57,212.61 123.64,213.23 123.71,212.24 123.78,210.41 123.85,210.70 123.92,212.47 123.99,212.82 124.06,206.01 124.13,211.68 124.20,213.39 124.27,213.20 124.34,211.71 124.41,212.90 124.48,212.29 124.55,212.05 124.62,213.45 124.69,213.48 124.76,211.79 124.83,211.37 124.90,211.01 124.97,210.91 125.04,213.76 125.11,214.33 125.18,212.64 125.25,213.52 125.32,211.76 125.39,212.47 125.46,213.43 125.53,212.83 125.60,212.49 125.67,210.85 125.70,211.07 125.74,212.14 125.81,212.01 125.88,212.52 125.95,211.96 126.02,212.40 126.09,212.70 126.16,213.18 126.23,212.74 126.30,212.13 126.37,212.42 126.44,213.63 126.51,212.53 126.58,211.77 126.65,211.75 126.72,213.07 126.79,213.36 126.86,214.04 126.93,211.18 127.00,214.23 127.07,212.51 127.14,212.64 127.21,212.32 127.28,213.43 127.35,213.97 127.42,212.91 127.49,212.45 127.56,211.43 127.63,213.13 127.70,212.66 127.77,212.81 127.84,212.40 127.91,212.18 127.98,212.63 128.05,213.52 128.12,214.04 128.19,213.10 128.26,213.44 128.33,212.94 128.40,213.03 128.47,211.82 128.54,214.06 128.61,213.79 128.68,214.65 128.75,215.26 128.82,213.38 128.89,212.36 128.96,213.52 129.03,213.18 129.10,213.98 129.17,213.19 129.24,213.98 129.31,212.88 129.38,213.92 129.45,213.10 129.52,212.99 129.59,213.51 129.66,213.80 129.73,212.09 129.80,212.00 129.87,213.68 129.94,213.45 130.01,211.55 130.08,211.88 130.15,212.79 130.22,213.86 130.29,213.75 130.36,214.53 130.43,214.70 130.50,215.86 130.57,212.19 130.64,213.55 130.71,214.62 130.78,212.39 130.85,212.25 130.92,213.81 130.99,216.38 131.06,214.83 131.13,211.93 131.20,212.48 131.27,213.56 131.34,213.15 131.41,213.98 131.48,213.80 131.55,215.37 131.62,213.63 131.69,213.87 131.76,213.78 131.83,214.77 131.90,212.66 131.97,214.09 132.04,213.00 132.11,212.39 132.18,214.87 132.25,214.26 132.32,215.09 132.39,214.02 132.46,214.40 132.53,213.92 132.60,214.34 132.67,213.42 132.74,215.43 132.81,212.98 132.88,214.23 132.95,213.65 133.02,214.67 133.09,213.98 133.16,214.28 133.23,215.27 133.30,214.01 133.37,213.00 133.44,214.12 133.51,214.51 133.58,211.25 133.65,214.83 133.72,214.95 133.79,212.27 133.86,213.79 133.93,214.72 134.00,212.86 134.07,213.56 134.14,213.65 134.21,214.50 134.28,215.02 134.35,213.96 134.42,214.05 134.49,214.87 134.56,214.52 134.63,213.91 134.70,214.52 134.77,212.70 134.84,214.18 134.91,213.65 134.98,213.58 135.05,214.24 135.12,214.10 135.19,217.95 135.26,214.67 135.33,214.41 135.40,215.63 135.47,215.04 135.54,212.37 135.61,214.22 135.68,214.81 135.75,213.56 135.82,214.40 135.89,213.71 135.96,214.49 136.03,212.64 136.10,212.35 136.17,213.65 136.24,214.37 136.31,215.40 136.38,213.92 136.45,213.49 136.52,215.03 136.59,214.23 136.66,215.86 136.73,214.13 136.80,212.42 136.87,213.49 136.94,213.35 137.01,212.95 137.08,213.53 137.15,213.61 137.22,213.99 137.29,213.75 137.36,214.64 137.43,214.65 137.50,212.40 137.57,214.46 137.64,212.57 137.71,212.77 137.78,213.50 137.85,214.54 137.92,212.98 137.99,213.94 138.06,214.55 138.13,216.93 138.20,214.58 138.27,213.86 138.34,215.34 138.41,214.55 138.48,214.10 138.55,215.38 138.62,213.55 138.69,214.56 138.76,214.46 138.83,215.21 138.90,213.37 138.97,213.24 139.04,214.06 139.11,214.17 139.18,214.46 139.25,214.09 139.32,214.82 139.39,215.06 139.46,214.65 139.53,213.51 139.60,214.29 139.67,213.09 139.74,214.29 139.81,215.27 139.88,213.93 139.95,215.72 140.02,216.20 140.09,215.91 140.16,216.77 140.23,215.39 140.30,214.06 140.37,214.89 140.44,214.94 140.51,216.08 140.58,214.69 140.65,214.37 140.72,213.25 140.79,214.93 140.86,214.06 140.93,217.99 141.00,217.90 141.07,214.66 141.14,215.38 141.21,215.16 141.28,214.61 141.35,214.29 141.42,212.87 141.49,214.75 141.56,216.08 141.63,213.01 141.70,213.83 141.77,215.33 141.84,214.85 141.91,215.05 141.98,213.06 142.05,214.18 142.12,215.15 142.19,215.23 142.26,216.45 142.33,213.95 142.40,215.20 142.47,213.70 142.54,213.93 142.61,213.74 142.68,216.02 142.75,214.41 142.82,214.82 142.89,212.87 142.96,213.99 143.03,215.20 143.10,213.36 143.17,213.41 143.24,216.25 143.31,214.00 143.38,216.42 143.45,214.43 143.52,212.69 143.59,215.81 143.66,215.29 143.73,215.45 143.80,214.43 143.87,214.69 143.94,215.71 144.01,214.18 144.08,213.20 144.15,215.68 144.22,214.38 144.29,215.53 144.36,214.51 144.43,214.56 144.50,214.72 144.57,212.92 144.64,217.55 144.71,214.42 144.78,214.80 144.85,216.22 144.92,215.08 144.99,215.75 145.06,215.28 145.13,215.66 145.20,215.24 145.27,216.00 145.34,214.84 145.40,215.42 145.41,214.43 145.48,216.04 145.55,213.19 145.62,215.21 145.69,215.36 145.76,215.36 145.83,215.07 145.90,216.21 145.97,216.88 146.04,214.59 146.11,213.69 146.18,214.19 146.25,214.43 146.32,215.01 146.39,215.08 146.46,216.04 146.53,214.78 146.60,215.12 146.67,213.53 146.74,214.43 146.81,214.90 146.88,217.49 146.95,215.11 147.02,214.39 147.09,215.17 147.16,216.07 147.23,214.07 147.30,214.69 147.37,217.26 147.44,216.43 147.51,213.81 147.58,214.96 147.65,216.08 147.72,215.95 147.79,214.34 147.86,216.75 147.93,216.81 148.00,214.37 148.07,213.83 148.14,214.15 148.21,215.86 148.28,216.20 148.35,215.47 148.42,214.84 148.49,215.26 148.56,215.80 148.63,214.35 148.70,213.96 148.77,215.29 148.84,216.38 148.91,215.53 148.98,215.54 149.05,214.84 149.12,216.15 149.19,214.00 149.26,215.35 149.33,214.93 149.40,215.29 149.47,214.67 149.54,216.04 149.61,215.38 149.68,214.96 149.75,215.87 149.82,215.42 149.89,215.04 149.96,214.99 150.03,216.11 150.10,214.72 150.17,215.31 150.24,215.28 150.31,215.76 150.38,215.36 150.45,217.26 150.52,214.40 150.59,216.01 150.66,215.52 150.73,216.44 150.80,212.94 150.87,216.54 150.94,214.47 151.01,215.06 151.08,216.00 151.15,215.62 151.22,215.02 151.29,214.96 151.36,215.70 151.43,215.03 151.50,214.08 151.57,213.38 151.64,216.29 151.71,216.32 151.78,215.80 151.85,215.72 151.92,215.99 151.99,216.09 152.06,215.42 152.13,215.09 152.20,215.15 152.27,214.83 152.34,215.86 152.41,214.97 152.48,215.64 152.55,216.80 152.62,215.48 152.69,216.55 152.76,217.48 152.83,214.37 152.90,214.69 152.97,216.19 153.04,215.28 153.11,216.26 153.18,216.40 153.25,215.46 153.32,216.51 153.39,217.01 153.46,216.63 153.53,215.21 153.60,215.79 153.67,215.49 153.74,217.14 153.81,215.78 153.88,215.40 153.95,215.98 154.02,216.35 154.09,215.67 154.16,216.05 154.23,215.98 154.30,216.56 154.37,216.75 154.44,216.22 154.51,215.66 154.58,216.34 154.65,215.35 154.72,216.87 154.79,216.71 154.86,216.25 154.93,214.39 155.00,217.89 155.07,217.20 155.14,217.07 155.21,216.20 155.28,216.63 155.35,218.30 155.42,215.61 155.49,216.71 155.56,216.61 155.63,216.27 155.70,216.44 155.77,215.44 155.84,216.69 155.91,215.21 155.98,217.60 156.05,216.02 156.12,215.82 156.19,214.67 156.26,216.33 156.33,216.65 156.40,215.52 156.47,217.54 156.54,217.25 156.61,215.95 156.68,215.26 156.75,216.23 156.82,216.18 156.89,216.82 156.96,217.21 157.03,214.70 157.10,216.71 157.17,217.43 157.24,217.65 157.31,216.20 157.38,216.86 157.45,216.02 157.52,216.75 157.59,216.46 157.66,215.61 157.73,216.88 157.80,216.50 157.87,216.99 157.94,215.48 158.01,215.23 158.08,217.32 158.15,216.22 158.22,216.01 158.29,216.53 158.36,216.49 158.43,217.12 158.50,215.99 158.57,215.68 158.64,216.35 158.71,217.92 158.78,216.26 158.85,215.82 158.92,215.88 158.99,216.68 159.06,217.42 159.13,216.04 159.20,218.36 159.27,216.74 159.34,216.93 159.41,216.70 159.48,217.41 159.55,217.11 159.62,216.18 159.69,218.38 159.76,215.65 159.83,215.43 159.90,217.40 159.97,216.79 160.04,216.49 160.11,216.82 160.18,217.17 160.25,216.38 160.32,216.24 160.39,216.85 160.46,216.09 160.53,216.15 160.60,217.54 160.67,216.93 160.74,217.17 160.81,216.35 160.88,217.50 160.95,215.65 161.02,217.11 161.09,217.27 161.16,216.37 161.23,216.06 161.30,217.50 161.37,216.30 161.44,216.18 161.51,216.81 161.58,216.19 161.65,216.59 161.72,218.27 161.79,216.54 161.86,217.50 161.93,216.13 162.00,216.93 162.07,216.69 162.14,216.77 162.21,217.43 162.28,218.41 162.35,216.83 162.42,217.83 162.49,217.17 162.56,217.45 162.63,216.62 162.70,216.46 162.77,216.82 162.84,216.43 162.91,216.97 162.98,216.25 163.05,217.00 163.12,217.12 163.19,220.67 163.26,218.21 163.33,217.42 163.40,216.69 163.47,217.46 163.54,217.61 163.61,216.92 163.68,216.48 163.75,215.84 163.82,214.92 163.89,218.40 163.96,216.95 164.03,217.37 164.10,217.36 164.17,217.45 164.24,217.66 164.31,215.77 164.38,217.04 164.45,217.41 164.52,217.10 164.59,217.99 164.66,216.93 164.73,217.81 164.80,219.00 164.87,217.03 164.94,217.23 165.01,217.02 165.08,217.74 165.15,215.78 165.22,216.24 165.29,217.03 165.36,217.82 165.43,217.63 165.50,216.80 165.57,218.32 165.64,217.32 165.71,216.83 165.78,217.61 165.85,218.13 165.92,217.21 165.99,216.25 166.06,216.90 166.13,217.33 166.20,217.89 166.27,216.60 166.34,215.35 166.41,216.49 166.48,217.33 166.55,216.40 166.62,216.98 166.69,216.28 166.76,216.64 166.83,216.24 166.90,217.26 166.97,218.10 167.04,218.07 167.11,217.61 167.18,217.07 167.25,218.27 167.32,217.12 167.39,217.59 167.46,218.06 167.53,217.07 167.60,218.28 167.67,217.23 167.74,217.22 167.81,217.41 167.88,216.58 167.95,216.63 168.02,217.84 168.09,216.22 168.16,218.85 168.23,217.52 168.30,218.11 168.37,217.84 168.44,217.74 168.51,218.48 168.58,217.31 168.65,217.29 168.72,218.09 168.79,216.94 168.86,218.09 168.93,217.81 169.00,217.16 169.07,216.56 169.14,216.08 169.21,218.57 169.28,216.43 169.35,216.61 169.42,219.77 169.49,217.68 169.56,217.52 169.63,217.44 169.70,216.94 169.77,216.80 169.84,218.55 169.91,217.77 169.98,218.07 170.05,218.14 170.12,217.37 170.19,215.98 170.26,217.72 170.33,217.30 170.40,215.71 170.47,218.28 170.54,215.34 170.61,217.37 170.68,217.54 170.75,217.49 170.82,217.57 170.89,217.49 170.96,217.44 171.03,217.79 171.10,217.65 171.17,218.96 171.24,217.52 171.31,217.12 171.38,217.07 171.45,217.69 171.52,217.53 171.59,217.61 171.66,217.92 171.73,217.35 171.80,217.94 171.87,218.33 171.94,217.69 172.01,217.40 172.08,216.74 172.15,217.84 172.22,217.50 172.29,217.32 172.36,217.77 172.43,216.77 172.50,217.72 172.57,216.25 172.64,216.72 172.71,216.98 172.78,217.85 172.85,216.09 172.92,216.88 172.99,217.65 173.06,217.41 173.13,218.06 173.20,219.98 173.27,217.61 173.34,217.36 173.41,217.89 173.48,217.02 173.55,216.52 173.62,218.05 173.69,217.18 173.76,217.51 173.83,218.35 173.90,218.12 173.97,215.76 174.04,216.83 174.11,218.26 174.18,216.42 174.25,217.79 174.32,217.27 174.39,216.93 174.46,216.91 174.53,216.81 174.60,217.76 174.67,218.24 174.74,216.61 174.81,217.09 174.88,218.26 174.95,218.61 175.02,217.19 175.09,218.42 175.16,216.46 175.23,217.35 175.30,217.58 175.37,217.32 175.44,218.03 175.51,216.91 175.58,217.56 175.65,217.04 175.72,217.92 175.79,218.19 175.86,217.07 175.93,216.85 176.00,217.51 176.07,217.00 176.14,217.19 176.21,217.82 176.28,217.26 176.35,218.69 176.42,217.60 176.49,217.23 176.56,216.85 176.63,217.23 176.70,218.26 176.77,217.91 176.84,218.47 176.91,218.39 176.98,217.92 177.05,217.13 177.12,217.48 177.19,216.34 177.26,216.54 177.33,219.71 177.40,216.93 177.47,217.53 177.54,217.26 177.61,217.96 177.68,219.25 177.75,216.84 177.82,217.59 177.89,218.89 177.96,215.93 178.03,217.46 178.10,217.54 178.17,217.81 178.24,216.60 178.31,217.81 178.38,218.00 178.45,219.22 178.52,217.57 178.59,217.26 178.66,217.71 178.70,215.99 178.73,217.84 178.80,218.61 178.87,217.62 178.94,218.80 179.01,217.49 179.08,217.73 179.15,216.87 179.22,218.62 179.29,217.36 179.36,217.37 179.43,218.70 179.50,217.68 179.57,217.40 179.64,218.71 179.71,217.79 179.78,218.27 179.85,216.22 179.92,216.57 179.99,217.79 180.06,218.59 180.13,217.40 180.20,218.75 180.27,218.15 180.34,217.86 180.41,217.75 180.48,218.19 180.55,217.84 180.62,217.38 180.69,218.38 180.70,218.22 180.76,217.95 180.83,218.17 180.90,216.07 180.97,217.89 181.04,217.75 181.11,216.48 181.18,219.03 181.25,217.96 181.32,217.46 181.39,217.50 181.46,218.24 181.53,217.73 181.60,216.74 181.67,217.50 181.74,216.66 181.81,218.14 181.88,218.30 181.95,217.09 182.02,217.37 182.09,218.00 182.16,217.84 182.23,217.91 182.30,217.25 182.37,218.15 182.44,217.82 182.51,218.15 182.58,216.88 182.65,217.30 182.72,217.03 182.79,217.83 182.86,217.42 182.93,216.87 183.00,217.46 183.07,218.31 183.14,218.59 183.21,218.30 183.28,218.67 183.35,217.59 183.42,217.73 183.49,217.23 183.56,217.35 183.63,218.85 183.70,218.08 183.77,218.25 183.84,219.48 183.91,219.06 183.98,217.31 184.05,218.47 184.12,217.38 184.19,218.48 184.26,216.68 184.33,217.28 184.40,217.29 184.47,219.13 184.54,216.76 184.61,218.57 184.68,218.55 184.75,217.95 184.82,220.16 184.89,219.50 184.96,218.04 185.03,217.71 185.10,218.74 185.17,218.38 185.24,217.17 185.31,218.01 185.38,218.08 185.45,217.18 185.52,217.30 185.59,217.49 185.66,217.15 185.73,218.23 185.80,218.10 185.87,216.51 185.94,217.65 186.01,218.01 186.08,217.06 186.15,217.74 186.22,216.89 186.29,216.85 186.36,217.72 186.43,216.62 186.50,218.39 186.57,216.67 186.64,217.00 186.71,216.75 186.78,216.88 186.85,218.72 186.92,217.39 186.99,217.56 187.06,217.67 187.13,216.97 187.20,217.52 187.27,216.34 187.34,218.48 187.41,217.44 187.48,217.95 187.55,218.11 187.62,218.45 187.69,217.14 187.76,218.31 187.83,217.89 187.90,217.83 187.97,217.75 188.04,218.63 188.11,218.23 188.18,218.74 188.25,218.51 188.32,216.68 188.39,217.87 188.46,217.75 188.53,217.37 188.60,216.88 188.67,216.49 188.74,219.20 188.81,217.36 188.88,218.06 188.95,217.27 189.02,219.73 189.09,219.00 189.16,217.04 189.23,217.92 189.30,217.48 189.37,216.77 189.44,217.40 189.51,217.98 189.58,218.45 189.65,218.78 189.72,217.96 189.79,216.93 189.86,218.40 189.93,217.98 190.00,217.97 190.07,217.26 190.14,217.89 190.21,219.09 190.28,218.94 190.35,218.80 190.42,218.42 190.49,217.75 190.56,218.00 190.63,218.10 190.70,218.26 190.77,217.21 190.84,217.46 190.91,218.72 190.98,217.78 191.05,218.55 191.12,218.78 191.19,218.45 191.26,218.35 191.33,218.50 191.40,218.47 191.47,217.43 191.54,217.18 191.61,218.01 191.68,219.09 191.75,217.52 191.82,217.46 191.89,219.49 191.96,217.07 192.03,217.69 192.10,217.79 192.17,217.63 192.24,217.65 192.31,218.29 192.38,218.19 192.45,218.18 192.52,216.00 192.59,220.44 192.66,218.17 192.73,217.72 192.80,218.60 192.87,217.02 192.94,218.06 193.01,217.64 193.08,217.64 193.15,217.51 193.22,217.23 193.29,218.70 193.36,217.68 193.43,218.21 193.50,218.80 193.57,217.20 193.64,217.88 193.71,218.21 193.78,218.61 193.85,217.29 193.92,218.01 193.99,219.79 194.06,218.08 194.13,219.24 194.20,218.60 194.27,219.23 194.34,218.96 194.41,218.27 194.48,217.35 194.55,219.04 194.62,214.94 194.69,218.44 194.76,218.69 194.83,217.64 194.90,218.23 194.97,218.14 195.04,217.21 195.11,216.72 195.18,218.07 195.25,216.76 195.32,218.62 195.39,218.64 195.46,218.11 195.53,218.34 195.60,217.02 195.67,220.40 195.74,218.64 195.81,218.49 195.88,218.75 195.95,218.13 196.02,219.43 196.09,218.45 196.16,218.68 196.23,218.86 196.30,217.63 196.37,217.48 196.44,218.68 196.51,217.40 196.58,217.81 196.65,218.81 196.72,217.51 196.79,217.58 196.86,217.42 196.93,217.54 197.00,219.38 197.07,218.55 197.14,218.81 197.21,217.56 197.28,216.70 197.35,217.49 197.42,218.87 197.49,218.95 197.56,216.97 197.63,217.12 197.70,218.63 197.77,218.38 197.84,218.50 197.91,218.64 197.98,217.59 198.05,218.31 198.12,218.05 198.19,219.00 198.26,218.04 198.33,217.05 198.40,219.03 198.47,219.37 198.54,218.85 198.61,218.03 198.68,217.65 198.75,218.88 198.82,217.91 198.89,218.58 198.96,218.74 199.03,218.17 199.10,215.21 199.17,218.57 199.24,217.63 199.31,217.28 199.38,218.23 199.45,218.35 199.52,218.21 199.59,218.66 199.66,217.07 199.73,218.64 199.80,219.30 199.87,218.22 199.94,217.96 200.01,218.17 200.08,219.05 200.15,218.16 200.22,217.78 200.29,217.22 200.36,219.17 200.43,219.18 200.50,218.29 200.57,220.82 200.64,218.04 200.71,218.74 200.78,217.47 200.85,217.66 200.92,218.28 200.99,218.59 201.06,218.68 201.13,217.73 201.20,217.96 201.27,218.77 201.34,218.12 201.41,218.13 201.48,217.96 201.55,219.02 201.62,217.14 201.69,219.12 201.76,218.41 201.83,218.50 201.90,218.51 201.97,218.88 202.04,218.51 202.11,217.34 202.18,218.84 202.25,219.65 202.32,218.54 202.39,218.44 202.46,217.34 202.53,219.90 202.60,218.15 202.67,217.89 202.74,219.57 202.81,218.26 202.88,218.08 202.95,219.40 203.02,218.29 203.09,218.22 203.16,217.06 203.23,218.68 203.30,218.93 203.37,219.50 203.44,217.19 203.51,218.96 203.58,219.19 203.65,218.76 203.72,218.31 203.79,219.00 203.86,218.43 203.93,217.96 204.00,217.22 204.07,218.69 204.14,218.24 204.21,218.17 204.28,219.54 204.35,217.18 204.42,217.02 204.49,216.93 204.56,218.64 204.63,218.18 204.70,217.84 204.77,216.99 204.84,217.79 204.91,217.61 204.98,218.24 205.05,217.77 205.12,217.76 205.19,218.28 205.26,217.81 205.33,219.18 205.40,216.18 205.47,217.53 205.54,219.06 205.61,218.43 205.68,217.62 205.75,218.18 205.82,217.94 205.89,218.07 205.96,219.19 206.03,218.04 206.10,218.43 206.17,217.77 206.24,217.84 206.31,217.34 206.38,217.89 206.45,218.04 206.52,218.11 206.59,218.33 206.66,218.36 206.73,218.71 206.80,218.17 206.87,219.12 206.94,218.68 207.01,219.16 207.08,218.27 207.15,219.06 207.22,218.36 207.29,217.28 207.36,218.53 207.43,218.20 207.50,217.40 207.57,217.69 207.64,217.93 207.71,219.72 207.78,218.50 207.85,219.43 207.92,218.89 207.99,218.98 208.06,218.82 208.13,217.39 208.20,219.09 208.27,217.69 208.34,218.59 208.41,218.25 208.48,219.32 208.55,219.06 208.62,219.45 208.69,218.62 208.76,218.20 208.83,218.80 208.90,219.80 208.97,218.65 209.04,218.35 209.11,217.57 209.18,217.87 209.25,218.27 209.32,218.74 209.39,218.71 209.46,218.27 209.53,218.41 209.60,219.27 209.67,219.47 209.74,219.07 209.81,219.27 209.88,219.29 209.95,219.46 210.02,217.56 210.09,218.02 210.16,218.48 210.23,218.57 210.30,219.16 210.37,216.47 210.44,218.43 210.51,218.50 210.58,217.92 210.65,218.25 210.72,218.95 210.79,218.62 210.86,218.26 210.93,218.47 211.00,218.26 211.07,218.92 211.14,218.28 211.21,218.95 211.28,218.87 211.35,218.32 211.42,217.66 211.49,218.22 211.56,218.86 211.63,217.72 211.70,218.13 211.77,218.41 211.84,218.13 211.91,218.86 211.98,217.59 212.05,218.88 212.12,219.16 212.19,219.37 212.26,218.31 212.33,217.86 212.40,217.38 212.47,218.77 212.54,218.86 212.61,218.53 212.68,218.57 212.75,218.77 212.82,218.13 212.89,217.45 212.96,217.48 213.03,217.87 213.10,217.79 213.17,217.38 213.24,218.09 213.31,217.72 213.38,218.76 213.45,218.31 213.52,218.85 213.59,217.54 213.66,217.68 213.73,216.10 213.80,218.54 213.87,220.27 213.94,218.50 214.01,218.09 214.08,218.32 214.15,218.34 214.22,218.95 214.29,218.36 214.36,217.82 214.43,217.20 214.50,218.58 214.57,218.98 214.64,218.45 214.71,217.82 214.78,218.10 214.85,218.17 214.92,218.72 214.99,218.33 215.06,219.08 215.13,218.24 215.20,217.97 215.27,219.50 215.34,217.75 215.41,217.88 215.48,219.65 215.55,218.54 215.62,219.46 215.69,216.83 215.76,219.14 215.83,217.42 215.90,218.43 215.97,217.75 216.04,216.09 216.11,218.10 216.18,218.64 216.25,220.35 216.32,217.91 216.39,219.82 216.46,218.76 216.53,219.00 216.60,217.78 216.67,218.75 216.74,217.84 216.81,217.63 216.88,219.16 216.95,217.94 217.02,218.06 217.09,219.48 217.16,217.33 217.23,217.60 217.30,218.51 217.37,218.54 217.44,219.30 217.51,217.68 217.58,218.81 217.65,218.28 217.72,218.10 217.79,218.27 217.86,218.38 217.93,220.27 218.00,217.56 218.07,218.80 218.14,217.72 218.21,217.77 218.28,218.86 218.35,218.04 218.42,218.12 218.49,217.51 218.56,217.61 218.63,217.52 218.70,217.52 218.77,219.13 218.84,218.42 218.91,216.94 218.98,217.68 219.05,218.79 219.12,217.64 219.19,218.32 219.26,217.77 219.33,217.27 219.40,218.07 219.47,217.71 219.54,218.45 219.61,218.77 219.68,218.30 219.75,219.96 219.82,217.86 219.89,219.16 219.96,218.60 220.03,219.20 220.10,218.67 220.17,216.96 220.24,218.16 220.31,218.97 220.38,218.35 220.45,217.53 220.52,218.00 220.59,220.10 220.66,219.09 220.73,217.97 220.80,218.40 220.87,217.76 220.94,217.60 221.01,218.01 221.08,219.16 221.15,218.77 221.22,218.16 221.29,218.31 221.36,217.41 221.43,218.25 221.50,217.32 221.57,218.14 221.64,218.41 221.71,218.08 221.78,218.80 221.85,217.18 221.92,217.86 221.99,219.09 222.06,218.68 222.13,217.75 222.20,216.67 222.27,218.51 222.34,218.25 222.41,217.90 222.48,218.11 222.55,217.75 222.62,218.34 222.69,218.58 222.76,218.84 222.83,219.69 222.90,219.09 222.97,218.63 223.04,219.95 223.11,219.72 223.18,219.66 223.25,218.22 223.32,219.15 223.39,218.63 223.46,218.22 223.53,218.65 223.60,219.58 223.67,218.48 223.74,218.63 223.81,217.88 223.88,218.13 223.95,218.96 224.02,218.37 224.09,218.50 224.16,219.10 224.23,218.23 224.30,219.38 224.37,218.04 224.44,217.64 224.51,217.95 224.58,217.53 224.65,218.77 224.72,218.45 224.79,219.27 224.86,217.99 224.93,218.77 225.00,219.24 225.07,218.29 225.14,217.32 225.21,216.91 225.28,219.60 225.35,218.35 225.42,218.84 225.49,218.11 225.56,218.63 225.63,217.72 225.70,218.87 225.77,218.48 225.84,218.20 225.91,218.68 225.98,217.33 226.05,218.52 226.12,218.15 226.19,219.29 226.26,218.88 226.33,218.30 226.40,218.23 226.47,220.22 226.54,217.81 226.61,219.56 226.68,218.97 226.75,218.88 226.82,217.25 226.89,218.91 226.96,218.10 227.03,219.28 227.10,218.77 227.17,217.97 227.24,218.75 227.31,217.83 227.38,218.76 227.45,218.67 227.52,217.89 227.59,217.82 227.66,217.99 227.73,218.07 227.80,218.03 227.87,219.51 227.94,218.64 228.01,219.61 228.08,218.19 228.15,217.90 228.22,218.55 228.29,218.35 228.36,217.97 228.43,217.97 228.50,218.14 228.57,217.75 228.64,218.45 228.71,217.83 228.78,218.71 228.85,218.19 228.92,218.71 228.99,218.04 229.06,217.26 229.13,217.59 229.20,218.22 229.27,218.63 229.34,218.64 229.41,218.71 229.48,218.81 229.55,218.62 229.62,218.67 229.69,218.27 229.76,218.74 229.83,218.34 229.90,218.36 229.97,218.31 230.04,219.79 230.11,217.52 230.18,218.12 230.25,218.25 230.32,218.67 230.39,218.42 230.46,219.40 230.53,217.44 230.60,219.51 230.67,217.66 230.74,217.99 230.81,218.76 230.88,218.47 230.95,218.41 231.02,218.47 231.09,218.66 231.16,219.00 231.23,218.67 231.30,217.67 231.37,217.98 231.44,219.25 231.51,219.58 231.58,218.99 231.65,219.07 231.72,218.61 231.79,219.67 231.86,218.08 231.93,218.22 232.00,217.93 232.07,218.75 232.14,218.11 232.21,218.73 232.28,217.60 232.35,217.55 232.42,219.02 232.49,219.96 232.56,218.94 232.63,218.56 232.70,218.26 232.77,218.19 232.84,217.57 232.91,218.21 232.98,219.24 233.05,218.34 233.12,217.65 233.19,219.76 233.26,217.85 233.33,217.75 233.40,218.37 233.47,217.98 233.54,217.68 233.61,219.35 233.68,219.47 233.75,218.52 233.82,219.32 233.89,218.16 233.96,218.42 234.03,219.22 234.10,218.61 234.17,218.93 234.24,216.78 234.31,218.61 234.38,218.18 234.45,218.44 234.52,217.52 234.59,217.97 234.66,217.86 234.73,219.04 234.80,218.89 234.87,218.94 234.94,219.09 235.01,218.66 235.08,219.29 235.15,218.09 235.22,218.04 235.29,217.85 235.36,217.83 235.43,218.38 235.50,217.06 235.57,217.69 235.64,217.95 235.71,218.75 235.78,219.08 235.85,218.40 235.92,218.41 235.99,218.14 236.06,218.21 236.13,219.84 236.20,218.04 236.27,218.42 236.34,218.69 236.41,217.82 236.48,218.24 236.55,219.34 236.62,219.15 236.69,218.23 236.76,218.58 236.83,217.90 236.90,217.91 236.97,218.64 237.04,219.31 237.11,219.32 237.18,218.58 237.25,218.24 237.32,218.08 237.39,218.73 237.46,219.32 237.53,218.90 237.60,218.40 237.67,218.65 237.74,218.17 237.81,219.69 237.88,219.16 237.95,218.53 238.02,217.96 238.09,218.82 238.16,218.94 238.23,217.81 238.30,218.53 238.37,219.71 238.44,218.60 238.51,218.25 238.58,218.84 238.65,219.58 238.72,218.23 238.79,218.24 238.86,218.35 238.93,218.54 239.00,219.21 239.07,218.70 239.14,217.18 239.21,218.76 239.28,218.75 239.35,218.89 239.42,218.67 239.49,218.07 239.56,217.98 239.63,218.11 239.70,217.51 239.77,217.98 239.84,217.85 239.91,219.51 239.98,218.44 240.05,219.43 240.12,217.70 240.19,217.78 240.26,218.75 240.33,217.48 240.40,218.11 240.47,217.34 240.54,218.74 240.61,217.46 240.68,218.41 240.75,217.43 240.82,218.77 240.89,219.12 240.96,218.55 241.03,217.89 241.10,218.73 241.17,219.06 241.24,218.93 241.31,219.23 241.38,219.61 241.45,217.97 241.52,218.32 241.59,218.10 241.66,218.47 241.73,218.34 241.80,218.16 241.87,218.68 241.94,219.66 242.01,218.00 242.08,218.19 242.15,218.26 242.22,217.86 242.29,219.10 242.36,218.38 242.43,218.83 242.50,217.51 242.57,218.80 242.64,218.39 242.71,217.60 242.78,218.98 242.85,219.03 242.92,218.60 242.99,218.75 243.06,217.91 243.13,219.08 243.20,218.33 243.27,218.76 243.34,219.08 243.41,218.76 243.48,216.74 243.55,218.64 243.62,218.56 243.69,219.18 243.76,218.03 243.83,219.05 243.90,218.76 243.97,218.51 244.04,219.60 244.11,218.96 244.18,218.15 244.25,218.66 244.32,217.92 244.39,217.79 244.46,218.18 244.53,218.19 244.60,219.50 244.67,218.96 244.74,217.04 244.81,218.39 244.88,218.06 244.95,218.40 245.02,217.55 245.09,218.48 245.16,218.73 245.23,218.02 245.30,219.32 245.37,218.40 245.44,219.22 245.51,218.42 245.58,217.29 245.65,217.91 245.72,219.14 245.79,218.66 245.86,218.51 245.93,218.71 246.00,218.76 246.07,217.57 246.14,218.59 246.21,217.89 246.28,218.98 246.35,218.59 246.42,218.09 246.49,218.06 246.56,218.46 246.63,217.12 246.70,218.38 246.77,219.42 246.84,217.65 246.91,217.77 246.98,217.81 247.05,218.75 247.12,218.04 247.19,219.60 247.26,218.53 247.33,218.18 247.40,217.83 247.47,218.89 247.54,218.78 247.61,218.59 247.68,219.27 247.75,219.23 247.82,218.71 247.89,218.53 247.96,218.17 248.03,218.63 248.10,218.29 248.17,219.26 248.24,218.95 248.31,218.40 248.38,218.27 248.45,218.75 248.52,219.13 248.59,218.67 248.66,219.11 248.73,218.24 248.80,218.64 248.87,218.90 248.94,218.63 249.01,218.74 249.08,219.12 249.15,218.52 249.22,219.11 249.29,218.22 249.36,218.82 249.43,218.27 249.50,218.30 249.57,218.89 249.64,219.29 249.71,218.46 249.78,218.60 249.85,219.33 249.92,218.07 249.99,219.09 250.06,217.86 250.13,217.43 250.20,218.76 250.27,218.38 250.34,218.25 250.41,217.13 250.48,218.77 250.55,218.28 250.62,217.85 250.69,218.48 250.76,217.84 250.83,218.09 250.90,217.57 250.97,219.12 251.04,218.86 251.11,219.31 251.18,216.42 251.25,217.83 251.32,219.58 251.39,217.72 251.46,219.26 251.53,216.46 251.60,218.96 251.67,218.10 251.74,219.43 251.81,219.71 251.88,219.16 251.95,218.75 252.02,218.33 252.09,219.01 252.16,219.79 252.23,218.28 252.30,217.88 252.37,219.61 252.44,218.39 252.51,218.99 252.58,218.67 252.65,218.72 252.72,218.40 252.79,218.48 252.86,217.57 252.93,218.23 253.00,218.05 253.07,219.26 253.14,218.38 253.21,218.63 253.28,217.58 253.35,218.61 253.42,219.47 253.49,218.67 253.56,219.09 253.63,218.19 253.70,218.21 253.77,219.14 253.84,220.19 253.91,217.95 253.98,218.51 254.05,216.44 254.12,219.20 254.19,219.00 254.26,217.72 254.33,218.88 254.40,217.78 254.47,218.68 254.54,218.91 254.61,218.27 254.68,218.26 254.75,219.03 254.82,218.40 254.89,217.91 254.96,219.54 255.03,219.10 255.10,218.86 255.17,218.79 255.24,219.18 255.31,218.63 255.38,219.05 255.45,218.78 255.52,218.19 255.59,219.22 255.66,218.70 255.73,218.12 255.80,218.33 255.87,217.18 255.94,217.61 256.01,217.74 256.08,219.00 256.15,218.98 256.22,219.27 256.29,218.83 256.36,219.60 256.43,218.31 256.50,218.13 256.57,218.03 256.64,218.69 256.71,218.19 256.78,218.03 256.85,218.90 256.92,218.66 256.99,217.69 257.06,218.56 257.13,218.55 257.20,219.55 257.27,218.65 257.34,217.80 257.41,219.34 257.48,218.67 257.55,217.81 257.62,216.76 257.69,219.00 257.76,217.80 257.83,218.13 257.90,218.02 257.97,219.31 258.04,219.58 258.11,219.61 258.18,219.45 258.25,218.53 258.32,218.56 258.39,219.70 258.46,218.52 258.53,218.47 258.60,218.15 258.67,218.57 258.74,217.96 258.81,218.89 258.88,218.17 258.95,218.84 259.02,218.48 259.09,217.50 259.16,219.25 259.23,218.73 259.30,215.77 259.37,218.36 259.44,219.61 259.51,218.41 259.58,219.12 259.65,218.67 259.72,218.22 259.79,218.98 259.86,217.66 259.93,219.13 260.00,218.80 260.07,218.69 260.14,218.11 260.21,219.89 260.28,219.60 260.35,218.01 260.42,217.21 260.49,219.51 260.56,218.30 260.63,219.12 260.70,217.98 260.77,218.18 260.84,218.71 260.91,217.59 260.98,217.71 261.05,217.94 261.12,218.86 261.19,220.98 261.26,219.32 261.33,218.77 261.40,218.82 261.47,217.84 261.54,218.79 261.61,219.09 261.68,219.53 261.75,217.87 261.82,218.00 261.89,219.22 261.96,217.75 262.03,217.93 262.10,221.07 262.17,218.03 262.24,218.13 262.31,218.94 262.38,219.03 262.45,218.47 262.52,217.72 262.59,218.26 262.66,218.66 262.73,218.03 262.80,217.99 262.87,219.30 262.94,218.88 263.01,219.03 263.08,219.09 263.15,217.98 263.22,218.85 263.29,219.27 263.36,218.97 263.43,217.89 263.50,217.66 263.57,218.10 263.64,218.89 263.71,218.46 263.78,218.73 263.85,217.83 263.92,220.25 263.99,218.14 264.06,219.24 264.13,218.04 264.20,216.82 264.27,218.46 264.34,218.06 264.41,218.08 264.48,218.48 264.55,219.20 264.62,219.07 264.69,219.39 264.76,217.89 264.83,217.34 264.90,218.25 264.97,218.04 265.04,218.17 265.11,220.14 265.18,219.04 265.25,218.01 265.32,219.28 265.39,218.40 265.46,217.79 265.53,219.27 265.60,218.30 265.67,218.65 265.74,219.93 265.81,217.98 265.88,219.19 265.95,218.40 266.02,217.93 266.09,218.43 266.16,218.68 266.23,218.69 266.30,217.68 266.37,219.07 266.44,219.36 266.51,218.76 266.58,218.70 266.65,218.59 266.72,218.93 266.79,218.16 266.86,218.03 266.93,217.75 267.00,217.49 267.07,218.18 267.14,217.30 267.21,218.37 267.28,218.27 267.35,218.67 267.42,217.90 267.49,219.26 267.56,218.80 267.63,218.76 267.70,218.21 267.77,218.10 267.84,218.39 267.91,218.55 267.98,218.92 268.05,218.28 268.12,219.50 268.19,219.57 268.26,217.14 268.33,218.66 268.40,218.52 268.47,218.01 268.54,217.01 268.61,217.57 268.68,218.48 268.75,218.99 268.82,218.85 268.89,218.42 268.96,217.41 269.03,219.19 269.10,218.87 269.17,219.25 269.24,218.52 269.31,218.21 269.38,217.70 269.45,219.50" fill="none" stroke="#ff2a2a" stroke-width="0.26" stroke-linejoin="round" opacity="1.0"/>
<polyline points="109.57,210.52 109.64,209.82 109.71,210.48 109.78,209.39 109.85,210.40 109.92,207.40 109.99,207.14 110.06,206.09 110.13,203.18 110.20,200.68 110.27,197.42 110.34,192.73 110.41,188.70 110.48,181.92 110.55,177.97 110.62,170.59 110.69,164.48 110.76,160.75 110.83,159.40 110.90,158.00 110.97,159.92 111.04,161.63 111.11,165.83 111.18,169.57 111.25,176.49 111.32,183.05 111.39,187.03 111.46,192.98 111.53,197.51 111.60,201.06 111.67,204.29 111.74,207.61 111.81,207.42 111.88,208.20 111.95,209.89 112.02,209.85 112.09,210.71 112.16,211.36 112.23,211.33" fill="none" stroke="#ff2a2a" stroke-width="0.35" stroke-linejoin="round" opacity="1.0"/>
<polyline points="113.07,210.35 113.14,209.98 113.21,210.72 113.28,208.09 113.35,210.04 113.42,209.88 113.49,209.31 113.56,208.16 113.63,208.19 113.70,205.73 113.77,206.56 113.84,205.50 113.91,203.88 113.98,202.90 114.05,203.11 114.12,201.50 114.19,203.14 114.20,202.98 114.26,203.45 114.33,203.70 114.40,201.80 114.47,204.17 114.54,204.82 114.61,206.49 114.68,206.39 114.75,208.01 114.82,207.44 114.89,209.81 114.96,209.18 115.03,209.62 115.10,209.87 115.17,208.61 115.24,211.70 115.31,210.08 115.38,209.85" fill="none" stroke="#ff2a2a" stroke-width="0.35" stroke-linejoin="round" opacity="1.0"/>
<polyline points="115.24,211.70 115.31,210.08 115.38,209.85 115.45,210.11 115.52,210.36 115.59,208.98 115.66,209.34 115.73,208.34 115.80,206.45 115.87,204.58 115.94,202.56 116.01,199.32 116.08,195.61 116.15,192.95 116.22,188.17 116.29,183.91 116.36,180.25 116.43,175.46 116.50,174.46 116.57,173.79 116.60,173.64 116.64,173.76 116.71,175.52 116.78,177.55 116.85,180.59 116.92,185.41 116.99,187.70 117.06,192.20 117.13,196.22 117.20,199.57 117.27,202.37 117.34,206.24 117.41,206.45 117.48,206.75 117.55,209.44 117.62,209.78 117.69,210.27 117.76,209.96 117.83,210.03 117.90,210.62" fill="none" stroke="#ff2a2a" stroke-width="0.35" stroke-linejoin="round" opacity="1.0"/>
<polyline points="119.51,210.55 119.58,210.67 119.65,210.03 119.72,210.82 119.79,211.06 119.86,209.13 119.93,210.08 120.00,208.84 120.07,208.61 120.14,208.06 120.21,207.35 120.28,206.18 120.35,205.69 120.42,204.45 120.49,205.06 120.56,204.53 120.60,204.76 120.63,204.05 120.70,205.35 120.77,205.35 120.84,205.07 120.91,206.78 120.98,207.85 121.05,206.95 121.12,210.53 121.19,208.67 121.26,209.41 121.33,209.76 121.40,209.49 121.47,210.39 121.54,210.05 121.61,211.85 121.68,211.82" fill="none" stroke="#ff2a2a" stroke-width="0.35" stroke-linejoin="round" opacity="1.0"/>
<polyline points="124.55,211.82 124.62,212.38 124.69,212.18 124.76,211.00 124.83,210.31 124.90,209.47 124.97,208.52 125.04,208.79 125.11,207.66 125.18,205.14 125.25,203.70 125.32,200.81 125.39,199.16 125.46,197.77 125.53,195.90 125.60,194.60 125.67,193.21 125.70,193.27 125.74,193.91 125.81,194.52 125.88,195.99 125.95,197.35 126.02,199.48 126.09,201.66 126.16,203.91 126.23,205.56 126.30,206.92 126.37,208.46 126.44,210.20 126.51,210.52 126.58,210.80 126.65,211.26 126.72,212.25 126.79,212.62 126.86,213.11" fill="none" stroke="#ff2a2a" stroke-width="0.35" stroke-linejoin="round" opacity="1.0"/>
<polyline points="144.36,214.32 144.43,214.19 144.50,214.04 144.57,212.85 144.64,214.80 144.71,212.79 144.78,212.44 144.85,212.55 144.92,211.32 144.99,210.97 145.06,210.05 145.13,209.60 145.20,208.84 145.27,208.80 145.34,207.97 145.40,208.19 145.41,207.69 145.48,208.63 145.55,207.51 145.62,208.99 145.69,209.65 145.76,210.31 145.83,210.86 145.90,212.13 145.97,213.11 146.04,212.56 146.11,212.63 146.18,213.31 146.25,213.78 146.32,214.35 146.39,214.60 146.46,215.23" fill="none" stroke="#ff2a2a" stroke-width="0.35" stroke-linejoin="round" opacity="1.0"/>
<polyline points="177.54,217.15 177.61,217.38 177.68,217.83 177.75,216.34 177.82,216.30 177.89,216.37 177.96,214.12 178.03,213.89 178.10,212.68 178.17,211.34 178.24,209.07 178.31,207.89 178.38,206.18 178.45,205.09 178.52,202.81 178.59,201.57 178.66,201.21 178.70,200.25 178.73,201.23 178.80,202.13 178.87,202.65 178.94,204.65 179.01,205.67 179.08,207.58 179.15,208.94 179.22,211.51 179.29,212.37 179.36,213.64 179.43,215.31 179.50,215.57 179.57,215.98 179.64,216.97 179.71,216.67 179.78,216.90 179.85,215.70 179.92,215.54 179.99,215.65 180.06,215.37 180.13,213.94 180.20,213.62 180.27,212.23 180.34,210.93 180.41,209.74 180.48,208.93 180.55,207.92 180.62,207.13 180.69,207.40 180.70,207.32 180.76,207.33 180.83,207.91 180.90,207.63 180.97,209.53 181.04,210.59 181.11,211.12 181.18,213.52 181.25,214.02 181.32,214.68 181.39,215.46 181.46,216.43 181.53,216.63 181.60,216.47 181.67,217.10 181.74,216.84" fill="none" stroke="#ff2a2a" stroke-width="0.35" stroke-linejoin="round" opacity="1.0"/>
<polyline points="40.20,264.02 40.70,264.04 41.20,263.17 41.70,262.21 42.20,257.73 42.50,255.80 42.70,256.67 43.20,261.80 43.70,263.47 44.20,263.81 44.70,263.84 45.20,263.69 45.70,263.75 46.20,263.95 46.70,263.81 47.20,264.09 47.70,264.10 48.20,264.17 48.70,263.90 49.20,264.11 49.70,263.76 50.20,263.77 50.70,263.90 51.20,263.93 51.70,263.65 52.20,263.62 52.70,263.93 53.20,263.75 53.70,264.05 54.20,263.93 54.70,263.91 55.20,263.89 55.70,263.99 56.20,263.83 56.70,264.01 57.20,263.76 57.70,263.80 58.20,263.73 58.70,263.92 59.20,263.83 59.70,263.69 60.20,264.11 60.70,263.74 61.20,263.77 61.70,263.83 62.20,264.01 62.70,263.69 63.20,263.62 63.70,262.56 64.20,261.07 64.70,262.65 65.20,263.66 65.70,263.65 66.20,263.72 66.70,263.51 67.20,263.51 67.70,263.68 68.20,263.83 68.70,263.67 69.20,263.78 69.70,263.88 70.20,263.74 70.70,263.81 71.20,263.94 71.70,263.53 72.20,263.82 72.70,263.43 73.20,263.77 73.70,263.73 74.20,263.61 74.70,263.53 75.20,263.68 75.70,263.62 76.20,263.69 76.70,263.54 77.20,263.75 77.70,263.51 78.20,263.61 78.70,263.60 79.20,263.84 79.70,263.42 80.20,263.58 80.70,263.81 81.20,263.53 81.70,263.43 82.20,263.65 82.70,263.56 83.20,263.71 83.70,263.43 84.20,263.56 84.70,263.42 85.20,262.60 85.60,261.60 85.70,262.04 86.20,262.75 86.70,263.20 87.20,263.37 87.70,263.56 88.20,263.49 88.70,263.61 89.20,263.61 89.70,263.58 90.20,263.49 90.70,263.80 91.20,263.19 91.70,263.26 92.20,263.44 92.70,263.32 93.20,263.12 93.70,263.37 94.20,263.37 94.70,263.11 95.20,263.60 95.70,263.66 96.20,263.64 96.70,263.37 97.20,263.46 97.70,263.26 98.20,263.45 98.70,263.31 99.20,263.46 99.70,263.33 100.20,263.52 100.70,263.48 101.20,263.53 101.70,263.09 102.20,263.03 102.70,263.35 103.20,263.17 103.70,263.29 104.20,263.24 104.70,263.18 105.20,263.23 105.70,263.11 106.20,263.00 106.70,262.68 107.20,262.90 107.70,262.41 108.20,262.18 108.70,261.44 109.20,260.35 109.70,255.82 110.20,236.04 110.70,191.93 111.00,176.80 111.20,183.95 111.70,228.28 112.20,253.00 112.70,257.34 113.20,254.25 113.50,251.68 113.70,252.17 114.20,251.60 114.70,244.86 115.20,252.64 115.70,254.83 116.20,233.94 116.70,205.75 117.20,234.22 117.70,256.59 118.20,260.88 118.70,261.32 119.20,261.73 119.70,259.57 120.20,253.80 120.40,252.53 120.70,254.83 121.20,260.55 121.70,261.74 122.20,259.88 122.60,258.41 122.70,258.17 123.20,260.97 123.70,262.41 124.20,262.27 124.70,261.19 125.20,253.68 125.70,238.98 125.80,238.09 126.20,247.50 126.70,259.64 127.20,262.26 127.70,262.98 128.20,263.11 128.70,263.06 129.20,263.42 129.70,263.03 130.20,263.40 130.70,263.52 131.20,263.21 131.70,263.22 132.20,263.34 132.70,263.25 133.20,262.04 133.70,259.12 133.90,258.66 134.20,259.71 134.70,262.18 135.20,263.10 135.70,263.25 136.20,263.07 136.70,263.38 137.20,263.23 137.70,263.46 138.20,263.13 138.70,263.22 139.20,263.14 139.70,263.55 140.20,263.54 140.70,263.57 141.20,263.56 141.70,263.46 142.20,263.44 142.70,263.02 143.20,263.27 143.70,263.05 144.20,262.81 144.70,261.06 145.20,255.77 145.50,253.18 145.70,254.12 146.20,260.52 146.70,262.68 147.20,262.88 147.70,263.06 148.20,262.97 148.70,262.41 149.20,260.66 149.70,258.57 150.20,260.94 150.70,262.79 151.20,262.90 151.70,263.00 152.20,262.92 152.70,261.71 153.20,257.90 153.40,257.17 153.70,258.92 154.20,262.10 154.70,262.98 155.20,263.08 155.70,263.15 156.20,263.52 156.70,263.44 157.20,263.24 157.70,263.11 158.20,263.53 158.70,263.45 159.20,263.03 159.70,261.64 160.00,260.67 160.20,261.04 160.70,262.75 161.20,263.15 161.70,263.32 162.20,263.23 162.70,263.22 163.20,263.40 163.70,263.26 164.20,263.32 164.70,263.36 165.20,263.35 165.70,263.47 166.20,263.48 166.70,263.01 167.20,262.79 167.70,261.41 168.00,261.06 168.20,261.06 168.70,262.76 169.20,263.27 169.70,263.33 170.20,263.12 170.70,263.23 171.20,263.10 171.70,263.31 172.20,263.38 172.70,262.98 173.20,263.05 173.70,263.05 174.20,262.50 174.70,261.12 175.00,260.15 175.20,260.53 175.70,262.02 176.20,262.96 176.70,262.66 177.20,262.35 177.70,260.37 178.20,250.34 178.70,237.90 179.20,249.73 179.70,256.28 180.20,246.28 180.50,241.72 180.70,244.27 181.20,257.03 181.70,261.90 182.20,262.60 182.70,262.59 183.20,262.88 183.70,263.32 184.20,262.96 184.70,263.37 185.20,263.44 185.70,263.12 186.20,263.27 186.70,263.01 187.20,263.33 187.70,263.08 188.20,262.95 188.70,262.85 189.20,261.54 189.70,259.85 190.20,261.63 190.70,262.87 191.20,263.03 191.70,263.29 192.20,263.36 192.70,262.11 193.20,260.84 193.70,261.97 194.20,263.12 194.70,263.17 195.20,263.25 195.70,262.96 196.20,263.10 196.70,263.10 197.20,263.41 197.70,263.23 198.20,262.88 198.70,263.28 199.20,263.09 199.70,262.10 200.00,261.06 200.20,261.71 200.70,262.90 201.20,263.28 201.70,263.22 202.20,263.00 202.70,263.22 203.20,263.24 203.70,263.38 204.20,263.39 204.70,263.26 205.20,263.42 205.70,263.14 206.20,263.19 206.70,263.29 207.20,263.38 207.70,263.24 208.20,263.48 208.70,263.35 209.20,263.15 209.70,263.30 210.20,263.15 210.70,263.14 211.20,263.07 211.70,263.49 212.20,263.41 212.70,263.02 213.20,263.41 213.70,263.34 214.20,262.86 214.70,261.99 215.00,261.83 215.20,261.74 215.70,262.84 216.20,263.34 216.70,263.08 217.20,263.06 217.70,263.05 218.20,263.26 218.70,263.40 219.20,263.14 219.70,263.07 220.20,263.31 220.70,263.22 221.20,263.37 221.70,263.26 222.20,263.25 222.70,263.27 223.20,263.28 223.70,263.13 224.20,263.11 224.70,263.51 225.20,263.74 225.70,263.44 226.20,263.02 226.70,263.27 227.20,263.44 227.70,263.01 228.20,263.16 228.70,263.14 229.20,262.83 229.70,262.02 230.00,261.95 230.20,261.90 230.70,262.82 231.20,263.43 231.70,263.10 232.20,262.96 232.70,263.35 233.20,263.56 233.70,263.29 234.20,263.30 234.70,263.06 235.20,263.12 235.70,263.48 236.20,263.44 236.70,263.34 237.20,263.16 237.70,263.07 238.20,263.09 238.70,263.07 239.20,263.33 239.70,263.12 240.20,263.15 240.70,263.32 241.20,263.30 241.70,263.17 242.20,263.08 242.70,262.16 243.20,260.20 243.30,260.38 243.70,261.38 244.20,262.76 244.70,263.16 245.20,263.09 245.70,263.38 246.20,263.18 246.70,263.24 247.20,263.27 247.70,263.19 248.20,263.32 248.70,263.34 249.20,263.32 249.70,263.11 250.20,263.08 250.70,263.13 251.20,263.21 251.70,262.93 252.20,263.08 252.70,263.02 253.20,263.08 253.70,262.99 254.20,262.98 254.70,261.97 255.00,261.63 255.20,261.54 255.70,262.61 256.20,263.06 256.70,263.42 257.20,263.44 257.70,263.10 258.20,263.29 258.70,263.52 259.20,263.05 259.70,263.17 260.20,263.40 260.70,263.31 261.20,263.05 261.70,263.42 262.20,263.34 262.70,263.29 263.20,262.98 263.70,263.11 264.20,263.11 264.70,262.20 265.00,261.92 265.20,261.92 265.70,263.03 266.20,263.08 266.70,263.30 267.20,263.23 267.70,263.04 268.20,263.41 268.70,263.00 269.20,263.08" fill="none" stroke="#5a5aff" stroke-width="0.5" stroke-linejoin="round" opacity="1.0"/>
<polyline points="40.20,264.02 40.70,264.04 41.20,263.17 41.70,262.79 42.20,262.78 42.50,262.78 42.70,262.78 43.20,262.77 43.70,263.47 44.20,263.81 44.70,263.84 45.20,263.69 45.70,263.75 46.20,263.95 46.70,263.81 47.20,264.09 47.70,264.10 48.20,264.17 48.70,263.90 49.20,264.11 49.70,263.76 50.20,263.77 50.70,263.90 51.20,263.93 51.70,263.65 52.20,263.62 52.70,263.93 53.20,263.75 53.70,264.05 54.20,263.93 54.70,263.91 55.20,263.89 55.70,263.99 56.20,263.83 56.70,264.01 57.20,263.76 57.70,263.80 58.20,263.73 58.70,263.92 59.20,263.83 59.70,263.69 60.20,264.11 60.70,263.74 61.20,263.77 61.70,263.83 62.20,264.01 62.70,263.69 63.20,263.62 63.70,262.60 64.20,262.60 64.70,262.65 65.20,263.66 65.70,263.65 66.20,263.72 66.70,263.51 67.20,263.51 67.70,263.68 68.20,263.83 68.70,263.67 69.20,263.78 69.70,263.88 70.20,263.74 70.70,263.81 71.20,263.94 71.70,263.53 72.20,263.82 72.70,263.43 73.20,263.77 73.70,263.73 74.20,263.61 74.70,263.53 75.20,263.68 75.70,263.62 76.20,263.69 76.70,263.54 77.20,263.75 77.70,263.51 78.20,263.61 78.70,263.60 79.20,263.84 79.70,263.42 80.20,263.58 80.70,263.81 81.20,263.53 81.70,263.43 82.20,263.65 82.70,263.56 83.20,263.71 83.70,263.43 84.20,263.56 84.70,263.42 85.20,262.60 85.60,262.42 85.70,262.42 86.20,262.75 86.70,263.20 87.20,263.37 87.70,263.56 88.20,263.49 88.70,263.61 89.20,263.61 89.70,263.58 90.20,263.49 90.70,263.80 91.20,263.19 91.70,263.26 92.20,263.44 92.70,263.32 93.20,263.12 93.70,263.37 94.20,263.37 94.70,263.11 95.20,263.60 95.70,263.66 96.20,263.64 96.70,263.37 97.20,263.46 97.70,263.26 98.20,263.45 98.70,263.31 99.20,263.46 99.70,263.33 100.20,263.52 100.70,263.48 101.20,263.53 101.70,263.09 102.20,263.03 102.70,263.35 103.20,263.17 103.70,263.29 104.20,263.24 104.70,263.18 105.20,263.23 105.70,263.11 106.20,263.00 106.70,262.68 107.20,262.90 107.70,262.41 108.20,262.29 108.70,262.28 109.20,262.28 109.70,262.28 110.20,262.28 110.70,262.28 111.00,262.28 111.20,262.28 111.70,262.28 112.20,262.28 112.70,262.28 113.20,262.28 113.50,262.28 113.70,262.28 114.20,262.27 114.70,262.27 115.20,262.27 115.70,262.27 116.20,262.27 116.70,262.27 117.20,262.27 117.70,262.27 118.20,262.27 118.70,262.27 119.20,262.27 119.70,262.27 120.20,262.26 120.40,262.26 120.70,262.26 121.20,262.26 121.70,262.26 122.20,262.26 122.60,262.26 122.70,262.26 123.20,262.26 123.70,262.41 124.20,262.27 124.70,262.26 125.20,262.26 125.70,262.25 125.80,262.25 126.20,262.25 126.70,262.25 127.20,262.26 127.70,262.98 128.20,263.11 128.70,263.06 129.20,263.42 129.70,263.03 130.20,263.40 130.70,263.52 131.20,263.21 131.70,263.22 132.20,263.34 132.70,263.25 133.20,262.24 133.70,262.24 133.90,262.24 134.20,262.24 134.70,262.24 135.20,263.10 135.70,263.25 136.20,263.07 136.70,263.38 137.20,263.23 137.70,263.46 138.20,263.13 138.70,263.22 139.20,263.14 139.70,263.55 140.20,263.54 140.70,263.57 141.20,263.56 141.70,263.46 142.20,263.44 142.70,263.02 143.20,263.27 143.70,263.05 144.20,262.81 144.70,262.22 145.20,262.22 145.50,262.22 145.70,262.22 146.20,262.22 146.70,262.68 147.20,262.88 147.70,263.06 148.20,262.97 148.70,262.41 149.20,262.21 149.70,262.21 150.20,262.21 150.70,262.79 151.20,262.90 151.70,263.00 152.20,262.92 152.70,262.21 153.20,262.21 153.40,262.21 153.70,262.21 154.20,262.20 154.70,262.98 155.20,263.08 155.70,263.15 156.20,263.52 156.70,263.44 157.20,263.24 157.70,263.11 158.20,263.53 158.70,263.45 159.20,263.03 159.70,262.19 160.00,262.19 160.20,262.19 160.70,262.75 161.20,263.15 161.70,263.32 162.20,263.23 162.70,263.22 163.20,263.40 163.70,263.26 164.20,263.32 164.70,263.36 165.20,263.35 165.70,263.47 166.20,263.48 166.70,263.01 167.20,262.79 167.70,262.18 168.00,262.18 168.20,262.18 168.70,262.76 169.20,263.27 169.70,263.33 170.20,263.12 170.70,263.23 171.20,263.10 171.70,263.31 172.20,263.38 172.70,262.98 173.20,263.05 173.70,263.05 174.20,262.50 174.70,262.17 175.00,262.17 175.20,262.17 175.70,262.17 176.20,262.96 176.70,262.66 177.20,262.35 177.70,262.16 178.20,262.16 178.70,262.16 179.20,262.16 179.70,262.16 180.20,262.16 180.50,262.16 180.70,262.16 181.20,262.16 181.70,262.16 182.20,262.60 182.70,262.59 183.20,262.88 183.70,263.32 184.20,262.96 184.70,263.37 185.20,263.44 185.70,263.12 186.20,263.27 186.70,263.01 187.20,263.33 187.70,263.08 188.20,262.95 188.70,262.85 189.20,262.14 189.70,262.14 190.20,262.14 190.70,262.87 191.20,263.03 191.70,263.29 192.20,263.36 192.70,262.14 193.20,262.14 193.70,262.13 194.20,263.12 194.70,263.17 195.20,263.25 195.70,262.96 196.20,263.10 196.70,263.10 197.20,263.41 197.70,263.23 198.20,262.88 198.70,263.28 199.20,263.09 199.70,262.12 200.00,262.12 200.20,262.12 200.70,262.90 201.20,263.28 201.70,263.22 202.20,263.00 202.70,263.22 203.20,263.24 203.70,263.38 204.20,263.39 204.70,263.26 205.20,263.42 205.70,263.14 206.20,263.19 206.70,263.29 207.20,263.38 207.70,263.24 208.20,263.48 208.70,263.35 209.20,263.15 209.70,263.30 210.20,263.15 210.70,263.14 211.20,263.07 211.70,263.49 212.20,263.41 212.70,263.02 213.20,263.41 213.70,263.34 214.20,262.86 214.70,262.10 215.00,262.10 215.20,262.10 215.70,262.84 216.20,263.34 216.70,263.08 217.20,263.06 217.70,263.05 218.20,263.26 218.70,263.40 219.20,263.14 219.70,263.07 220.20,263.31 220.70,263.22 221.20,263.37 221.70,263.26 222.20,263.25 222.70,263.27 223.20,263.28 223.70,263.13 224.20,263.11 224.70,263.51 225.20,263.74 225.70,263.44 226.20,263.02 226.70,263.27 227.20,263.44 227.70,263.01 228.20,263.16 228.70,263.14 229.20,262.83 229.70,262.07 230.00,262.07 230.20,262.07 230.70,262.82 231.20,263.43 231.70,263.10 232.20,262.96 232.70,263.35 233.20,263.56 233.70,263.29 234.20,263.30 234.70,263.06 235.20,263.12 235.70,263.48 236.20,263.44 236.70,263.34 237.20,263.16 237.70,263.07 238.20,263.09 238.70,263.07 239.20,263.33 239.70,263.12 240.20,263.15 240.70,263.32 241.20,263.30 241.70,263.17 242.20,263.08 242.70,262.16 243.20,262.05 243.30,262.05 243.70,262.05 244.20,262.76 244.70,263.16 245.20,263.09 245.70,263.38 246.20,263.18 246.70,263.24 247.20,263.27 247.70,263.19 248.20,263.32 248.70,263.34 249.20,263.32 249.70,263.11 250.20,263.08 250.70,263.13 251.20,263.21 251.70,262.93 252.20,263.08 252.70,263.02 253.20,263.08 253.70,262.99 254.20,262.98 254.70,262.03 255.00,262.03 255.20,262.03 255.70,262.61 256.20,263.06 256.70,263.42 257.20,263.44 257.70,263.10 258.20,263.29 258.70,263.52 259.20,263.05 259.70,263.17 260.20,263.40 260.70,263.31 261.20,263.05 261.70,263.42 262.20,263.34 262.70,263.29 263.20,262.98 263.70,263.11 264.20,263.11 264.70,262.20 265.00,262.01 265.20,262.01 265.70,263.03 266.20,263.08 266.70,263.30 267.20,263.23 267.70,263.04 268.20,263.41 268.70,263.00 269.20,263.08" fill="none" stroke="#5a5aff" stroke-width="0.4" stroke-linejoin="round" opacity="1.0"/>
<line x1="332.00" y1="144.90" x2="332.00" y2="265.00" stroke="#333" stroke-width="0.9"/>
<line x1="332.00" y1="265.00" x2="335.40" y2="265.00" stroke="#333" stroke-width="0.8"/>
<line x1="332.00" y1="262.30" x2="334.00" y2="262.30" stroke="#666" stroke-width="0.6"/>
<line x1="332.00" y1="259.60" x2="334.00" y2="259.60" stroke="#666" stroke-width="0.6"/>
<line x1="332.00" y1="256.90" x2="334.00" y2="256.90" stroke="#666" stroke-width="0.6"/>
<line x1="332.00" y1="254.20" x2="334.00" y2="254.20" stroke="#666" stroke-width="0.6"/>
<line x1="332.00" y1="251.50" x2="335.40" y2="251.50" stroke="#333" stroke-width="0.8"/>
<line x1="332.00" y1="248.80" x2="334.00" y2="248.80" stroke="#666" stroke-width="0.6"/>
<line x1="332.00" y1="246.10" x2="334.00" y2="246.10" stroke="#666" stroke-width="0.6"/>
<line x1="332.00" y1="243.40" x2="334.00" y2="243.40" stroke="#666" stroke-width="0.6"/>
<line x1="332.00" y1="240.70" x2="334.00" y2="240.70" stroke="#666" stroke-width="0.6"/>
<line x1="332.00" y1="238.00" x2="335.40" y2="238.00" stroke="#333" stroke-width="0.8"/>
<line x1="332.00" y1="235.30" x2="334.00" y2="235.30" stroke="#666" stroke-width="0.6"/>
<line x1="332.00" y1="232.60" x2="334.00" y2="232.60" stroke="#666" stroke-width="0.6"/>
<line x1="332.00" y1="229.90" x2="334.00" y2="229.90" stroke="#666" stroke-width="0.6"/>
<line x1="332.00" y1="227.20" x2="334.00" y2="227.20" stroke="#666" stroke-width="0.6"/>
<line x1="332.00" y1="224.50" x2="335.40" y2="224.50" stroke="#333" stroke-width="0.8"/>
<line x1="332.00" y1="221.80" x2="334.00" y2="221.80" stroke="#666" stroke-width="0.6"/>
<line x1="332.00" y1="219.10" x2="334.00" y2="219.10" stroke="#666" stroke-width="0.6"/>
<line x1="332.00" y1="216.40" x2="334.00" y2="216.40" stroke="#666" stroke-width="0.6"/>
<line x1="332.00" y1="213.70" x2="334.00" y2="213.70" stroke="#666" stroke-width="0.6"/>
<line x1="332.00" y1="211.00" x2="335.40" y2="211.00" stroke="#333" stroke-width="0.8"/>
<line x1="332.00" y1="208.30" x2="334.00" y2="208.30" stroke="#666" stroke-width="0.6"/>
<line x1="332.00" y1="205.60" x2="334.00" y2="205.60" stroke="#666" stroke-width="0.6"/>
<line x1="332.00" y1="202.90" x2="334.00" y2="202.90" stroke="#666" stroke-width="0.6"/>
<line x1="332.00" y1="200.20" x2="334.00" y2="200.20" stroke="#666" stroke-width="0.6"/>
<line x1="332.00" y1="197.50" x2="335.40" y2="197.50" stroke="#333" stroke-width="0.8"/>
<line x1="332.00" y1="194.80" x2="334.00" y2="194.80" stroke="#666" stroke-width="0.6"/>
<line x1="332.00" y1="192.10" x2="334.00" y2="192.10" stroke="#666" stroke-width="0.6"/>
<line x1="332.00" y1="189.40" x2="334.00" y2="189.40" stroke="#666" stroke-width="0.6"/>
<line x1="332.00" y1="186.70" x2="334.00" y2="186.70" stroke="#666" stroke-width="0.6"/>
<line x1="332.00" y1="184.00" x2="335.40" y2="184.00" stroke="#333" stroke-width="0.8"/>
<line x1="332.00" y1="181.30" x2="334.00" y2="181.30" stroke="#666" stroke-width="0.6"/>
<line x1="332.00" y1="178.60" x2="334.00" y2="178.60" stroke="#666" stroke-width="0.6"/>
<line x1="332.00" y1="175.90" x2="334.00" y2="175.90" stroke="#666" stroke-width="0.6"/>
<line x1="332.00" y1="173.20" x2="334.00" y2="173.20" stroke="#666" stroke-width="0.6"/>
<line x1="332.00" y1="170.50" x2="335.40" y2="170.50" stroke="#333" stroke-width="0.8"/>
<line x1="332.00" y1="167.80" x2="334.00" y2="167.80" stroke="#666" stroke-width="0.6"/>
<line x1="332.00" y1="165.10" x2="334.00" y2="165.10" stroke="#666" stroke-width="0.6"/>
<line x1="332.00" y1="162.40" x2="334.00" y2="162.40" stroke="#666" stroke-width="0.6"/>
<line x1="332.00" y1="159.70" x2="334.00" y2="159.70" stroke="#666" stroke-width="0.6"/>
<line x1="332.00" y1="157.00" x2="335.40" y2="157.00" stroke="#333" stroke-width="0.8"/>
<line x1="332.00" y1="154.66" x2="334.00" y2="154.66" stroke="#666" stroke-width="0.6"/>
<line x1="332.00" y1="152.32" x2="334.00" y2="152.32" stroke="#666" stroke-width="0.6"/>
<line x1="332.00" y1="149.98" x2="334.00" y2="149.98" stroke="#666" stroke-width="0.6"/>
<line x1="332.00" y1="147.64" x2="334.00" y2="147.64" stroke="#666" stroke-width="0.6"/>
<line x1="332.00" y1="145.30" x2="335.40" y2="145.30" stroke="#333" stroke-width="0.8"/>
<line x1="332.00" y1="265.30" x2="530.60" y2="265.30" stroke="#333" stroke-width="1.1"/>
<line x1="332.00" y1="265.30" x2="332.00" y2="263.10" stroke="#333" stroke-width="0.8"/>
<line x1="381.35" y1="265.30" x2="381.35" y2="263.10" stroke="#333" stroke-width="0.8"/>
<line x1="430.70" y1="265.30" x2="430.70" y2="263.10" stroke="#333" stroke-width="0.8"/>
<line x1="480.05" y1="265.30" x2="480.05" y2="263.10" stroke="#333" stroke-width="0.8"/>
<line x1="529.40" y1="265.30" x2="529.40" y2="263.10" stroke="#333" stroke-width="0.8"/>
<text x="330.70" y="266.36" font-size="6.6" fill="#383838" text-anchor="end" stroke="#383838" stroke-width="0.18">0</text>
<text x="330.70" y="253.26" font-size="6.6" fill="#383838" text-anchor="end" stroke="#383838" stroke-width="0.18">20</text>
<text x="330.70" y="237.86" font-size="6.6" fill="#383838" text-anchor="end" stroke="#383838" stroke-width="0.18">40</text>
<text x="330.70" y="222.56" font-size="6.6" fill="#383838" text-anchor="end" stroke="#383838" stroke-width="0.18">60</text>
<text x="330.70" y="207.86" font-size="6.6" fill="#383838" text-anchor="end" stroke="#383838" stroke-width="0.18">80</text>
<text x="330.70" y="192.76" font-size="6.6" fill="#383838" text-anchor="end" stroke="#383838" stroke-width="0.18">100</text>
<text x="330.70" y="177.46" font-size="6.6" fill="#383838" text-anchor="end" stroke="#383838" stroke-width="0.18">120</text>
<text x="330.70" y="162.36" font-size="6.6" fill="#383838" text-anchor="end" stroke="#383838" stroke-width="0.18">140</text>
<text x="330.70" y="147.66" font-size="6.6" fill="#383838" text-anchor="end" stroke="#383838" stroke-width="0.18">160</text>
<text x="332.00" y="272.61" font-size="7.0" fill="#383838" text-anchor="middle" stroke="#383838" stroke-width="0.18">0</text>
<text x="379.10" y="272.61" font-size="7.0" fill="#383838" text-anchor="middle" stroke="#383838" stroke-width="0.18">10</text>
<text x="428.40" y="272.61" font-size="7.0" fill="#383838" text-anchor="middle" stroke="#383838" stroke-width="0.18">20</text>
<text x="477.90" y="272.61" font-size="7.0" fill="#383838" text-anchor="middle" stroke="#383838" stroke-width="0.18">30</text>
<text x="527.60" y="272.61" font-size="7.0" fill="#383838" text-anchor="middle" stroke="#383838" stroke-width="0.18">40</text>
<text x="318.85" y="209.80" font-size="6.8" fill="#333" text-anchor="middle" textLength="59.80" lengthAdjust="spacingAndGlyphs" transform="rotate(-90 318.85 209.80)" stroke="#333" stroke-width="0.22">Intensity (arb. units)</text>
<text x="487.40" y="278.93" font-size="8.58" fill="#333" textLength="15.80" lengthAdjust="spacingAndGlyphs" stroke="#333" stroke-width="0.15">2θ (°)</text>
<text x="340.40" y="154.44" font-size="10.97" fill="#1a1a1a" font-weight="bold" textLength="12.90" lengthAdjust="spacingAndGlyphs" stroke="#1a1a1a" stroke-width="0.55">(d)</text>
<text x="498.70" y="222.00" font-size="7.8" fill="#ff2a2a" textLength="31.50" lengthAdjust="spacingAndGlyphs" stroke="#ff2a2a" stroke-width="0.12">Metr (Exp)</text>
<text x="498.70" y="260.00" font-size="7.8" fill="#5a5aff" textLength="32.00" lengthAdjust="spacingAndGlyphs" stroke="#5a5aff" stroke-width="0.12">Metr (Sim)</text>
<polyline points="347.00,223.40 347.50,223.43 348.00,223.38 348.50,223.33 349.00,223.38 349.50,223.33 350.00,223.44 350.50,223.57 351.00,223.40 351.50,223.39 352.00,223.51 352.50,223.50 353.00,223.48 353.50,223.38 354.00,223.48 354.50,223.56 355.00,223.36 355.50,223.45 356.00,223.31 356.50,223.38 357.00,223.33 357.50,223.50 358.00,223.40 358.50,223.56 359.00,223.55 359.50,223.52 360.00,223.30 360.50,223.50 361.00,223.56 361.50,223.58 362.00,223.42 362.50,223.53 363.00,223.49 363.50,223.51 364.00,223.70 364.50,223.52 365.00,223.60 365.50,223.70 366.00,223.56 366.50,223.61 367.00,223.64 367.50,223.64 368.00,223.52 368.50,223.65 369.00,223.78 369.50,223.50 370.00,223.74 370.50,223.67 371.00,223.59 371.50,223.85 372.00,223.68 372.50,223.07 373.00,222.30 373.50,223.26 374.00,223.61 374.50,223.75 375.00,223.70 375.50,223.78 376.00,223.87 376.50,223.66 377.00,223.76 377.50,223.70 378.00,223.76 378.50,223.64 379.00,223.71 379.50,223.75 380.00,223.86 380.50,223.89 381.00,223.65 381.50,223.71 382.00,223.86 382.50,223.60 383.00,223.76 383.50,223.80 384.00,223.94 384.50,223.89 385.00,223.79 385.50,223.79 386.00,223.81 386.50,223.99 387.00,223.80 387.50,223.81 388.00,223.88 388.50,223.84 389.00,223.83 389.50,223.73 390.00,223.84 390.50,223.77 391.00,223.90 391.50,223.75 392.00,222.93 392.50,221.40 393.00,222.75 393.50,223.38 394.00,222.20 394.50,206.92 394.70,200.13 395.00,212.10 395.50,222.58 396.00,223.26 396.50,223.62 397.00,223.65 397.50,223.79 398.00,224.01 398.50,223.69 399.00,223.68 399.50,223.65 400.00,223.26 400.50,216.76 400.80,209.65 401.00,213.72 401.50,222.97 402.00,223.51 402.50,223.75 403.00,223.82 403.50,223.74 404.00,223.89 404.50,223.79 405.00,223.98 405.50,223.91 406.00,223.90 406.50,223.83 407.00,223.87 407.50,223.68 408.00,223.76 408.50,223.90 409.00,223.63 409.50,223.90 410.00,223.60 410.50,223.78 411.00,223.49 411.50,223.36 412.00,222.52 412.50,216.05 413.00,154.01 413.50,216.35 414.00,222.51 414.50,223.27 415.00,223.56 415.50,223.62 416.00,223.90 416.50,223.78 417.00,223.86 417.50,223.81 418.00,223.84 418.50,223.78 419.00,224.04 419.50,223.90 420.00,224.02 420.50,223.92 421.00,223.85 421.50,223.87 422.00,223.83 422.50,223.86 423.00,223.77 423.50,223.65 424.00,223.21 424.50,219.87 425.00,202.65 425.50,219.88 426.00,223.25 426.50,223.73 427.00,223.96 427.50,223.73 428.00,223.89 428.50,223.86 429.00,223.75 429.50,224.00 430.00,223.91 430.50,223.87 431.00,223.38 431.50,221.37 431.70,220.71 432.00,221.83 432.50,223.52 433.00,223.77 433.50,224.07 434.00,223.90 434.50,223.98 435.00,223.95 435.50,223.90 436.00,223.87 436.50,223.95 437.00,223.76 437.50,223.43 438.00,218.57 438.30,213.28 438.50,216.21 439.00,222.84 439.50,221.58 440.00,219.44 440.50,221.89 441.00,223.61 441.50,223.83 442.00,223.98 442.50,224.04 443.00,224.07 443.50,224.09 444.00,223.97 444.50,224.17 445.00,223.90 445.50,224.12 446.00,224.08 446.50,224.13 447.00,224.23 447.50,224.19 448.00,223.93 448.50,223.88 449.00,224.13 449.50,223.94 450.00,224.04 450.50,224.13 451.00,223.87 451.50,223.81 452.00,224.02 452.50,223.94 453.00,223.69 453.50,220.34 453.80,216.51 454.00,218.54 454.50,223.54 455.00,223.83 455.50,223.84 456.00,224.09 456.50,224.05 457.00,224.10 457.50,223.97 458.00,224.01 458.50,223.98 459.00,223.99 459.50,224.11 460.00,224.01 460.50,224.13 461.00,224.13 461.50,224.30 462.00,223.96 462.50,224.19 463.00,224.09 463.50,224.10 464.00,223.96 464.50,224.06 465.00,224.18 465.50,224.10 466.00,224.12 466.50,224.08 467.00,224.23 467.50,224.11 468.00,223.90 468.50,224.05 469.00,223.92 469.50,223.80 470.00,224.07 470.50,224.26 471.00,224.13 471.50,224.01 472.00,224.03 472.50,224.24 473.00,224.15 473.50,224.14 474.00,224.13 474.50,224.14 475.00,224.22 475.50,224.19 476.00,224.16 476.50,224.03 477.00,224.19 477.50,224.07 478.00,224.24 478.50,223.99 479.00,224.09 479.50,224.05 480.00,223.56 480.50,220.52 480.60,220.14 481.00,222.80 481.50,224.08 482.00,224.13 482.50,223.86 483.00,224.17 483.50,224.14 484.00,224.16 484.50,224.05 485.00,224.14 485.50,224.15 486.00,224.29 486.50,224.20 487.00,224.17 487.50,224.33 488.00,224.12 488.50,224.14 489.00,224.00 489.50,224.34 490.00,224.28 490.50,224.27 491.00,224.25 491.50,224.20 492.00,224.21 492.50,224.16 493.00,224.17 493.50,224.20 494.00,224.35 494.50,224.25 495.00,224.19 495.50,224.14 496.00,224.14 496.50,224.36 497.00,224.25 497.50,224.21 498.00,224.17 498.50,224.10 499.00,224.20 499.50,224.30 500.00,224.17 500.50,224.19 501.00,224.19 501.50,224.23 502.00,224.06 502.50,224.20 503.00,224.13 503.50,224.31 504.00,224.15 504.50,224.28 505.00,224.38 505.50,224.20 506.00,224.17 506.50,224.25 507.00,224.23 507.50,224.13 508.00,224.28 508.50,224.44 509.00,224.21 509.50,224.22 510.00,224.14 510.50,224.27 511.00,224.12 511.50,224.13 512.00,224.37 512.50,224.16 513.00,224.36 513.50,224.40 514.00,224.28 514.50,224.31 515.00,224.45 515.50,224.24 516.00,224.20 516.50,224.12 517.00,224.26 517.50,224.41 518.00,224.36 518.50,224.17 519.00,224.18 519.50,224.22 520.00,224.30 520.50,224.25 521.00,224.29 521.50,224.30 522.00,224.24 522.50,224.27 523.00,224.30 523.50,224.27 524.00,224.33 524.50,224.47 525.00,224.34 525.50,224.29 526.00,224.12 526.50,224.33 527.00,224.09 527.50,224.15 528.00,224.38 528.50,224.36 529.00,224.28 529.50,224.13 530.00,224.26 530.50,224.23" fill="none" stroke="#ff2a2a" stroke-width="0.5" stroke-linejoin="round" opacity="1.0"/>
<polyline points="347.00,264.02 347.50,264.06 348.00,264.06 348.50,264.16 349.00,263.96 349.50,264.17 350.00,264.10 350.50,264.28 351.00,264.29 351.50,264.33 352.00,264.27 352.50,264.19 353.00,264.28 353.50,264.34 354.00,264.13 354.50,264.25 355.00,264.19 355.50,264.33 356.00,264.11 356.50,264.16 357.00,264.23 357.50,264.21 358.00,264.02 358.50,264.22 359.00,264.18 359.50,264.16 360.00,264.17 360.50,264.21 361.00,264.00 361.50,264.34 362.00,264.10 362.50,263.96 363.00,264.18 363.50,264.33 364.00,264.13 364.50,264.34 365.00,264.34 365.50,264.09 366.00,263.93 366.50,264.05 367.00,264.30 367.50,264.09 368.00,264.02 368.50,264.04 369.00,264.17 369.50,264.16 370.00,264.24 370.50,264.22 371.00,263.89 371.50,263.55 372.00,263.06 372.50,263.57 373.00,263.87 373.50,263.99 374.00,264.35 374.50,264.14 375.00,264.21 375.50,264.39 376.00,264.21 376.50,264.10 377.00,264.04 377.50,263.64 378.00,263.11 378.30,262.72 378.50,263.05 379.00,263.56 379.50,263.96 380.00,264.05 380.50,264.17 381.00,264.14 381.50,264.26 382.00,264.07 382.50,264.15 383.00,264.31 383.50,264.08 384.00,264.14 384.50,264.22 385.00,263.99 385.50,263.48 386.00,262.98 386.50,263.76 387.00,263.93 387.50,264.11 388.00,263.94 388.50,264.15 389.00,263.98 389.50,263.89 390.00,263.72 390.50,263.74 391.00,263.49 391.50,263.17 392.00,261.90 392.50,258.56 393.00,252.89 393.30,250.65 393.50,250.69 394.00,247.40 394.50,228.26 394.70,224.50 395.00,234.09 395.50,255.77 396.00,261.63 396.50,262.77 397.00,263.10 397.50,263.28 398.00,263.26 398.50,263.01 399.00,262.96 399.50,261.64 400.00,254.42 400.50,229.49 400.80,218.95 401.00,224.24 401.50,250.94 402.00,261.07 402.50,262.36 403.00,262.68 403.50,261.98 404.00,256.37 404.50,248.78 405.00,256.31 405.50,262.33 406.00,263.22 406.50,263.54 407.00,263.34 407.50,261.85 408.00,259.72 408.50,261.78 409.00,263.51 409.50,263.64 410.00,263.86 410.50,263.68 411.00,263.52 411.50,262.88 412.00,259.32 412.50,254.73 413.00,259.15 413.50,262.62 414.00,262.39 414.50,257.54 415.00,251.24 415.50,257.66 416.00,262.40 416.50,262.95 417.00,262.84 417.50,260.49 418.00,251.39 418.30,247.65 418.50,249.44 419.00,259.34 419.50,262.90 420.00,263.44 420.50,263.70 421.00,263.53 421.50,263.44 422.00,263.21 422.50,260.69 423.00,257.99 423.50,259.69 424.00,258.53 424.50,241.58 425.00,218.98 425.50,241.40 426.00,259.25 426.50,262.30 427.00,263.01 427.50,263.34 428.00,263.27 428.50,263.36 429.00,261.96 429.50,257.85 429.70,257.01 430.00,258.48 430.50,262.08 431.00,261.54 431.50,255.72 432.00,247.72 432.50,255.63 433.00,262.19 433.50,263.34 434.00,263.59 434.50,263.69 435.00,263.76 435.50,263.72 436.00,263.47 436.50,263.36 437.00,262.74 437.50,259.43 438.00,250.38 438.20,248.39 438.50,250.06 439.00,249.70 439.50,240.89 439.60,240.46 440.00,247.01 440.50,258.17 441.00,262.32 441.50,263.31 442.00,263.54 442.50,263.80 443.00,263.95 443.50,263.76 444.00,263.71 444.50,262.36 445.00,260.69 445.50,262.31 446.00,263.67 446.50,263.76 447.00,264.05 447.50,264.18 448.00,263.92 448.50,264.01 449.00,264.19 449.50,264.05 450.00,263.99 450.50,263.86 451.00,263.62 451.50,261.45 452.00,257.19 452.10,256.83 452.50,259.37 453.00,263.01 453.50,263.52 454.00,262.85 454.50,260.17 454.70,259.49 455.00,260.69 455.50,263.21 456.00,263.61 456.50,263.18 457.00,261.40 457.30,260.19 457.50,260.70 458.00,263.13 458.50,263.87 459.00,263.87 459.50,263.86 460.00,264.05 460.50,264.09 461.00,263.95 461.50,263.40 462.00,260.78 462.50,257.16 463.00,260.55 463.50,263.55 464.00,263.74 464.50,263.94 465.00,263.95 465.50,264.02 466.00,263.12 466.50,260.74 466.80,259.55 467.00,260.28 467.50,262.93 468.00,263.93 468.50,263.92 469.00,264.08 469.50,263.99 470.00,264.03 470.50,264.03 471.00,263.98 471.50,262.76 472.00,261.47 472.50,262.72 473.00,263.80 473.50,263.99 474.00,264.09 474.50,264.19 475.00,264.01 475.50,264.19 476.00,264.01 476.50,264.10 477.00,263.81 477.50,262.79 478.00,261.43 478.50,262.93 479.00,263.90 479.50,264.18 480.00,264.08 480.50,264.11 481.00,264.30 481.50,263.98 482.00,264.06 482.50,264.12 483.00,264.31 483.50,264.03 484.00,264.01 484.50,263.23 485.00,261.95 485.50,263.06 486.00,264.10 486.50,264.04 487.00,264.02 487.50,264.22 488.00,264.10 488.50,264.28 489.00,264.20 489.50,263.96 490.00,264.15 490.50,264.08 491.00,263.81 491.50,262.94 492.00,261.30 492.50,262.70 493.00,263.83 493.50,264.16 494.00,263.97 494.50,264.08 495.00,264.08 495.50,264.01 496.00,264.12 496.50,264.04 497.00,264.11 497.50,264.18 498.00,264.04 498.50,264.01 499.00,263.84 499.50,262.99 500.00,261.82 500.50,262.96 501.00,263.95 501.50,264.01 502.00,264.46 502.50,264.07 503.00,264.20 503.50,264.01 504.00,264.13 504.50,264.10 505.00,264.15 505.50,264.28 506.00,264.11 506.50,263.97 507.00,263.93 507.50,262.88 508.00,261.77 508.50,263.14 509.00,264.01 509.50,264.20 510.00,264.19 510.50,264.15 511.00,264.00 511.50,264.11 512.00,264.10 512.50,264.22 513.00,264.24 513.50,264.15 514.00,263.86 514.50,263.27 515.00,262.13 515.50,263.06 516.00,263.96 516.50,264.17 517.00,264.15 517.50,264.14 518.00,264.20 518.50,264.16 519.00,264.17 519.50,263.98 520.00,263.97 520.50,264.26 521.00,263.73 521.50,262.88 522.00,261.51 522.50,262.85 523.00,263.81 523.50,264.18 524.00,264.15 524.50,264.09 525.00,263.98 525.50,264.07 526.00,263.85 526.50,262.86 527.00,261.82 527.50,263.05 528.00,264.01 528.50,264.11 529.00,264.12 529.50,264.27 530.00,264.25 530.50,264.41" fill="none" stroke="#5a5aff" stroke-width="0.55" stroke-linejoin="round" opacity="1.0"/>
<line x1="208.60" y1="283.60" x2="208.60" y2="423.30" stroke="#333" stroke-width="0.9"/>
<line x1="208.60" y1="423.30" x2="212.60" y2="423.30" stroke="#333" stroke-width="0.8"/>
<line x1="208.60" y1="420.20" x2="211.10" y2="420.20" stroke="#666" stroke-width="0.6"/>
<line x1="208.60" y1="417.11" x2="211.10" y2="417.11" stroke="#666" stroke-width="0.6"/>
<line x1="208.60" y1="414.01" x2="211.10" y2="414.01" stroke="#666" stroke-width="0.6"/>
<line x1="208.60" y1="410.92" x2="211.10" y2="410.92" stroke="#666" stroke-width="0.6"/>
<line x1="208.60" y1="407.82" x2="212.60" y2="407.82" stroke="#333" stroke-width="0.8"/>
<line x1="208.60" y1="404.73" x2="211.10" y2="404.73" stroke="#666" stroke-width="0.6"/>
<line x1="208.60" y1="401.63" x2="211.10" y2="401.63" stroke="#666" stroke-width="0.6"/>
<line x1="208.60" y1="398.54" x2="211.10" y2="398.54" stroke="#666" stroke-width="0.6"/>
<line x1="208.60" y1="395.44" x2="211.10" y2="395.44" stroke="#666" stroke-width="0.6"/>
<line x1="208.60" y1="392.34" x2="212.60" y2="392.34" stroke="#333" stroke-width="0.8"/>
<line x1="208.60" y1="389.25" x2="211.10" y2="389.25" stroke="#666" stroke-width="0.6"/>
<line x1="208.60" y1="386.15" x2="211.10" y2="386.15" stroke="#666" stroke-width="0.6"/>
<line x1="208.60" y1="383.06" x2="211.10" y2="383.06" stroke="#666" stroke-width="0.6"/>
<line x1="208.60" y1="379.96" x2="211.10" y2="379.96" stroke="#666" stroke-width="0.6"/>
<line x1="208.60" y1="376.87" x2="212.60" y2="376.87" stroke="#333" stroke-width="0.8"/>
<line x1="208.60" y1="373.77" x2="211.10" y2="373.77" stroke="#666" stroke-width="0.6"/>
<line x1="208.60" y1="370.68" x2="211.10" y2="370.68" stroke="#666" stroke-width="0.6"/>
<line x1="208.60" y1="367.58" x2="211.10" y2="367.58" stroke="#666" stroke-width="0.6"/>
<line x1="208.60" y1="364.48" x2="211.10" y2="364.48" stroke="#666" stroke-width="0.6"/>
<line x1="208.60" y1="361.39" x2="212.60" y2="361.39" stroke="#333" stroke-width="0.8"/>
<line x1="208.60" y1="358.29" x2="211.10" y2="358.29" stroke="#666" stroke-width="0.6"/>
<line x1="208.60" y1="355.20" x2="211.10" y2="355.20" stroke="#666" stroke-width="0.6"/>
<line x1="208.60" y1="352.10" x2="211.10" y2="352.10" stroke="#666" stroke-width="0.6"/>
<line x1="208.60" y1="349.01" x2="211.10" y2="349.01" stroke="#666" stroke-width="0.6"/>
<line x1="208.60" y1="345.91" x2="212.60" y2="345.91" stroke="#333" stroke-width="0.8"/>
<line x1="208.60" y1="342.82" x2="211.10" y2="342.82" stroke="#666" stroke-width="0.6"/>
<line x1="208.60" y1="339.72" x2="211.10" y2="339.72" stroke="#666" stroke-width="0.6"/>
<line x1="208.60" y1="336.62" x2="211.10" y2="336.62" stroke="#666" stroke-width="0.6"/>
<line x1="208.60" y1="333.53" x2="211.10" y2="333.53" stroke="#666" stroke-width="0.6"/>
<line x1="208.60" y1="330.43" x2="212.60" y2="330.43" stroke="#333" stroke-width="0.8"/>
<line x1="208.60" y1="327.34" x2="211.10" y2="327.34" stroke="#666" stroke-width="0.6"/>
<line x1="208.60" y1="324.24" x2="211.10" y2="324.24" stroke="#666" stroke-width="0.6"/>
<line x1="208.60" y1="321.15" x2="211.10" y2="321.15" stroke="#666" stroke-width="0.6"/>
<line x1="208.60" y1="318.05" x2="211.10" y2="318.05" stroke="#666" stroke-width="0.6"/>
<line x1="208.60" y1="314.96" x2="212.60" y2="314.96" stroke="#333" stroke-width="0.8"/>
<line x1="208.60" y1="311.86" x2="211.10" y2="311.86" stroke="#666" stroke-width="0.6"/>
<line x1="208.60" y1="308.76" x2="211.10" y2="308.76" stroke="#666" stroke-width="0.6"/>
<line x1="208.60" y1="305.67" x2="211.10" y2="305.67" stroke="#666" stroke-width="0.6"/>
<line x1="208.60" y1="302.57" x2="211.10" y2="302.57" stroke="#666" stroke-width="0.6"/>
<line x1="208.60" y1="299.48" x2="212.60" y2="299.48" stroke="#333" stroke-width="0.8"/>
<line x1="208.60" y1="296.38" x2="211.10" y2="296.38" stroke="#666" stroke-width="0.6"/>
<line x1="208.60" y1="293.29" x2="211.10" y2="293.29" stroke="#666" stroke-width="0.6"/>
<line x1="208.60" y1="290.19" x2="211.10" y2="290.19" stroke="#666" stroke-width="0.6"/>
<line x1="208.60" y1="287.10" x2="211.10" y2="287.10" stroke="#666" stroke-width="0.6"/>
<line x1="208.60" y1="284.00" x2="212.60" y2="284.00" stroke="#333" stroke-width="0.8"/>
<line x1="208.60" y1="423.60" x2="437.10" y2="423.60" stroke="#333" stroke-width="1.1"/>
<line x1="208.50" y1="423.60" x2="208.50" y2="421.40" stroke="#333" stroke-width="0.8"/>
<line x1="265.35" y1="423.60" x2="265.35" y2="421.40" stroke="#333" stroke-width="0.8"/>
<line x1="322.20" y1="423.60" x2="322.20" y2="421.40" stroke="#333" stroke-width="0.8"/>
<line x1="379.05" y1="423.60" x2="379.05" y2="421.40" stroke="#333" stroke-width="0.8"/>
<line x1="435.90" y1="423.60" x2="435.90" y2="421.40" stroke="#333" stroke-width="0.8"/>
<text x="0" y="0" transform="translate(206.00 425.74) scale(1 1.13)" font-size="8.0" fill="#383838" text-anchor="end" stroke="#383838" stroke-width="0.18">0</text>
<text x="0" y="0" transform="translate(206.00 409.74) scale(1 1.13)" font-size="8.0" fill="#383838" text-anchor="end" stroke="#383838" stroke-width="0.18">20</text>
<text x="0" y="0" transform="translate(206.00 392.34) scale(1 1.13)" font-size="8.0" fill="#383838" text-anchor="end" stroke="#383838" stroke-width="0.18">40</text>
<text x="0" y="0" transform="translate(206.00 374.54) scale(1 1.13)" font-size="8.0" fill="#383838" text-anchor="end" stroke="#383838" stroke-width="0.18">60</text>
<text x="0" y="0" transform="translate(206.00 357.44) scale(1 1.13)" font-size="8.0" fill="#383838" text-anchor="end" stroke="#383838" stroke-width="0.18">80</text>
<text x="0" y="0" transform="translate(206.00 340.54) scale(1 1.13)" font-size="8.0" fill="#383838" text-anchor="end" stroke="#383838" stroke-width="0.18">100</text>
<text x="0" y="0" transform="translate(206.00 322.14) scale(1 1.13)" font-size="8.0" fill="#383838" text-anchor="end" stroke="#383838" stroke-width="0.18">120</text>
<text x="0" y="0" transform="translate(206.00 305.14) scale(1 1.13)" font-size="8.0" fill="#383838" text-anchor="end" stroke="#383838" stroke-width="0.18">140</text>
<text x="0" y="0" transform="translate(206.00 288.14) scale(1 1.13)" font-size="8.0" fill="#383838" text-anchor="end" stroke="#383838" stroke-width="0.18">160</text>
<text x="0" y="0" transform="translate(208.40 432.65) scale(1 1.1)" font-size="8.0" fill="#383838" text-anchor="middle" stroke="#383838" stroke-width="0.18">0</text>
<text x="0" y="0" transform="translate(263.60 432.65) scale(1 1.1)" font-size="8.0" fill="#383838" text-anchor="middle" stroke="#383838" stroke-width="0.18">10</text>
<text x="0" y="0" transform="translate(319.20 432.65) scale(1 1.1)" font-size="8.0" fill="#383838" text-anchor="middle" stroke="#383838" stroke-width="0.18">20</text>
<text x="0" y="0" transform="translate(377.60 432.65) scale(1 1.1)" font-size="8.0" fill="#383838" text-anchor="middle" stroke="#383838" stroke-width="0.18">30</text>
<text x="0" y="0" transform="translate(433.80 432.65) scale(1 1.1)" font-size="8.0" fill="#383838" text-anchor="middle" stroke="#383838" stroke-width="0.18">40</text>
<text x="191.34" y="361.25" font-size="7.6" fill="#333" text-anchor="middle" textLength="66.90" lengthAdjust="spacingAndGlyphs" transform="rotate(-90 191.34 361.25)" stroke="#333" stroke-width="0.22">Intensity (arb. units)</text>
<text x="341.00" y="435.01" font-size="9.12" fill="#333" textLength="19.00" lengthAdjust="spacingAndGlyphs" stroke="#333" stroke-width="0.1">2θ (°)</text>
<text x="218.00" y="294.37" font-size="11.29" fill="#1a1a1a" font-weight="bold" textLength="12.50" lengthAdjust="spacingAndGlyphs" style='font-family:"Liberation Serif", serif' stroke="#1a1a1a" stroke-width="0.55">(e)</text>
<text x="334.50" y="320.93" font-size="7.9" fill="#1a8a1a" textLength="101.30" lengthAdjust="spacingAndGlyphs" stroke="#1a8a1a" stroke-width="0.12">Oxymetholone: cyclodextrin complex</text>
<text x="390.00" y="371.12" font-size="8.2" fill="#ff2a2a" textLength="40.00" lengthAdjust="spacingAndGlyphs" stroke="#ff2a2a" stroke-width="0.12">Oxymetholone</text>
<text x="395.10" y="413.22" font-size="8.2" fill="#5a5aff" textLength="33.70" lengthAdjust="spacingAndGlyphs" stroke="#5a5aff" stroke-width="0.12">Cyclodextrin</text>
<polyline points="225.50,330.95 226.00,331.30 226.50,330.77 227.00,331.50 227.50,331.69 228.00,331.25 228.50,331.55 229.00,331.53 229.50,331.38 230.00,331.27 230.50,330.96 231.00,332.03 231.50,331.63 232.00,332.44 232.50,331.97 233.00,331.84 233.50,331.60 234.00,332.25 234.50,331.71 235.00,332.37 235.50,331.82 236.00,332.03 236.50,331.56 237.00,332.75 237.50,332.05 238.00,332.00 238.50,332.39 239.00,331.91 239.50,332.44 240.00,331.88 240.50,332.40 241.00,331.90 241.50,331.62 242.00,331.80 242.50,330.27 243.00,327.41 243.20,326.58 243.50,328.11 244.00,331.22 244.50,332.02 245.00,332.30 245.50,332.67 246.00,332.33 246.50,332.18 247.00,332.12 247.50,332.33 248.00,332.12 248.50,332.73 249.00,330.62 249.50,326.37 249.80,324.78 250.00,325.98 250.50,330.35 251.00,331.88 251.50,332.22 252.00,332.46 252.50,332.91 253.00,332.37 253.50,332.67 254.00,332.54 254.50,332.85 255.00,332.89 255.50,332.35 256.00,333.53 256.50,332.89 257.00,332.69 257.50,332.59 258.00,332.80 258.50,332.90 259.00,333.09 259.50,332.92 260.00,333.08 260.50,332.44 261.00,332.69 261.50,332.60 262.00,332.93 262.50,332.99 263.00,332.37 263.50,332.67 264.00,332.78 264.50,332.19 265.00,327.79 265.50,320.91 265.60,320.45 266.00,324.87 266.50,331.63 267.00,332.07 267.50,332.57 268.00,332.88 268.50,332.87 269.00,332.77 269.50,333.25 270.00,333.28 270.50,333.11 271.00,333.13 271.50,332.80 272.00,332.45 272.50,333.43 273.00,332.44 273.50,333.35 274.00,332.56 274.50,332.55 275.00,332.24 275.50,332.25 276.00,331.15 276.50,329.38 277.00,316.25 277.50,288.90 277.70,283.90 278.00,294.00 278.50,320.14 279.00,330.28 279.50,331.76 280.00,331.57 280.50,332.78 281.00,331.78 281.50,333.06 282.00,332.11 282.50,332.72 283.00,333.00 283.50,332.77 284.00,332.44 284.50,333.07 285.00,331.70 285.50,331.20 286.00,332.66 286.50,332.45 287.00,332.86 287.50,333.04 288.00,332.75 288.50,332.83 289.00,332.74 289.50,332.68 290.00,332.80 290.50,332.19 291.00,328.86 291.50,320.57 291.70,318.42 292.00,321.39 292.50,327.15 293.00,326.10 293.10,326.26 293.50,328.36 294.00,330.83 294.50,331.85 295.00,331.71 295.50,328.15 296.00,318.47 296.20,316.84 296.50,320.46 297.00,327.54 297.50,325.57 297.90,321.72 298.00,322.39 298.50,328.99 299.00,332.41 299.50,332.65 300.00,332.46 300.50,332.59 301.00,332.91 301.50,332.48 302.00,332.77 302.50,332.99 303.00,333.08 303.50,332.71 304.00,332.90 304.50,333.17 305.00,332.82 305.50,332.16 306.00,332.65 306.50,332.52 307.00,332.05 307.50,331.60 308.00,327.64 308.50,310.56 308.70,304.34 309.00,307.93 309.50,313.58 309.60,313.99 310.00,319.58 310.50,327.45 311.00,330.46 311.50,332.47 312.00,331.04 312.50,328.97 312.80,328.15 313.00,328.20 313.50,329.61 314.00,323.17 314.40,318.09 314.50,317.28 315.00,316.59 315.40,309.03 315.50,310.40 316.00,327.06 316.50,331.76 317.00,332.57 317.50,332.84 318.00,332.40 318.50,333.06 319.00,332.48 319.50,332.72 320.00,331.95 320.50,331.32 321.00,331.80 321.50,331.94 322.00,330.35 322.10,330.14 322.50,331.69 323.00,332.75 323.50,333.00 324.00,333.18 324.50,332.58 325.00,333.15 325.50,332.49 326.00,332.61 326.50,330.57 327.00,327.07 327.10,327.00 327.50,329.08 328.00,331.76 328.50,332.95 329.00,333.08 329.50,332.78 330.00,331.65 330.50,326.37 330.80,325.03 331.00,325.92 331.50,330.17 332.00,332.57 332.50,332.82 333.00,332.45 333.50,332.67 334.00,332.92 334.50,332.76 335.00,331.35 335.40,329.69 335.50,329.80 336.00,331.76 336.50,332.81 337.00,332.81 337.50,332.96 338.00,333.25 338.50,333.25 339.00,333.08 339.50,332.68 340.00,332.80 340.50,332.71 341.00,331.37 341.30,330.82 341.50,330.47 342.00,332.16 342.50,332.47 343.00,331.96 343.50,332.35 344.00,331.09 344.50,327.31 344.90,323.39 345.00,323.37 345.50,329.37 346.00,332.45 346.50,333.35 347.00,333.18 347.50,333.47 348.00,333.18 348.50,333.41 349.00,333.31 349.50,332.31 350.00,330.94 350.50,332.37 351.00,332.78 351.50,333.49 352.00,333.00 352.50,332.88 353.00,333.62 353.50,332.77 354.00,332.08 354.50,330.59 355.00,331.77 355.50,332.65 356.00,332.16 356.50,331.38 357.00,329.43 357.50,330.67 358.00,332.87 358.50,333.22 359.00,332.41 359.50,332.98 360.00,333.47 360.50,332.96 361.00,333.12 361.50,333.14 362.00,332.54 362.50,332.95 363.00,333.46 363.50,333.67 364.00,333.21 364.50,333.21 365.00,333.41 365.50,333.30 366.00,333.40 366.50,332.99 367.00,333.26 367.50,333.41 368.00,333.44 368.50,332.79 369.00,333.51 369.50,333.30 370.00,333.31 370.50,332.73 371.00,333.28 371.50,332.79 372.00,332.51 372.50,333.29 373.00,333.26 373.50,333.27 374.00,333.30 374.50,333.24 375.00,333.54 375.50,333.37 376.00,333.33 376.50,332.91 377.00,331.47 377.30,331.24 377.50,331.69 378.00,331.71 378.50,332.66 379.00,333.19 379.50,332.75 380.00,333.55 380.50,333.75 381.00,332.91 381.50,333.06 382.00,333.58 382.50,333.72 383.00,332.82 383.50,333.48 384.00,333.26 384.50,332.77 385.00,333.20 385.50,333.16 386.00,333.36 386.50,333.34 387.00,333.25 387.50,333.30 388.00,333.29 388.50,333.49 389.00,333.63 389.50,333.63 390.00,333.08 390.50,333.11 391.00,333.14 391.50,333.77 392.00,333.49 392.50,333.12 393.00,333.00 393.50,333.04 394.00,333.35 394.50,333.00 395.00,333.32 395.50,333.71 396.00,333.19 396.50,333.37 397.00,332.24 397.50,332.07 398.00,331.57 398.50,331.68 399.00,333.11 399.50,333.11 400.00,333.05 400.50,333.21 401.00,333.58 401.50,332.86 402.00,333.17 402.50,332.02 403.00,331.33 403.50,332.15 404.00,333.11 404.50,333.51 405.00,333.32 405.50,333.48 406.00,333.51 406.50,333.38 407.00,333.13 407.50,332.06 408.00,330.94 408.50,332.39 409.00,333.58 409.50,333.70 410.00,332.70 410.50,331.97 411.00,330.58 411.50,332.25 412.00,333.32 412.50,332.77 413.00,333.29 413.50,332.60 414.00,332.32 414.50,329.86 414.80,328.96 415.00,330.10 415.50,331.97 416.00,332.90 416.50,333.20 417.00,333.33 417.50,331.51 418.00,331.22 418.50,331.81 419.00,332.75 419.50,333.27 420.00,333.46 420.50,334.04 421.00,333.29 421.50,331.72 422.00,330.39 422.50,331.61 423.00,333.21 423.50,333.46 424.00,333.12 424.50,333.40 425.00,331.63 425.50,330.80 426.00,331.86 426.50,332.89 427.00,332.74 427.50,333.51 428.00,332.74 428.50,331.91 429.00,330.91 429.50,332.44 430.00,333.40 430.50,332.57 431.00,333.18 431.50,333.15 432.00,332.89 432.50,331.93 433.00,330.80 433.50,332.35 434.00,332.97 434.50,332.89 435.00,332.86 435.50,333.39 436.00,332.84 436.50,333.58" fill="none" stroke="#1a8a1a" stroke-width="0.5" stroke-linejoin="round" opacity="1.0"/>
<polyline points="225.50,330.95 226.00,331.30 226.50,330.77 227.00,331.50 227.50,331.69 228.00,331.25 228.50,331.55 229.00,331.53 229.50,331.38 230.00,331.27 230.50,330.96 231.00,332.03 231.50,331.63 232.00,332.44 232.50,331.97 233.00,331.84 233.50,331.60 234.00,332.25 234.50,331.71 235.00,332.37 235.50,331.82 236.00,332.03 236.50,331.56 237.00,332.75 237.50,332.05 238.00,332.00 238.50,332.39 239.00,331.91 239.50,332.44 240.00,331.88 240.50,332.40 241.00,331.90 241.50,331.62 242.00,331.80 242.50,331.19 243.00,331.21 243.20,331.21 243.50,331.22 244.00,331.24 244.50,332.02 245.00,332.30 245.50,332.67 246.00,332.33 246.50,332.18 247.00,332.12 247.50,332.33 248.00,332.12 248.50,332.73 249.00,331.42 249.50,331.43 249.80,331.44 250.00,331.45 250.50,331.47 251.00,331.88 251.50,332.22 252.00,332.46 252.50,332.91 253.00,332.37 253.50,332.67 254.00,332.54 254.50,332.85 255.00,332.89 255.50,332.35 256.00,333.53 256.50,332.89 257.00,332.69 257.50,332.59 258.00,332.80 258.50,332.90 259.00,333.09 259.50,332.92 260.00,333.08 260.50,332.44 261.00,332.69 261.50,332.60 262.00,332.93 262.50,332.99 263.00,332.37 263.50,332.67 264.00,332.78 264.50,332.19 265.00,331.80 265.50,331.80 265.60,331.80 266.00,331.80 266.50,331.80 267.00,332.07 267.50,332.57 268.00,332.88 268.50,332.87 269.00,332.77 269.50,333.25 270.00,333.28 270.50,333.11 271.00,333.13 271.50,332.80 272.00,332.45 272.50,333.43 273.00,332.44 273.50,333.35 274.00,332.56 274.50,332.55 275.00,332.24 275.50,332.25 276.00,331.80 276.50,331.80 277.00,331.80 277.50,331.80 277.70,331.80 278.00,331.80 278.50,331.80 279.00,331.80 279.50,331.80 280.00,331.80 280.50,332.78 281.00,331.80 281.50,333.06 282.00,332.11 282.50,332.72 283.00,333.00 283.50,332.77 284.00,332.44 284.50,333.07 285.00,331.80 285.50,331.80 286.00,332.66 286.50,332.45 287.00,332.86 287.50,333.04 288.00,332.75 288.50,332.83 289.00,332.74 289.50,332.68 290.00,332.80 290.50,332.19 291.00,331.80 291.50,331.80 291.70,331.80 292.00,331.80 292.50,331.80 293.00,331.80 293.10,331.80 293.50,331.80 294.00,331.80 294.50,331.85 295.00,331.80 295.50,331.80 296.00,331.80 296.20,331.80 296.50,331.80 297.00,331.80 297.50,331.80 297.90,331.80 298.00,331.80 298.50,331.80 299.00,332.41 299.50,332.65 300.00,332.46 300.50,332.59 301.00,332.91 301.50,332.48 302.00,332.77 302.50,332.99 303.00,333.08 303.50,332.71 304.00,332.90 304.50,333.17 305.00,332.82 305.50,332.16 306.00,332.65 306.50,332.52 307.00,332.05 307.50,331.83 308.00,331.83 308.50,331.83 308.70,331.83 309.00,331.84 309.50,331.84 309.60,331.84 310.00,331.84 310.50,331.84 311.00,331.84 311.50,332.47 312.00,331.85 312.50,331.85 312.80,331.85 313.00,331.85 313.50,331.85 314.00,331.86 314.40,331.86 314.50,331.86 315.00,331.86 315.40,331.86 315.50,331.86 316.00,331.86 316.50,331.87 317.00,332.57 317.50,332.84 318.00,332.40 318.50,333.06 319.00,332.48 319.50,332.72 320.00,331.95 320.50,331.88 321.00,331.88 321.50,331.94 322.00,331.89 322.10,331.89 322.50,331.89 323.00,332.75 323.50,333.00 324.00,333.18 324.50,332.58 325.00,333.15 325.50,332.49 326.00,332.61 326.50,331.91 327.00,331.91 327.10,331.91 327.50,331.91 328.00,331.91 328.50,332.95 329.00,333.08 329.50,332.78 330.00,331.92 330.50,331.92 330.80,331.92 331.00,331.92 331.50,331.93 332.00,332.57 332.50,332.82 333.00,332.45 333.50,332.67 334.00,332.92 334.50,332.76 335.00,331.94 335.40,331.94 335.50,331.94 336.00,331.94 336.50,332.81 337.00,332.81 337.50,332.96 338.00,333.25 338.50,333.25 339.00,333.08 339.50,332.68 340.00,332.80 340.50,332.71 341.00,331.96 341.30,331.97 341.50,331.97 342.00,332.16 342.50,332.47 343.00,331.97 343.50,332.35 344.00,331.98 344.50,331.98 344.90,331.98 345.00,331.98 345.50,331.98 346.00,332.45 346.50,333.35 347.00,333.18 347.50,333.47 348.00,333.18 348.50,333.41 349.00,333.31 349.50,332.31 350.00,332.00 350.50,332.37 351.00,332.78 351.50,333.49 352.00,333.00 352.50,332.88 353.00,333.62 353.50,332.77 354.00,332.08 354.50,332.02 355.00,332.02 355.50,332.65 356.00,332.16 356.50,332.03 357.00,332.03 357.50,332.03 358.00,332.87 358.50,333.22 359.00,332.41 359.50,332.98 360.00,333.47 360.50,332.96 361.00,333.12 361.50,333.14 362.00,332.54 362.50,332.95 363.00,333.46 363.50,333.67 364.00,333.21 364.50,333.21 365.00,333.41 365.50,333.30 366.00,333.40 366.50,332.99 367.00,333.26 367.50,333.41 368.00,333.44 368.50,332.79 369.00,333.51 369.50,333.30 370.00,333.31 370.50,332.73 371.00,333.28 371.50,332.79 372.00,332.51 372.50,333.29 373.00,333.26 373.50,333.27 374.00,333.30 374.50,333.24 375.00,333.54 375.50,333.37 376.00,333.33 376.50,332.91 377.00,332.11 377.30,332.11 377.50,332.11 378.00,332.11 378.50,332.66 379.00,333.19 379.50,332.75 380.00,333.55 380.50,333.75 381.00,332.91 381.50,333.06 382.00,333.58 382.50,333.72 383.00,332.82 383.50,333.48 384.00,333.26 384.50,332.77 385.00,333.20 385.50,333.16 386.00,333.36 386.50,333.34 387.00,333.25 387.50,333.30 388.00,333.29 388.50,333.49 389.00,333.63 389.50,333.63 390.00,333.08 390.50,333.11 391.00,333.14 391.50,333.77 392.00,333.49 392.50,333.12 393.00,333.00 393.50,333.04 394.00,333.35 394.50,333.00 395.00,333.32 395.50,333.71 396.00,333.19 396.50,333.37 397.00,332.24 397.50,332.19 398.00,332.19 398.50,332.19 399.00,333.11 399.50,333.11 400.00,333.05 400.50,333.21 401.00,333.58 401.50,332.86 402.00,333.17 402.50,332.20 403.00,332.20 403.50,332.20 404.00,333.11 404.50,333.51 405.00,333.32 405.50,333.48 406.00,333.51 406.50,333.38 407.00,333.13 407.50,332.20 408.00,332.20 408.50,332.39 409.00,333.58 409.50,333.70 410.00,332.70 410.50,332.20 411.00,332.20 411.50,332.25 412.00,333.32 412.50,332.77 413.00,333.29 413.50,332.60 414.00,332.32 414.50,332.20 414.80,332.20 415.00,332.20 415.50,332.20 416.00,332.90 416.50,333.20 417.00,333.33 417.50,332.20 418.00,332.20 418.50,332.20 419.00,332.75 419.50,333.27 420.00,333.46 420.50,334.04 421.00,333.29 421.50,332.20 422.00,332.20 422.50,332.20 423.00,333.21 423.50,333.46 424.00,333.12 424.50,333.40 425.00,332.20 425.50,332.20 426.00,332.20 426.50,332.89 427.00,332.74 427.50,333.51 428.00,332.74 428.50,332.20 429.00,332.20 429.50,332.44 430.00,333.40 430.50,332.57 431.00,333.18 431.50,333.15 432.00,332.89 432.50,332.20 433.00,332.20 433.50,332.35 434.00,332.97 434.50,332.89 435.00,332.86 435.50,333.39 436.00,332.84 436.50,333.58" fill="none" stroke="#1a8a1a" stroke-width="1.1" stroke-linejoin="round" opacity="1.0"/>
<polyline points="225.40,362.95 225.75,363.33 226.10,363.49 226.45,364.20 226.80,364.14 227.15,364.51 227.50,365.06 227.85,365.25 228.20,365.26 228.55,365.00 228.90,365.04 229.25,365.21 229.60,365.62 229.95,365.95 230.30,365.71 230.65,365.82 231.00,366.70 231.35,365.87 231.70,366.85 232.05,367.32 232.40,366.85 232.75,366.99 233.10,367.34 233.45,368.19 233.80,368.02 234.15,367.41 234.50,368.16 234.85,368.88 235.20,368.93 235.55,368.84 235.90,368.51 236.25,367.85 236.60,368.82 236.95,368.73 237.30,368.91 237.65,369.63 238.00,369.09 238.35,369.20 238.70,369.40 239.05,369.09 239.40,368.98 239.75,369.01 240.10,369.73 240.45,369.68 240.80,369.32 241.15,370.09 241.50,369.74 241.85,369.15 242.20,370.05 242.55,369.79 242.90,369.35 243.25,370.20 243.60,369.90 243.95,369.94 244.30,370.41 244.65,369.32 245.00,369.76 245.35,370.17 245.70,370.50 246.05,370.18 246.40,370.09 246.75,370.09 247.10,370.46 247.45,370.66 247.80,369.21 248.15,364.77 248.50,358.98 248.85,365.53 249.20,369.57 249.55,370.84 249.90,371.10 250.25,370.67 250.60,370.83 250.95,371.25 251.30,370.91 251.65,370.58 252.00,371.14 252.35,370.86 252.70,371.37 253.05,371.09 253.40,371.25 253.75,371.55 254.10,371.35 254.45,371.19 254.80,371.09 255.15,372.14 255.50,371.95 255.85,371.02 256.20,371.22 256.55,371.86 256.90,371.47 257.25,371.72 257.60,372.04 257.95,371.83 258.30,371.78 258.65,371.69 259.00,371.86 259.35,372.06 259.70,372.57 260.05,372.37 260.40,371.96 260.75,372.39 261.10,372.14 261.45,371.62 261.80,372.14 262.15,372.56 262.50,372.03 262.85,372.60 263.20,372.20 263.55,372.34 263.90,371.93 264.25,373.09 264.60,372.55 264.95,372.77 265.30,372.28 265.65,371.95 266.00,372.90 266.35,372.25 266.70,373.10 267.05,372.49 267.40,373.13 267.75,372.34 268.10,372.00 268.45,372.88 268.80,372.63 269.15,372.68 269.50,373.06 269.85,372.41 270.20,372.29 270.55,372.36 270.90,372.20 271.25,372.18 271.60,372.38 271.95,372.51 272.30,372.71 272.65,372.47 273.00,372.85 273.35,373.18 273.70,372.86 274.05,373.09 274.40,372.65 274.75,373.08 275.10,373.15 275.45,372.77 275.80,372.45 276.15,372.89 276.50,372.89 276.85,373.28 277.20,372.29 277.55,370.48 277.90,361.93 278.00,361.82 278.25,365.74 278.60,371.44 278.95,372.48 279.30,372.84 279.65,373.50 280.00,372.94 280.35,373.42 280.70,373.01 281.05,373.09 281.40,372.26 281.75,373.10 282.10,373.29 282.45,372.70 282.80,372.88 283.15,372.80 283.50,373.81 283.85,372.75 284.20,372.83 284.55,372.14 284.90,372.49 285.25,373.04 285.60,372.42 285.95,371.47 286.30,369.14 286.65,362.43 286.70,362.27 287.00,367.36 287.35,371.80 287.70,373.74 288.05,372.76 288.40,373.17 288.75,372.62 289.10,372.85 289.45,372.54 289.80,373.10 290.15,372.85 290.50,372.56 290.85,372.06 291.20,372.58 291.55,371.42 291.90,362.50 292.25,342.87 292.30,342.54 292.60,356.87 292.95,370.19 293.30,372.75 293.65,372.67 294.00,373.01 294.35,372.55 294.70,373.84 295.05,372.93 295.40,373.33 295.75,373.46 296.10,373.00 296.45,373.27 296.80,373.53 297.15,373.28 297.50,373.21 297.85,373.21 298.20,373.08 298.55,373.25 298.90,373.40 299.25,373.34 299.60,373.25 299.95,372.19 300.30,370.99 300.60,370.99 300.65,370.85 301.00,371.85 301.35,372.60 301.70,373.32 302.05,373.52 302.40,373.73 302.75,373.21 303.10,373.54 303.45,373.66 303.80,374.20 304.15,373.62 304.50,373.82 304.85,373.61 305.20,372.99 305.55,374.08 305.90,373.87 306.25,374.01 306.60,373.05 306.95,373.43 307.30,373.07 307.65,371.67 308.00,367.59 308.35,342.26 308.60,325.10 308.70,328.01 309.05,359.93 309.40,371.11 309.75,372.41 310.10,373.45 310.45,374.13 310.80,373.85 311.15,374.16 311.50,374.50 311.85,374.23 312.20,373.90 312.55,373.25 312.90,373.10 313.25,369.49 313.60,366.04 313.95,369.92 314.30,373.32 314.65,373.59 315.00,374.41 315.35,374.33 315.70,374.79 316.05,374.56 316.40,374.91 316.75,374.43 317.10,374.55 317.45,374.54 317.80,374.69 318.15,374.70 318.50,375.21 318.85,374.52 319.20,374.90 319.55,374.52 319.90,374.45 320.25,374.75 320.60,374.45 320.95,375.02 321.30,374.72 321.65,374.80 322.00,375.13 322.35,375.49 322.70,374.81 323.05,374.34 323.40,374.86 323.75,374.98 324.10,375.34 324.45,374.91 324.80,374.48 325.15,374.50 325.50,373.43 325.80,372.40 325.85,372.58 326.20,373.56 326.55,375.31 326.90,374.70 327.25,374.88 327.60,375.03 327.95,375.32 328.30,375.01 328.65,375.29 329.00,375.43 329.35,375.79 329.70,375.11 330.05,375.07 330.40,375.07 330.75,374.58 331.10,374.81 331.45,375.25 331.80,375.26 332.15,376.06 332.50,375.63 332.85,375.49 333.20,375.72 333.55,375.04 333.90,375.07 334.25,375.02 334.60,375.22 334.95,375.98 335.30,375.20 335.65,375.09 336.00,375.32 336.35,375.58 336.70,375.47 337.05,375.60 337.40,374.94 337.75,375.06 338.10,375.27 338.45,375.39 338.80,375.81 339.15,374.96 339.50,375.59 339.85,375.31 340.20,375.59 340.55,375.19 340.90,374.96 341.25,375.80 341.60,375.52 341.95,374.80 342.30,375.66 342.65,375.12 343.00,375.42 343.35,375.45 343.70,375.03 344.05,375.83 344.40,375.31 344.75,376.01 345.10,375.65 345.45,375.66 345.80,375.58 346.15,376.13 346.50,375.16 346.85,375.24 347.20,375.28 347.55,375.86 347.90,375.83 348.25,375.52 348.60,375.58 348.95,374.96 349.30,375.97 349.65,375.42 350.00,375.53 350.35,375.40 350.70,375.70 351.05,375.42 351.40,375.53 351.75,375.52 352.10,375.33 352.45,375.30 352.80,375.62 353.15,375.62 353.50,375.73 353.85,375.96 354.20,375.10 354.55,374.90 354.90,375.36 355.25,375.90 355.60,375.48 355.95,374.91 356.30,376.01 356.65,375.65 357.00,375.01 357.35,375.23 357.70,375.52 358.05,375.31 358.40,375.45 358.75,375.66 359.10,375.49 359.45,375.94 359.80,375.43 360.15,375.97 360.50,375.30 360.85,375.11 361.20,374.81 361.55,375.20 361.90,375.50 362.25,375.77 362.60,374.35 362.95,375.42 363.30,375.06 363.65,375.38 364.00,374.38 364.35,373.82 364.50,374.17 364.70,373.85 365.05,374.60 365.40,375.51 365.75,375.47 366.10,375.36 366.45,374.93 366.80,375.34 367.15,374.93 367.50,375.52 367.85,375.64 368.20,375.47 368.55,376.03 368.90,375.07 369.25,375.53 369.60,375.36 369.95,374.75 370.30,374.58 370.65,373.44 370.90,373.05 371.00,372.72 371.35,374.11 371.70,374.70 372.05,375.76 372.40,375.96 372.75,375.48 373.10,375.52 373.45,375.12 373.80,375.47 374.15,375.36 374.50,375.55 374.85,375.04 375.20,376.04 375.55,375.55 375.90,375.83 376.25,375.65 376.60,375.40 376.95,376.10 377.30,375.84 377.65,375.03 378.00,375.49 378.35,375.42 378.70,375.24 379.05,376.18 379.40,375.11 379.75,375.98 380.10,374.96 380.45,375.93 380.80,375.33 381.15,374.79 381.50,375.58 381.85,375.65 382.20,375.21 382.55,375.84 382.90,374.97 383.25,375.85 383.60,375.69 383.95,376.06 384.30,375.38 384.65,375.78 385.00,375.32 385.35,375.76 385.70,375.58 386.05,375.75 386.40,375.10 386.75,375.66 387.10,375.62 387.45,375.97 387.80,375.40 388.15,375.45 388.50,375.70 388.85,375.66 389.20,374.71 389.55,375.41 389.90,375.76 390.25,375.38 390.60,374.91 390.95,375.37 391.30,375.45 391.65,375.09 392.00,375.25 392.35,374.62 392.70,374.74 393.05,374.98 393.40,375.77 393.75,375.49 394.10,375.85 394.45,375.54 394.80,375.13 395.15,375.13 395.50,375.73 395.85,374.99 396.20,375.00 396.55,375.77 396.90,375.24 397.25,375.14 397.60,376.00 397.95,375.22 398.30,375.68 398.65,375.48 399.00,375.54 399.35,375.51 399.70,375.81 400.05,375.95 400.40,375.21 400.75,375.97 401.10,375.43 401.45,375.44 401.80,375.71 402.15,375.33 402.50,375.21 402.85,375.96 403.20,375.32 403.55,374.84 403.90,374.48 404.25,375.59 404.60,375.45 404.95,376.03 405.30,375.14 405.65,375.12 406.00,375.51 406.35,375.91 406.70,375.93 407.05,375.51 407.40,375.30 407.75,375.54 408.10,375.96 408.45,375.47 408.80,375.36 409.15,375.64 409.50,375.56 409.85,375.53 410.20,376.13 410.55,375.70 410.90,375.54 411.25,375.39 411.60,375.42 411.95,375.66 412.30,375.72 412.65,375.31 413.00,375.34 413.35,375.42 413.70,375.22 414.05,375.84 414.40,375.23 414.75,375.55 415.10,375.80 415.45,375.20 415.80,375.24 416.15,375.46 416.50,375.66 416.85,375.56 417.20,375.52 417.55,375.88 417.90,375.33 418.25,375.30 418.60,375.70 418.95,375.54 419.30,375.79 419.65,375.83 420.00,375.17 420.35,374.87 420.70,375.67 421.05,375.49 421.40,375.59 421.75,375.23 422.10,375.75 422.45,375.44 422.80,375.67 423.15,375.78 423.50,375.54 423.85,375.48 424.20,375.30 424.55,376.32 424.90,375.09 425.25,375.72 425.60,375.05 425.95,375.26 426.30,375.93 426.65,375.28 427.00,375.82 427.35,375.39 427.70,375.77 428.05,375.08 428.40,375.16 428.75,375.94 429.10,375.60 429.45,375.19 429.80,375.36 430.15,374.67 430.50,375.40 430.85,375.10 431.20,375.21 431.55,375.95 431.90,375.33 432.25,375.31 432.60,375.16 432.95,375.70 433.30,375.66 433.65,375.24 434.00,375.00 434.35,375.43 434.70,375.53 435.05,374.90 435.40,375.83" fill="none" stroke="#ff2a2a" stroke-width="0.45" stroke-linejoin="round" opacity="1.0"/>
<polyline points="225.40,362.95 225.75,363.33 226.10,363.49 226.45,364.20 226.80,364.14 227.15,364.51 227.50,365.06 227.85,365.25 228.20,365.26 228.55,365.00 228.90,365.04 229.25,365.21 229.60,365.62 229.95,365.95 230.30,365.71 230.65,365.82 231.00,366.70 231.35,365.87 231.70,366.85 232.05,367.32 232.40,366.85 232.75,366.99 233.10,367.34 233.45,368.19 233.80,368.02 234.15,367.41 234.50,368.16 234.85,368.88 235.20,368.93 235.55,368.84 235.90,368.51 236.25,367.85 236.60,368.82 236.95,368.73 237.30,368.91 237.65,369.63 238.00,369.09 238.35,369.20 238.70,369.40 239.05,369.09 239.40,368.98 239.75,369.01 240.10,369.73 240.45,369.68 240.80,369.32 241.15,370.09 241.50,369.74 241.85,369.15 242.20,370.05 242.55,369.79 242.90,369.35 243.25,370.20 243.60,369.90 243.95,369.94 244.30,370.41 244.65,369.32 245.00,369.76 245.35,370.17 245.70,370.50 246.05,370.18 246.40,370.09 246.75,370.09 247.10,370.46 247.45,370.66 247.80,369.58 248.15,369.62 248.50,369.65 248.85,369.69 249.20,369.72 249.55,370.84 249.90,371.10 250.25,370.67 250.60,370.83 250.95,371.25 251.30,370.91 251.65,370.58 252.00,371.14 252.35,370.86 252.70,371.37 253.05,371.09 253.40,371.25 253.75,371.55 254.10,371.35 254.45,371.19 254.80,371.09 255.15,372.14 255.50,371.95 255.85,371.02 256.20,371.22 256.55,371.86 256.90,371.47 257.25,371.72 257.60,372.04 257.95,371.83 258.30,371.78 258.65,371.69 259.00,371.86 259.35,372.06 259.70,372.57 260.05,372.37 260.40,371.96 260.75,372.39 261.10,372.14 261.45,371.62 261.80,372.14 262.15,372.56 262.50,372.03 262.85,372.60 263.20,372.20 263.55,372.34 263.90,371.93 264.25,373.09 264.60,372.55 264.95,372.77 265.30,372.28 265.65,371.95 266.00,372.90 266.35,372.25 266.70,373.10 267.05,372.49 267.40,373.13 267.75,372.34 268.10,372.00 268.45,372.88 268.80,372.63 269.15,372.68 269.50,373.06 269.85,372.41 270.20,372.29 270.55,372.36 270.90,372.20 271.25,372.18 271.60,372.38 271.95,372.51 272.30,372.71 272.65,372.47 273.00,372.85 273.35,373.18 273.70,372.86 274.05,373.09 274.40,372.65 274.75,373.08 275.10,373.15 275.45,372.77 275.80,372.45 276.15,372.89 276.50,372.89 276.85,373.28 277.20,372.29 277.55,371.93 277.90,371.94 278.00,371.94 278.25,371.94 278.60,371.95 278.95,372.48 279.30,372.84 279.65,373.50 280.00,372.94 280.35,373.42 280.70,373.01 281.05,373.09 281.40,372.26 281.75,373.10 282.10,373.29 282.45,372.70 282.80,372.88 283.15,372.80 283.50,373.81 283.85,372.75 284.20,372.83 284.55,372.14 284.90,372.49 285.25,373.04 285.60,372.42 285.95,372.07 286.30,372.07 286.65,372.08 286.70,372.08 287.00,372.09 287.35,372.09 287.70,373.74 288.05,372.76 288.40,373.17 288.75,372.62 289.10,372.85 289.45,372.54 289.80,373.10 290.15,372.85 290.50,372.56 290.85,372.15 291.20,372.58 291.55,372.16 291.90,372.17 292.25,372.17 292.30,372.17 292.60,372.18 292.95,372.18 293.30,372.75 293.65,372.67 294.00,373.01 294.35,372.55 294.70,373.84 295.05,372.93 295.40,373.33 295.75,373.46 296.10,373.00 296.45,373.27 296.80,373.53 297.15,373.28 297.50,373.21 297.85,373.21 298.20,373.08 298.55,373.25 298.90,373.40 299.25,373.34 299.60,373.25 299.95,372.30 300.30,372.32 300.60,372.35 300.65,372.35 301.00,372.38 301.35,372.60 301.70,373.32 302.05,373.52 302.40,373.73 302.75,373.21 303.10,373.54 303.45,373.66 303.80,374.20 304.15,373.62 304.50,373.82 304.85,373.61 305.20,372.99 305.55,374.08 305.90,373.87 306.25,374.01 306.60,373.05 306.95,373.43 307.30,373.07 307.65,372.87 308.00,372.90 308.35,372.93 308.60,372.94 308.70,372.95 309.05,372.98 309.40,373.00 309.75,373.03 310.10,373.45 310.45,374.13 310.80,373.85 311.15,374.16 311.50,374.50 311.85,374.23 312.20,373.90 312.55,373.25 312.90,373.27 313.25,373.29 313.60,373.32 313.95,373.35 314.30,373.37 314.65,373.59 315.00,374.41 315.35,374.33 315.70,374.79 316.05,374.56 316.40,374.91 316.75,374.43 317.10,374.55 317.45,374.54 317.80,374.69 318.15,374.70 318.50,375.21 318.85,374.52 319.20,374.90 319.55,374.52 319.90,374.45 320.25,374.75 320.60,374.45 320.95,375.02 321.30,374.72 321.65,374.80 322.00,375.13 322.35,375.49 322.70,374.81 323.05,374.34 323.40,374.86 323.75,374.98 324.10,375.34 324.45,374.91 324.80,374.48 325.15,374.50 325.50,373.91 325.80,373.92 325.85,373.92 326.20,373.92 326.55,375.31 326.90,374.70 327.25,374.88 327.60,375.03 327.95,375.32 328.30,375.01 328.65,375.29 329.00,375.43 329.35,375.79 329.70,375.11 330.05,375.07 330.40,375.07 330.75,374.58 331.10,374.81 331.45,375.25 331.80,375.26 332.15,376.06 332.50,375.63 332.85,375.49 333.20,375.72 333.55,375.04 333.90,375.07 334.25,375.02 334.60,375.22 334.95,375.98 335.30,375.20 335.65,375.09 336.00,375.32 336.35,375.58 336.70,375.47 337.05,375.60 337.40,374.94 337.75,375.06 338.10,375.27 338.45,375.39 338.80,375.81 339.15,374.96 339.50,375.59 339.85,375.31 340.20,375.59 340.55,375.19 340.90,374.96 341.25,375.80 341.60,375.52 341.95,374.80 342.30,375.66 342.65,375.12 343.00,375.42 343.35,375.45 343.70,375.03 344.05,375.83 344.40,375.31 344.75,376.01 345.10,375.65 345.45,375.66 345.80,375.58 346.15,376.13 346.50,375.16 346.85,375.24 347.20,375.28 347.55,375.86 347.90,375.83 348.25,375.52 348.60,375.58 348.95,374.96 349.30,375.97 349.65,375.42 350.00,375.53 350.35,375.40 350.70,375.70 351.05,375.42 351.40,375.53 351.75,375.52 352.10,375.33 352.45,375.30 352.80,375.62 353.15,375.62 353.50,375.73 353.85,375.96 354.20,375.10 354.55,374.90 354.90,375.36 355.25,375.90 355.60,375.48 355.95,374.91 356.30,376.01 356.65,375.65 357.00,375.01 357.35,375.23 357.70,375.52 358.05,375.31 358.40,375.45 358.75,375.66 359.10,375.49 359.45,375.94 359.80,375.43 360.15,375.97 360.50,375.30 360.85,375.11 361.20,374.81 361.55,375.20 361.90,375.50 362.25,375.77 362.60,374.35 362.95,375.42 363.30,375.06 363.65,375.38 364.00,374.38 364.35,374.30 364.50,374.30 364.70,374.30 365.05,374.60 365.40,375.51 365.75,375.47 366.10,375.36 366.45,374.93 366.80,375.34 367.15,374.93 367.50,375.52 367.85,375.64 368.20,375.47 368.55,376.03 368.90,375.07 369.25,375.53 369.60,375.36 369.95,374.75 370.30,374.58 370.65,374.30 370.90,374.30 371.00,374.30 371.35,374.30 371.70,374.70 372.05,375.76 372.40,375.96 372.75,375.48 373.10,375.52 373.45,375.12 373.80,375.47 374.15,375.36 374.50,375.55 374.85,375.04 375.20,376.04 375.55,375.55 375.90,375.83 376.25,375.65 376.60,375.40 376.95,376.10 377.30,375.84 377.65,375.03 378.00,375.49 378.35,375.42 378.70,375.24 379.05,376.18 379.40,375.11 379.75,375.98 380.10,374.96 380.45,375.93 380.80,375.33 381.15,374.79 381.50,375.58 381.85,375.65 382.20,375.21 382.55,375.84 382.90,374.97 383.25,375.85 383.60,375.69 383.95,376.06 384.30,375.38 384.65,375.78 385.00,375.32 385.35,375.76 385.70,375.58 386.05,375.75 386.40,375.10 386.75,375.66 387.10,375.62 387.45,375.97 387.80,375.40 388.15,375.45 388.50,375.70 388.85,375.66 389.20,374.71 389.55,375.41 389.90,375.76 390.25,375.38 390.60,374.91 390.95,375.37 391.30,375.45 391.65,375.09 392.00,375.25 392.35,374.62 392.70,374.74 393.05,374.98 393.40,375.77 393.75,375.49 394.10,375.85 394.45,375.54 394.80,375.13 395.15,375.13 395.50,375.73 395.85,374.99 396.20,375.00 396.55,375.77 396.90,375.24 397.25,375.14 397.60,376.00 397.95,375.22 398.30,375.68 398.65,375.48 399.00,375.54 399.35,375.51 399.70,375.81 400.05,375.95 400.40,375.21 400.75,375.97 401.10,375.43 401.45,375.44 401.80,375.71 402.15,375.33 402.50,375.21 402.85,375.96 403.20,375.32 403.55,374.84 403.90,374.48 404.25,375.59 404.60,375.45 404.95,376.03 405.30,375.14 405.65,375.12 406.00,375.51 406.35,375.91 406.70,375.93 407.05,375.51 407.40,375.30 407.75,375.54 408.10,375.96 408.45,375.47 408.80,375.36 409.15,375.64 409.50,375.56 409.85,375.53 410.20,376.13 410.55,375.70 410.90,375.54 411.25,375.39 411.60,375.42 411.95,375.66 412.30,375.72 412.65,375.31 413.00,375.34 413.35,375.42 413.70,375.22 414.05,375.84 414.40,375.23 414.75,375.55 415.10,375.80 415.45,375.20 415.80,375.24 416.15,375.46 416.50,375.66 416.85,375.56 417.20,375.52 417.55,375.88 417.90,375.33 418.25,375.30 418.60,375.70 418.95,375.54 419.30,375.79 419.65,375.83 420.00,375.17 420.35,374.87 420.70,375.67 421.05,375.49 421.40,375.59 421.75,375.23 422.10,375.75 422.45,375.44 422.80,375.67 423.15,375.78 423.50,375.54 423.85,375.48 424.20,375.30 424.55,376.32 424.90,375.09 425.25,375.72 425.60,375.05 425.95,375.26 426.30,375.93 426.65,375.28 427.00,375.82 427.35,375.39 427.70,375.77 428.05,375.08 428.40,375.16 428.75,375.94 429.10,375.60 429.45,375.19 429.80,375.36 430.15,374.67 430.50,375.40 430.85,375.10 431.20,375.21 431.55,375.95 431.90,375.33 432.25,375.31 432.60,375.16 432.95,375.70 433.30,375.66 433.65,375.24 434.00,375.00 434.35,375.43 434.70,375.53 435.05,374.90 435.40,375.83" fill="none" stroke="#ff2a2a" stroke-width="0.85" stroke-linejoin="round" opacity="1.0"/>
<polyline points="225.60,414.26 226.10,414.67 226.60,414.71 227.10,414.35 227.60,414.48 228.10,414.49 228.60,414.83 229.10,414.74 229.60,415.00 230.10,414.40 230.60,415.29 231.10,414.89 231.60,415.06 232.10,414.75 232.60,414.43 233.10,413.88 233.60,408.82 234.10,383.56 234.40,371.15 234.60,377.67 235.10,405.66 235.60,413.42 236.10,415.09 236.60,415.30 237.10,415.27 237.60,415.75 238.10,415.99 238.60,415.94 239.10,415.98 239.60,416.46 240.10,416.78 240.60,416.58 241.10,416.53 241.60,416.88 242.10,417.02 242.60,416.77 243.10,416.76 243.60,415.11 244.10,411.27 244.20,410.95 244.60,413.58 245.10,416.58 245.60,417.48 246.10,417.02 246.60,417.24 247.10,417.23 247.60,417.04 248.10,417.53 248.60,417.64 249.10,417.34 249.60,417.89 250.10,417.76 250.60,417.72 251.10,417.68 251.60,417.83 252.10,417.27 252.60,417.76 253.10,417.77 253.60,417.18 254.10,417.71 254.60,417.57 255.10,417.82 255.60,417.51 256.10,417.61 256.60,417.68 257.10,417.34 257.60,417.65 258.10,417.36 258.60,417.28 259.10,416.37 259.60,412.07 260.10,394.97 260.30,391.00 260.60,398.70 261.10,413.93 261.60,417.20 262.10,416.86 262.60,417.67 263.10,417.63 263.60,417.24 264.10,415.92 264.40,416.03 264.60,415.65 265.10,417.34 265.60,417.99 266.10,417.34 266.60,417.67 267.10,417.40 267.60,417.72 268.10,417.89 268.60,417.45 269.10,412.32 269.60,401.99 269.70,401.68 270.10,408.96 270.60,416.26 271.10,417.24 271.60,417.75 272.10,417.77 272.60,417.76 273.10,417.62 273.60,417.76 274.10,416.74 274.60,413.90 274.80,413.34 275.10,414.15 275.60,416.88 276.10,418.00 276.60,417.73 277.10,417.40 277.60,418.00 278.10,417.63 278.60,417.65 279.10,415.81 279.60,408.29 280.10,393.56 280.20,393.29 280.60,399.78 281.10,393.37 281.50,380.02 281.60,381.95 282.10,405.85 282.60,415.55 283.10,416.87 283.60,417.32 284.10,417.00 284.60,413.42 285.00,411.05 285.10,410.96 285.60,415.43 286.10,417.01 286.60,417.56 287.10,418.18 287.60,417.53 288.10,416.24 288.50,415.00 288.60,415.30 289.10,417.17 289.60,418.24 290.10,418.10 290.60,417.93 291.10,417.72 291.60,416.40 292.10,411.31 292.40,409.36 292.60,410.50 293.10,415.88 293.60,417.66 294.10,417.49 294.60,417.88 295.10,417.40 295.60,413.87 296.10,403.55 296.30,401.26 296.60,405.28 297.10,415.44 297.60,417.79 298.10,418.46 298.60,418.58 299.10,417.48 299.60,415.11 300.10,409.85 300.20,409.60 300.60,412.95 301.10,417.19 301.60,418.11 302.10,417.67 302.60,416.74 303.10,413.02 303.30,412.55 303.60,413.82 304.10,417.41 304.60,418.34 305.10,418.20 305.60,417.55 306.10,413.35 306.60,405.07 306.70,404.71 307.10,409.74 307.60,416.56 308.10,417.80 308.60,417.21 309.10,412.39 309.50,409.55 309.60,409.43 310.10,414.82 310.60,417.49 311.10,416.16 311.60,411.83 311.80,410.73 312.10,412.48 312.60,416.90 313.10,418.66 313.60,418.51 314.10,418.18 314.60,418.29 315.10,416.99 315.60,412.23 316.10,400.46 316.20,400.38 316.60,407.31 317.10,415.79 317.60,418.26 318.10,418.77 318.60,418.73 319.10,418.57 319.60,417.54 320.10,412.94 320.40,411.11 320.60,411.94 321.10,416.95 321.60,418.35 322.10,419.09 322.60,418.86 323.10,418.76 323.60,419.14 324.10,419.47 324.60,419.25 325.10,418.76 325.60,418.47 326.10,414.99 326.60,410.97 327.10,415.06 327.60,417.49 328.10,417.81 328.60,414.37 328.90,413.09 329.10,413.58 329.60,416.99 330.10,417.96 330.60,416.08 331.10,413.04 331.60,415.40 332.10,416.45 332.40,415.74 332.60,415.81 333.10,418.37 333.60,419.21 334.10,419.13 334.60,419.35 335.10,419.41 335.60,419.01 336.10,418.74 336.60,418.68 337.10,417.22 337.60,413.39 338.10,409.66 338.20,409.61 338.60,410.36 339.10,410.81 339.50,409.58 339.60,410.08 340.10,416.04 340.60,418.55 341.10,419.36 341.60,419.81 342.10,419.38 342.60,417.91 343.10,416.76 343.60,418.46 344.10,419.43 344.60,419.43 345.10,420.00 345.60,419.29 346.10,419.62 346.60,418.67 347.10,415.42 347.40,414.77 347.60,415.17 348.10,417.97 348.60,419.54 349.10,419.24 349.60,417.49 350.10,415.01 350.20,415.10 350.60,416.96 351.10,419.08 351.60,419.17 352.10,417.92 352.40,417.15 352.60,417.81 353.10,419.11 353.60,419.68 354.10,419.64 354.60,418.03 355.10,414.78 355.30,414.69 355.60,415.72 356.10,418.70 356.60,419.74 357.10,419.68 357.60,419.92 358.10,419.71 358.60,419.95 359.10,419.48 359.60,420.19 360.10,419.68 360.60,419.31 361.10,419.26 361.60,417.05 362.10,412.84 362.20,412.19 362.60,413.97 363.10,414.60 363.30,413.17 363.60,415.26 364.10,418.54 364.60,419.66 365.10,419.35 365.60,419.59 366.10,420.04 366.60,419.94 367.10,420.37 367.60,419.80 368.10,420.02 368.60,420.71 369.10,419.78 369.60,419.72 370.10,419.84 370.60,419.34 371.10,418.45 371.40,417.90 371.60,417.86 372.10,419.23 372.60,420.47 373.10,420.28 373.60,419.31 374.10,419.99 374.60,419.82 375.10,420.20 375.60,420.00 376.10,420.53 376.60,420.29 377.10,420.28 377.60,420.10 378.10,420.04 378.60,420.13 379.10,420.36 379.60,420.14 380.10,419.80 380.60,419.72 381.10,418.56 381.30,418.36 381.60,418.47 382.10,419.40 382.60,419.78 383.10,419.32 383.60,420.29 384.10,420.18 384.60,419.97 385.10,420.25 385.60,419.89 386.10,419.08 386.60,417.31 386.70,417.82 387.10,418.63 387.60,419.97 388.10,420.41 388.60,420.39 389.10,419.77 389.60,419.53 390.10,420.22 390.60,420.08 391.10,420.30 391.60,419.97 392.10,419.78 392.60,418.56 393.00,418.59 393.10,418.40 393.60,419.39 394.10,420.01 394.60,420.03 395.10,420.17 395.60,420.10 396.10,420.30 396.60,420.24 397.10,419.98 397.60,419.97 398.10,420.54 398.60,420.03 399.10,420.06 399.60,419.26 400.00,418.64 400.10,418.62 400.60,419.50 401.10,420.02 401.60,420.24 402.10,419.80 402.60,419.98 403.10,420.11 403.60,420.53 404.10,419.54 404.60,420.23 405.10,419.96 405.60,420.15 406.10,419.69 406.60,418.59 407.10,416.31 407.20,415.87 407.60,417.52 408.10,419.62 408.60,419.82 409.10,420.23 409.60,420.08 410.10,419.95 410.60,420.15 411.10,420.11 411.60,420.36 412.10,420.16 412.60,420.03 413.10,420.52 413.60,420.35 414.10,420.17 414.60,419.33 415.00,418.75 415.10,418.71 415.60,419.43 416.10,420.24 416.60,420.17 417.10,419.80 417.60,420.17 418.10,419.83 418.60,420.23 419.10,419.87 419.60,419.82 420.10,419.95 420.60,419.30 421.00,418.56 421.10,419.19 421.60,420.14 422.10,419.67 422.60,420.61 423.10,419.99 423.60,420.00 424.10,419.83 424.60,418.82 425.00,419.10 425.10,418.93 425.60,419.32 426.10,419.96 426.60,419.79 427.10,420.11 427.60,420.44 428.10,419.77 428.60,420.05 429.10,419.97 429.60,419.59 430.00,419.31 430.10,418.89 430.60,419.43 431.10,420.18 431.60,420.09 432.10,420.11 432.60,420.40 433.10,420.25 433.60,419.05 434.00,418.44 434.10,418.67 434.60,418.91 435.10,420.02 435.60,419.94 436.10,420.84" fill="none" stroke="#5a5aff" stroke-width="0.5" stroke-linejoin="round" opacity="1.0"/>
<polyline points="225.60,414.26 226.10,414.67 226.60,414.71 227.10,414.35 227.60,414.48 228.10,414.49 228.60,414.83 229.10,414.74 229.60,415.00 230.10,414.40 230.60,415.29 231.10,414.89 231.60,415.06 232.10,414.75 232.60,414.43 233.10,414.34 233.60,414.42 234.10,414.50 234.40,414.55 234.60,414.58 235.10,414.67 235.60,414.75 236.10,415.09 236.60,415.30 237.10,415.27 237.60,415.75 238.10,415.99 238.60,415.94 239.10,415.98 239.60,416.46 240.10,416.78 240.60,416.58 241.10,416.53 241.60,416.88 242.10,417.02 242.60,416.77 243.10,416.76 243.60,416.07 244.10,416.15 244.20,416.17 244.60,416.23 245.10,416.58 245.60,417.48 246.10,417.02 246.60,417.24 247.10,417.23 247.60,417.04 248.10,417.53 248.60,417.64 249.10,417.34 249.60,417.89 250.10,417.76 250.60,417.72 251.10,417.68 251.60,417.83 252.10,417.27 252.60,417.76 253.10,417.77 253.60,417.18 254.10,417.71 254.60,417.57 255.10,417.82 255.60,417.51 256.10,417.61 256.60,417.68 257.10,417.34 257.60,417.65 258.10,417.36 258.60,417.28 259.10,416.62 259.60,416.63 260.10,416.65 260.30,416.65 260.60,416.66 261.10,416.67 261.60,417.20 262.10,416.86 262.60,417.67 263.10,417.63 263.60,417.24 264.10,416.74 264.40,416.74 264.60,416.75 265.10,417.34 265.60,417.99 266.10,417.34 266.60,417.67 267.10,417.40 267.60,417.72 268.10,417.89 268.60,417.45 269.10,416.85 269.60,416.86 269.70,416.86 270.10,416.87 270.60,416.89 271.10,417.24 271.60,417.75 272.10,417.77 272.60,417.76 273.10,417.62 273.60,417.76 274.10,416.97 274.60,416.98 274.80,416.98 275.10,416.99 275.60,417.00 276.10,418.00 276.60,417.73 277.10,417.40 277.60,418.00 278.10,417.63 278.60,417.65 279.10,417.08 279.60,417.09 280.10,417.10 280.20,417.10 280.60,417.11 281.10,417.12 281.50,417.13 281.60,417.14 282.10,417.15 282.60,417.16 283.10,417.17 283.60,417.32 284.10,417.19 284.60,417.20 285.00,417.21 285.10,417.21 285.60,417.23 286.10,417.24 286.60,417.56 287.10,418.18 287.60,417.53 288.10,417.28 288.50,417.29 288.60,417.29 289.10,417.30 289.60,418.24 290.10,418.10 290.60,417.93 291.10,417.72 291.60,417.36 292.10,417.37 292.40,417.38 292.60,417.38 293.10,417.39 293.60,417.66 294.10,417.49 294.60,417.88 295.10,417.44 295.60,417.45 296.10,417.46 296.30,417.47 296.60,417.47 297.10,417.48 297.60,417.79 298.10,418.46 298.60,418.58 299.10,417.53 299.60,417.54 300.10,417.55 300.20,417.55 300.60,417.56 301.10,417.57 301.60,418.11 302.10,417.67 302.60,417.61 303.10,417.62 303.30,417.62 303.60,417.63 304.10,417.64 304.60,418.34 305.10,418.20 305.60,417.68 306.10,417.69 306.60,417.70 306.70,417.70 307.10,417.71 307.60,417.72 308.10,417.80 308.60,417.74 309.10,417.75 309.50,417.76 309.60,417.77 310.10,417.78 310.60,417.79 311.10,417.80 311.60,417.81 311.80,417.82 312.10,417.82 312.60,417.83 313.10,418.66 313.60,418.51 314.10,418.18 314.60,418.29 315.10,417.89 315.60,417.90 316.10,417.91 316.20,417.91 316.60,417.92 317.10,417.93 317.60,418.26 318.10,418.77 318.60,418.73 319.10,418.57 319.60,417.99 320.10,418.00 320.40,418.01 320.60,418.02 321.10,418.03 321.60,418.35 322.10,419.09 322.60,418.86 323.10,418.76 323.60,419.14 324.10,419.47 324.60,419.25 325.10,418.76 325.60,418.47 326.10,418.16 326.60,418.18 327.10,418.19 327.60,418.20 328.10,418.22 328.60,418.23 328.90,418.24 329.10,418.24 329.60,418.26 330.10,418.27 330.60,418.28 331.10,418.30 331.60,418.31 332.10,418.32 332.40,418.33 332.60,418.34 333.10,418.37 333.60,419.21 334.10,419.13 334.60,419.35 335.10,419.41 335.60,419.01 336.10,418.74 336.60,418.68 337.10,418.46 337.60,418.47 338.10,418.48 338.20,418.49 338.60,418.50 339.10,418.51 339.50,418.52 339.60,418.52 340.10,418.54 340.60,418.55 341.10,419.36 341.60,419.81 342.10,419.38 342.60,418.60 343.10,418.62 343.60,418.63 344.10,419.43 344.60,419.43 345.10,420.00 345.60,419.29 346.10,419.62 346.60,418.71 347.10,418.72 347.40,418.73 347.60,418.74 348.10,418.75 348.60,419.54 349.10,419.24 349.60,418.79 350.10,418.80 350.20,418.80 350.60,418.80 351.10,419.08 351.60,419.17 352.10,418.81 352.40,418.81 352.60,418.81 353.10,419.11 353.60,419.68 354.10,419.64 354.60,418.82 355.10,418.82 355.30,418.82 355.60,418.82 356.10,418.82 356.60,419.74 357.10,419.68 357.60,419.92 358.10,419.71 358.60,419.95 359.10,419.48 359.60,420.19 360.10,419.68 360.60,419.31 361.10,419.26 361.60,418.84 362.10,418.84 362.20,418.84 362.60,418.84 363.10,418.85 363.30,418.85 363.60,418.85 364.10,418.85 364.60,419.66 365.10,419.35 365.60,419.59 366.10,420.04 366.60,419.94 367.10,420.37 367.60,419.80 368.10,420.02 368.60,420.71 369.10,419.78 369.60,419.72 370.10,419.84 370.60,419.34 371.10,418.87 371.40,418.87 371.60,418.88 372.10,419.23 372.60,420.47 373.10,420.28 373.60,419.31 374.10,419.99 374.60,419.82 375.10,420.20 375.60,420.00 376.10,420.53 376.60,420.29 377.10,420.28 377.60,420.10 378.10,420.04 378.60,420.13 379.10,420.36 379.60,420.14 380.10,419.80 380.60,419.72 381.10,418.91 381.30,418.91 381.60,418.91 382.10,419.40 382.60,419.78 383.10,419.32 383.60,420.29 384.10,420.18 384.60,419.97 385.10,420.25 385.60,419.89 386.10,419.08 386.60,418.93 386.70,418.93 387.10,418.93 387.60,419.97 388.10,420.41 388.60,420.39 389.10,419.77 389.60,419.53 390.10,420.22 390.60,420.08 391.10,420.30 391.60,419.97 392.10,419.78 392.60,418.95 393.00,418.95 393.10,418.95 393.60,419.39 394.10,420.01 394.60,420.03 395.10,420.17 395.60,420.10 396.10,420.30 396.60,420.24 397.10,419.98 397.60,419.97 398.10,420.54 398.60,420.03 399.10,420.06 399.60,419.26 400.00,418.97 400.10,418.97 400.60,419.50 401.10,420.02 401.60,420.24 402.10,419.80 402.60,419.98 403.10,420.11 403.60,420.53 404.10,419.54 404.60,420.23 405.10,419.96 405.60,420.15 406.10,419.69 406.60,419.00 407.10,419.00 407.20,419.00 407.60,419.00 408.10,419.62 408.60,419.82 409.10,420.23 409.60,420.08 410.10,419.95 410.60,420.15 411.10,420.11 411.60,420.36 412.10,420.16 412.60,420.03 413.10,420.52 413.60,420.35 414.10,420.17 414.60,419.33 415.00,419.03 415.10,419.03 415.60,419.43 416.10,420.24 416.60,420.17 417.10,419.80 417.60,420.17 418.10,419.83 418.60,420.23 419.10,419.87 419.60,419.82 420.10,419.95 420.60,419.30 421.00,419.05 421.10,419.19 421.60,420.14 422.10,419.67 422.60,420.61 423.10,419.99 423.60,420.00 424.10,419.83 424.60,419.06 425.00,419.10 425.10,419.06 425.60,419.32 426.10,419.96 426.60,419.79 427.10,420.11 427.60,420.44 428.10,419.77 428.60,420.05 429.10,419.97 429.60,419.59 430.00,419.31 430.10,419.08 430.60,419.43 431.10,420.18 431.60,420.09 432.10,420.11 432.60,420.40 433.10,420.25 433.60,419.09 434.00,419.09 434.10,419.09 434.60,419.10 435.10,420.02 435.60,419.94 436.10,420.84" fill="none" stroke="#5a5aff" stroke-width="0.65" stroke-linejoin="round" opacity="1.0"/>
</svg>
</body></html>
